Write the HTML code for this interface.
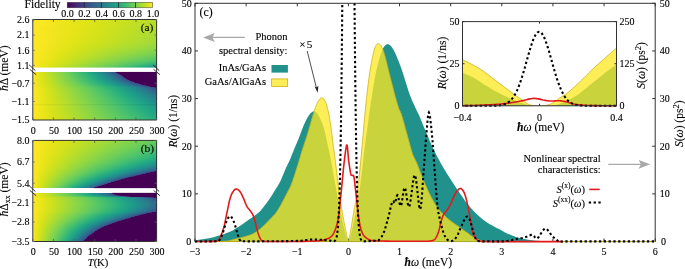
<!DOCTYPE html>
<html><head><meta charset="utf-8"><title>figure</title><style>
html,body{margin:0;padding:0;background:#fff;}
body{width:685px;height:269px;overflow:hidden;}
svg{display:block;font-family:"Liberation Serif",serif;will-change:transform;}
</style></head><body>
<svg xmlns="http://www.w3.org/2000/svg" width="685" height="269" viewBox="0 0 685 269">
<defs>
<linearGradient id="cb" x1="0" x2="1" y1="0" y2="0"><stop offset="0" stop-color="#440154"/><stop offset="0.1" stop-color="#482475"/><stop offset="0.2" stop-color="#414487"/><stop offset="0.3" stop-color="#355f8d"/><stop offset="0.4" stop-color="#2a788e"/><stop offset="0.5" stop-color="#21918c"/><stop offset="0.6" stop-color="#22a884"/><stop offset="0.7" stop-color="#44bf70"/><stop offset="0.8" stop-color="#7ad151"/><stop offset="0.9" stop-color="#bddf26"/><stop offset="1" stop-color="#fde725"/></linearGradient>
<clipPath id="cm"><rect x="195" y="3.3" width="460.2" height="239.4"/></clipPath>
<clipPath id="cm2"><rect x="192" y="3.3" width="466.2" height="242.2"/></clipPath>
</defs>
<defs><linearGradient id="h1"><stop offset="0.0000" stop-color="#fde725"/><stop offset="0.0667" stop-color="#fbe723"/><stop offset="0.1333" stop-color="#f6e620"/><stop offset="0.2000" stop-color="#f1e51d"/><stop offset="0.2667" stop-color="#ece51b"/><stop offset="0.3333" stop-color="#e7e419"/><stop offset="0.4000" stop-color="#e2e418"/><stop offset="0.4667" stop-color="#dde318"/><stop offset="0.5333" stop-color="#d8e219"/><stop offset="0.6000" stop-color="#d5e21a"/><stop offset="0.6667" stop-color="#d0e11c"/><stop offset="0.7333" stop-color="#cae11f"/><stop offset="0.8000" stop-color="#c5e021"/><stop offset="0.8667" stop-color="#c0df25"/><stop offset="0.9333" stop-color="#bade28"/><stop offset="1.0000" stop-color="#b5de2b"/></linearGradient><linearGradient id="h2"><stop offset="0.0000" stop-color="#fde725"/><stop offset="0.0667" stop-color="#fbe723"/><stop offset="0.1333" stop-color="#f6e620"/><stop offset="0.2000" stop-color="#f1e51d"/><stop offset="0.2667" stop-color="#ece51b"/><stop offset="0.3333" stop-color="#e7e419"/><stop offset="0.4000" stop-color="#e2e418"/><stop offset="0.4667" stop-color="#dde318"/><stop offset="0.5333" stop-color="#d8e219"/><stop offset="0.6000" stop-color="#d2e21b"/><stop offset="0.6667" stop-color="#d0e11c"/><stop offset="0.7333" stop-color="#cae11f"/><stop offset="0.8000" stop-color="#c5e021"/><stop offset="0.8667" stop-color="#c0df25"/><stop offset="0.9333" stop-color="#bade28"/><stop offset="1.0000" stop-color="#b5de2b"/></linearGradient><linearGradient id="h3"><stop offset="0.0000" stop-color="#fde725"/><stop offset="0.0667" stop-color="#fbe723"/><stop offset="0.1333" stop-color="#f6e620"/><stop offset="0.2000" stop-color="#f1e51d"/><stop offset="0.2667" stop-color="#ece51b"/><stop offset="0.3333" stop-color="#e7e419"/><stop offset="0.4000" stop-color="#e2e418"/><stop offset="0.4667" stop-color="#dde318"/><stop offset="0.5333" stop-color="#d8e219"/><stop offset="0.6000" stop-color="#d2e21b"/><stop offset="0.6667" stop-color="#cde11d"/><stop offset="0.7333" stop-color="#c8e020"/><stop offset="0.8000" stop-color="#c5e021"/><stop offset="0.8667" stop-color="#c0df25"/><stop offset="0.9333" stop-color="#bade28"/><stop offset="1.0000" stop-color="#b5de2b"/></linearGradient><linearGradient id="h4"><stop offset="0.0000" stop-color="#fde725"/><stop offset="0.0667" stop-color="#fbe723"/><stop offset="0.1333" stop-color="#f6e620"/><stop offset="0.2000" stop-color="#f1e51d"/><stop offset="0.2667" stop-color="#ece51b"/><stop offset="0.3333" stop-color="#e7e419"/><stop offset="0.4000" stop-color="#e2e418"/><stop offset="0.4667" stop-color="#dde318"/><stop offset="0.5333" stop-color="#d8e219"/><stop offset="0.6000" stop-color="#d2e21b"/><stop offset="0.6667" stop-color="#cde11d"/><stop offset="0.7333" stop-color="#c8e020"/><stop offset="0.8000" stop-color="#c2df23"/><stop offset="0.8667" stop-color="#bddf26"/><stop offset="0.9333" stop-color="#b8de29"/><stop offset="1.0000" stop-color="#b5de2b"/></linearGradient><linearGradient id="h5"><stop offset="0.0000" stop-color="#fde725"/><stop offset="0.0667" stop-color="#fbe723"/><stop offset="0.1333" stop-color="#f6e620"/><stop offset="0.2000" stop-color="#f1e51d"/><stop offset="0.2667" stop-color="#ece51b"/><stop offset="0.3333" stop-color="#e7e419"/><stop offset="0.4000" stop-color="#e2e418"/><stop offset="0.4667" stop-color="#dde318"/><stop offset="0.5333" stop-color="#d8e219"/><stop offset="0.6000" stop-color="#d2e21b"/><stop offset="0.6667" stop-color="#cde11d"/><stop offset="0.7333" stop-color="#c8e020"/><stop offset="0.8000" stop-color="#c2df23"/><stop offset="0.8667" stop-color="#bddf26"/><stop offset="0.9333" stop-color="#b8de29"/><stop offset="1.0000" stop-color="#b2dd2d"/></linearGradient><linearGradient id="h6"><stop offset="0.0000" stop-color="#fde725"/><stop offset="0.0667" stop-color="#fbe723"/><stop offset="0.1333" stop-color="#f6e620"/><stop offset="0.2000" stop-color="#f1e51d"/><stop offset="0.2667" stop-color="#ece51b"/><stop offset="0.3333" stop-color="#e7e419"/><stop offset="0.4000" stop-color="#e2e418"/><stop offset="0.4667" stop-color="#dde318"/><stop offset="0.5333" stop-color="#d8e219"/><stop offset="0.6000" stop-color="#d2e21b"/><stop offset="0.6667" stop-color="#cde11d"/><stop offset="0.7333" stop-color="#c8e020"/><stop offset="0.8000" stop-color="#c2df23"/><stop offset="0.8667" stop-color="#bddf26"/><stop offset="0.9333" stop-color="#b8de29"/><stop offset="1.0000" stop-color="#b2dd2d"/></linearGradient><linearGradient id="h7"><stop offset="0.0000" stop-color="#fde725"/><stop offset="0.0667" stop-color="#fbe723"/><stop offset="0.1333" stop-color="#f6e620"/><stop offset="0.2000" stop-color="#f1e51d"/><stop offset="0.2667" stop-color="#ece51b"/><stop offset="0.3333" stop-color="#e7e419"/><stop offset="0.4000" stop-color="#e2e418"/><stop offset="0.4667" stop-color="#dde318"/><stop offset="0.5333" stop-color="#d8e219"/><stop offset="0.6000" stop-color="#d2e21b"/><stop offset="0.6667" stop-color="#cde11d"/><stop offset="0.7333" stop-color="#c8e020"/><stop offset="0.8000" stop-color="#c2df23"/><stop offset="0.8667" stop-color="#bddf26"/><stop offset="0.9333" stop-color="#b8de29"/><stop offset="1.0000" stop-color="#b2dd2d"/></linearGradient><linearGradient id="h8"><stop offset="0.0000" stop-color="#fde725"/><stop offset="0.0667" stop-color="#f8e621"/><stop offset="0.1333" stop-color="#f4e61e"/><stop offset="0.2000" stop-color="#efe51c"/><stop offset="0.2667" stop-color="#eae51a"/><stop offset="0.3333" stop-color="#e5e419"/><stop offset="0.4000" stop-color="#dfe318"/><stop offset="0.4667" stop-color="#dae319"/><stop offset="0.5333" stop-color="#d5e21a"/><stop offset="0.6000" stop-color="#d0e11c"/><stop offset="0.6667" stop-color="#cae11f"/><stop offset="0.7333" stop-color="#c5e021"/><stop offset="0.8000" stop-color="#c0df25"/><stop offset="0.8667" stop-color="#bade28"/><stop offset="0.9333" stop-color="#b5de2b"/><stop offset="1.0000" stop-color="#b0dd2f"/></linearGradient><linearGradient id="h9"><stop offset="0.0000" stop-color="#fde725"/><stop offset="0.0667" stop-color="#f8e621"/><stop offset="0.1333" stop-color="#f4e61e"/><stop offset="0.2000" stop-color="#efe51c"/><stop offset="0.2667" stop-color="#eae51a"/><stop offset="0.3333" stop-color="#e5e419"/><stop offset="0.4000" stop-color="#dfe318"/><stop offset="0.4667" stop-color="#dae319"/><stop offset="0.5333" stop-color="#d5e21a"/><stop offset="0.6000" stop-color="#d0e11c"/><stop offset="0.6667" stop-color="#cae11f"/><stop offset="0.7333" stop-color="#c5e021"/><stop offset="0.8000" stop-color="#c0df25"/><stop offset="0.8667" stop-color="#bade28"/><stop offset="0.9333" stop-color="#b5de2b"/><stop offset="1.0000" stop-color="#b0dd2f"/></linearGradient><linearGradient id="h10"><stop offset="0.0000" stop-color="#fde725"/><stop offset="0.0667" stop-color="#f8e621"/><stop offset="0.1333" stop-color="#f4e61e"/><stop offset="0.2000" stop-color="#efe51c"/><stop offset="0.2667" stop-color="#eae51a"/><stop offset="0.3333" stop-color="#e5e419"/><stop offset="0.4000" stop-color="#dfe318"/><stop offset="0.4667" stop-color="#dae319"/><stop offset="0.5333" stop-color="#d5e21a"/><stop offset="0.6000" stop-color="#d0e11c"/><stop offset="0.6667" stop-color="#cae11f"/><stop offset="0.7333" stop-color="#c5e021"/><stop offset="0.8000" stop-color="#c0df25"/><stop offset="0.8667" stop-color="#bade28"/><stop offset="0.9333" stop-color="#b5de2b"/><stop offset="1.0000" stop-color="#b0dd2f"/></linearGradient><linearGradient id="h11"><stop offset="0.0000" stop-color="#fde725"/><stop offset="0.0667" stop-color="#f8e621"/><stop offset="0.1333" stop-color="#f4e61e"/><stop offset="0.2000" stop-color="#efe51c"/><stop offset="0.2667" stop-color="#eae51a"/><stop offset="0.3333" stop-color="#e5e419"/><stop offset="0.4000" stop-color="#dfe318"/><stop offset="0.4667" stop-color="#dae319"/><stop offset="0.5333" stop-color="#d5e21a"/><stop offset="0.6000" stop-color="#d0e11c"/><stop offset="0.6667" stop-color="#cae11f"/><stop offset="0.7333" stop-color="#c5e021"/><stop offset="0.8000" stop-color="#c0df25"/><stop offset="0.8667" stop-color="#bade28"/><stop offset="0.9333" stop-color="#b2dd2d"/><stop offset="1.0000" stop-color="#addc30"/></linearGradient><linearGradient id="h12"><stop offset="0.0000" stop-color="#fde725"/><stop offset="0.0667" stop-color="#f8e621"/><stop offset="0.1333" stop-color="#f4e61e"/><stop offset="0.2000" stop-color="#efe51c"/><stop offset="0.2667" stop-color="#eae51a"/><stop offset="0.3333" stop-color="#e5e419"/><stop offset="0.4000" stop-color="#dfe318"/><stop offset="0.4667" stop-color="#dae319"/><stop offset="0.5333" stop-color="#d5e21a"/><stop offset="0.6000" stop-color="#d0e11c"/><stop offset="0.6667" stop-color="#cae11f"/><stop offset="0.7333" stop-color="#c2df23"/><stop offset="0.8000" stop-color="#bddf26"/><stop offset="0.8667" stop-color="#b8de29"/><stop offset="0.9333" stop-color="#b2dd2d"/><stop offset="1.0000" stop-color="#addc30"/></linearGradient><linearGradient id="h13"><stop offset="0.0000" stop-color="#fde725"/><stop offset="0.0667" stop-color="#f8e621"/><stop offset="0.1333" stop-color="#f4e61e"/><stop offset="0.2000" stop-color="#efe51c"/><stop offset="0.2667" stop-color="#eae51a"/><stop offset="0.3333" stop-color="#e5e419"/><stop offset="0.4000" stop-color="#dfe318"/><stop offset="0.4667" stop-color="#dae319"/><stop offset="0.5333" stop-color="#d5e21a"/><stop offset="0.6000" stop-color="#cde11d"/><stop offset="0.6667" stop-color="#c8e020"/><stop offset="0.7333" stop-color="#c2df23"/><stop offset="0.8000" stop-color="#bddf26"/><stop offset="0.8667" stop-color="#b8de29"/><stop offset="0.9333" stop-color="#b2dd2d"/><stop offset="1.0000" stop-color="#addc30"/></linearGradient><linearGradient id="h14"><stop offset="0.0000" stop-color="#fde725"/><stop offset="0.0667" stop-color="#f8e621"/><stop offset="0.1333" stop-color="#f4e61e"/><stop offset="0.2000" stop-color="#efe51c"/><stop offset="0.2667" stop-color="#eae51a"/><stop offset="0.3333" stop-color="#e5e419"/><stop offset="0.4000" stop-color="#dfe318"/><stop offset="0.4667" stop-color="#dae319"/><stop offset="0.5333" stop-color="#d2e21b"/><stop offset="0.6000" stop-color="#cde11d"/><stop offset="0.6667" stop-color="#c8e020"/><stop offset="0.7333" stop-color="#c2df23"/><stop offset="0.8000" stop-color="#bddf26"/><stop offset="0.8667" stop-color="#b8de29"/><stop offset="0.9333" stop-color="#b0dd2f"/><stop offset="1.0000" stop-color="#aadc32"/></linearGradient><linearGradient id="h15"><stop offset="0.0000" stop-color="#fde725"/><stop offset="0.0667" stop-color="#f8e621"/><stop offset="0.1333" stop-color="#f4e61e"/><stop offset="0.2000" stop-color="#efe51c"/><stop offset="0.2667" stop-color="#eae51a"/><stop offset="0.3333" stop-color="#e5e419"/><stop offset="0.4000" stop-color="#dfe318"/><stop offset="0.4667" stop-color="#d8e219"/><stop offset="0.5333" stop-color="#d2e21b"/><stop offset="0.6000" stop-color="#cde11d"/><stop offset="0.6667" stop-color="#c8e020"/><stop offset="0.7333" stop-color="#c2df23"/><stop offset="0.8000" stop-color="#bddf26"/><stop offset="0.8667" stop-color="#b5de2b"/><stop offset="0.9333" stop-color="#b0dd2f"/><stop offset="1.0000" stop-color="#aadc32"/></linearGradient><linearGradient id="h16"><stop offset="0.0000" stop-color="#fde725"/><stop offset="0.0667" stop-color="#f8e621"/><stop offset="0.1333" stop-color="#f4e61e"/><stop offset="0.2000" stop-color="#efe51c"/><stop offset="0.2667" stop-color="#eae51a"/><stop offset="0.3333" stop-color="#e5e419"/><stop offset="0.4000" stop-color="#dde318"/><stop offset="0.4667" stop-color="#d8e219"/><stop offset="0.5333" stop-color="#d2e21b"/><stop offset="0.6000" stop-color="#cde11d"/><stop offset="0.6667" stop-color="#c8e020"/><stop offset="0.7333" stop-color="#c0df25"/><stop offset="0.8000" stop-color="#bade28"/><stop offset="0.8667" stop-color="#b5de2b"/><stop offset="0.9333" stop-color="#b0dd2f"/><stop offset="1.0000" stop-color="#aadc32"/></linearGradient><linearGradient id="h17"><stop offset="0.0000" stop-color="#fde725"/><stop offset="0.0667" stop-color="#f8e621"/><stop offset="0.1333" stop-color="#f4e61e"/><stop offset="0.2000" stop-color="#efe51c"/><stop offset="0.2667" stop-color="#eae51a"/><stop offset="0.3333" stop-color="#e2e418"/><stop offset="0.4000" stop-color="#dde318"/><stop offset="0.4667" stop-color="#d8e219"/><stop offset="0.5333" stop-color="#d2e21b"/><stop offset="0.6000" stop-color="#cde11d"/><stop offset="0.6667" stop-color="#c5e021"/><stop offset="0.7333" stop-color="#c0df25"/><stop offset="0.8000" stop-color="#bade28"/><stop offset="0.8667" stop-color="#b5de2b"/><stop offset="0.9333" stop-color="#addc30"/><stop offset="1.0000" stop-color="#a8db34"/></linearGradient><linearGradient id="h18"><stop offset="0.0000" stop-color="#fde725"/><stop offset="0.0667" stop-color="#f8e621"/><stop offset="0.1333" stop-color="#f4e61e"/><stop offset="0.2000" stop-color="#efe51c"/><stop offset="0.2667" stop-color="#eae51a"/><stop offset="0.3333" stop-color="#e2e418"/><stop offset="0.4000" stop-color="#dde318"/><stop offset="0.4667" stop-color="#d8e219"/><stop offset="0.5333" stop-color="#d2e21b"/><stop offset="0.6000" stop-color="#cae11f"/><stop offset="0.6667" stop-color="#c5e021"/><stop offset="0.7333" stop-color="#c0df25"/><stop offset="0.8000" stop-color="#bade28"/><stop offset="0.8667" stop-color="#b2dd2d"/><stop offset="0.9333" stop-color="#addc30"/><stop offset="1.0000" stop-color="#a8db34"/></linearGradient><linearGradient id="h19"><stop offset="0.0000" stop-color="#fde725"/><stop offset="0.0667" stop-color="#f8e621"/><stop offset="0.1333" stop-color="#f4e61e"/><stop offset="0.2000" stop-color="#efe51c"/><stop offset="0.2667" stop-color="#e7e419"/><stop offset="0.3333" stop-color="#e2e418"/><stop offset="0.4000" stop-color="#dde318"/><stop offset="0.4667" stop-color="#d8e219"/><stop offset="0.5333" stop-color="#d0e11c"/><stop offset="0.6000" stop-color="#cae11f"/><stop offset="0.6667" stop-color="#c5e021"/><stop offset="0.7333" stop-color="#c0df25"/><stop offset="0.8000" stop-color="#b8de29"/><stop offset="0.8667" stop-color="#b2dd2d"/><stop offset="0.9333" stop-color="#addc30"/><stop offset="1.0000" stop-color="#a8db34"/></linearGradient><linearGradient id="h20"><stop offset="0.0000" stop-color="#fde725"/><stop offset="0.0667" stop-color="#f8e621"/><stop offset="0.1333" stop-color="#f4e61e"/><stop offset="0.2000" stop-color="#efe51c"/><stop offset="0.2667" stop-color="#e7e419"/><stop offset="0.3333" stop-color="#e2e418"/><stop offset="0.4000" stop-color="#dde318"/><stop offset="0.4667" stop-color="#d5e21a"/><stop offset="0.5333" stop-color="#d0e11c"/><stop offset="0.6000" stop-color="#cae11f"/><stop offset="0.6667" stop-color="#c5e021"/><stop offset="0.7333" stop-color="#bddf26"/><stop offset="0.8000" stop-color="#b8de29"/><stop offset="0.8667" stop-color="#b2dd2d"/><stop offset="0.9333" stop-color="#aadc32"/><stop offset="1.0000" stop-color="#a5db36"/></linearGradient><linearGradient id="h21"><stop offset="0.0000" stop-color="#fde725"/><stop offset="0.0667" stop-color="#f8e621"/><stop offset="0.1333" stop-color="#f4e61e"/><stop offset="0.2000" stop-color="#efe51c"/><stop offset="0.2667" stop-color="#e7e419"/><stop offset="0.3333" stop-color="#e2e418"/><stop offset="0.4000" stop-color="#dde318"/><stop offset="0.4667" stop-color="#d5e21a"/><stop offset="0.5333" stop-color="#d0e11c"/><stop offset="0.6000" stop-color="#cae11f"/><stop offset="0.6667" stop-color="#c2df23"/><stop offset="0.7333" stop-color="#bddf26"/><stop offset="0.8000" stop-color="#b8de29"/><stop offset="0.8667" stop-color="#b0dd2f"/><stop offset="0.9333" stop-color="#aadc32"/><stop offset="1.0000" stop-color="#a5db36"/></linearGradient><linearGradient id="h22"><stop offset="0.0000" stop-color="#fde725"/><stop offset="0.0667" stop-color="#f8e621"/><stop offset="0.1333" stop-color="#f4e61e"/><stop offset="0.2000" stop-color="#ece51b"/><stop offset="0.2667" stop-color="#e7e419"/><stop offset="0.3333" stop-color="#e2e418"/><stop offset="0.4000" stop-color="#dae319"/><stop offset="0.4667" stop-color="#d5e21a"/><stop offset="0.5333" stop-color="#d0e11c"/><stop offset="0.6000" stop-color="#c8e020"/><stop offset="0.6667" stop-color="#c2df23"/><stop offset="0.7333" stop-color="#bddf26"/><stop offset="0.8000" stop-color="#b5de2b"/><stop offset="0.8667" stop-color="#b0dd2f"/><stop offset="0.9333" stop-color="#aadc32"/><stop offset="1.0000" stop-color="#a2da37"/></linearGradient><linearGradient id="h23"><stop offset="0.0000" stop-color="#fde725"/><stop offset="0.0667" stop-color="#f8e621"/><stop offset="0.1333" stop-color="#f4e61e"/><stop offset="0.2000" stop-color="#ece51b"/><stop offset="0.2667" stop-color="#e7e419"/><stop offset="0.3333" stop-color="#e2e418"/><stop offset="0.4000" stop-color="#dae319"/><stop offset="0.4667" stop-color="#d5e21a"/><stop offset="0.5333" stop-color="#cde11d"/><stop offset="0.6000" stop-color="#c8e020"/><stop offset="0.6667" stop-color="#c2df23"/><stop offset="0.7333" stop-color="#bade28"/><stop offset="0.8000" stop-color="#b5de2b"/><stop offset="0.8667" stop-color="#b0dd2f"/><stop offset="0.9333" stop-color="#a8db34"/><stop offset="1.0000" stop-color="#a2da37"/></linearGradient><linearGradient id="h24"><stop offset="0.0000" stop-color="#fde725"/><stop offset="0.0667" stop-color="#f8e621"/><stop offset="0.1333" stop-color="#f4e61e"/><stop offset="0.2000" stop-color="#ece51b"/><stop offset="0.2667" stop-color="#e7e419"/><stop offset="0.3333" stop-color="#dfe318"/><stop offset="0.4000" stop-color="#dae319"/><stop offset="0.4667" stop-color="#d5e21a"/><stop offset="0.5333" stop-color="#cde11d"/><stop offset="0.6000" stop-color="#c8e020"/><stop offset="0.6667" stop-color="#c0df25"/><stop offset="0.7333" stop-color="#bade28"/><stop offset="0.8000" stop-color="#b2dd2d"/><stop offset="0.8667" stop-color="#addc30"/><stop offset="0.9333" stop-color="#a8db34"/><stop offset="1.0000" stop-color="#a0da39"/></linearGradient><linearGradient id="h25"><stop offset="0.0000" stop-color="#fde725"/><stop offset="0.0667" stop-color="#f8e621"/><stop offset="0.1333" stop-color="#f4e61e"/><stop offset="0.2000" stop-color="#ece51b"/><stop offset="0.2667" stop-color="#e7e419"/><stop offset="0.3333" stop-color="#dfe318"/><stop offset="0.4000" stop-color="#dae319"/><stop offset="0.4667" stop-color="#d2e21b"/><stop offset="0.5333" stop-color="#cde11d"/><stop offset="0.6000" stop-color="#c5e021"/><stop offset="0.6667" stop-color="#c0df25"/><stop offset="0.7333" stop-color="#b8de29"/><stop offset="0.8000" stop-color="#b2dd2d"/><stop offset="0.8667" stop-color="#aadc32"/><stop offset="0.9333" stop-color="#a5db36"/><stop offset="1.0000" stop-color="#9dd93b"/></linearGradient><linearGradient id="h26"><stop offset="0.0000" stop-color="#fde725"/><stop offset="0.0667" stop-color="#f8e621"/><stop offset="0.1333" stop-color="#f1e51d"/><stop offset="0.2000" stop-color="#ece51b"/><stop offset="0.2667" stop-color="#e5e419"/><stop offset="0.3333" stop-color="#dfe318"/><stop offset="0.4000" stop-color="#d8e219"/><stop offset="0.4667" stop-color="#d2e21b"/><stop offset="0.5333" stop-color="#cae11f"/><stop offset="0.6000" stop-color="#c2df23"/><stop offset="0.6667" stop-color="#bddf26"/><stop offset="0.7333" stop-color="#b5de2b"/><stop offset="0.8000" stop-color="#b0dd2f"/><stop offset="0.8667" stop-color="#a8db34"/><stop offset="0.9333" stop-color="#a2da37"/><stop offset="1.0000" stop-color="#9bd93c"/></linearGradient><linearGradient id="h27"><stop offset="0.0000" stop-color="#fde725"/><stop offset="0.0667" stop-color="#f8e621"/><stop offset="0.1333" stop-color="#f1e51d"/><stop offset="0.2000" stop-color="#ece51b"/><stop offset="0.2667" stop-color="#e5e419"/><stop offset="0.3333" stop-color="#dde318"/><stop offset="0.4000" stop-color="#d8e219"/><stop offset="0.4667" stop-color="#d0e11c"/><stop offset="0.5333" stop-color="#c8e020"/><stop offset="0.6000" stop-color="#c2df23"/><stop offset="0.6667" stop-color="#bade28"/><stop offset="0.7333" stop-color="#b2dd2d"/><stop offset="0.8000" stop-color="#addc30"/><stop offset="0.8667" stop-color="#a5db36"/><stop offset="0.9333" stop-color="#9dd93b"/><stop offset="1.0000" stop-color="#98d83e"/></linearGradient><linearGradient id="h28"><stop offset="0.0000" stop-color="#fde725"/><stop offset="0.0667" stop-color="#f8e621"/><stop offset="0.1333" stop-color="#f1e51d"/><stop offset="0.2000" stop-color="#eae51a"/><stop offset="0.2667" stop-color="#e5e419"/><stop offset="0.3333" stop-color="#dde318"/><stop offset="0.4000" stop-color="#d5e21a"/><stop offset="0.4667" stop-color="#cde11d"/><stop offset="0.5333" stop-color="#c8e020"/><stop offset="0.6000" stop-color="#c0df25"/><stop offset="0.6667" stop-color="#b8de29"/><stop offset="0.7333" stop-color="#b0dd2f"/><stop offset="0.8000" stop-color="#aadc32"/><stop offset="0.8667" stop-color="#a2da37"/><stop offset="0.9333" stop-color="#9bd93c"/><stop offset="1.0000" stop-color="#95d840"/></linearGradient><linearGradient id="h29"><stop offset="0.0000" stop-color="#fde725"/><stop offset="0.0667" stop-color="#f8e621"/><stop offset="0.1333" stop-color="#f1e51d"/><stop offset="0.2000" stop-color="#eae51a"/><stop offset="0.2667" stop-color="#e2e418"/><stop offset="0.3333" stop-color="#dae319"/><stop offset="0.4000" stop-color="#d5e21a"/><stop offset="0.4667" stop-color="#cde11d"/><stop offset="0.5333" stop-color="#c5e021"/><stop offset="0.6000" stop-color="#bddf26"/><stop offset="0.6667" stop-color="#b5de2b"/><stop offset="0.7333" stop-color="#addc30"/><stop offset="0.8000" stop-color="#a8db34"/><stop offset="0.8667" stop-color="#a0da39"/><stop offset="0.9333" stop-color="#98d83e"/><stop offset="1.0000" stop-color="#90d743"/></linearGradient><linearGradient id="h30"><stop offset="0.0000" stop-color="#fde725"/><stop offset="0.0667" stop-color="#f8e621"/><stop offset="0.1333" stop-color="#f1e51d"/><stop offset="0.2000" stop-color="#eae51a"/><stop offset="0.2667" stop-color="#e2e418"/><stop offset="0.3333" stop-color="#dae319"/><stop offset="0.4000" stop-color="#d2e21b"/><stop offset="0.4667" stop-color="#cae11f"/><stop offset="0.5333" stop-color="#c2df23"/><stop offset="0.6000" stop-color="#bade28"/><stop offset="0.6667" stop-color="#b2dd2d"/><stop offset="0.7333" stop-color="#aadc32"/><stop offset="0.8000" stop-color="#a2da37"/><stop offset="0.8667" stop-color="#9dd93b"/><stop offset="0.9333" stop-color="#95d840"/><stop offset="1.0000" stop-color="#8ed645"/></linearGradient><linearGradient id="h31"><stop offset="0.0000" stop-color="#fde725"/><stop offset="0.0667" stop-color="#f6e620"/><stop offset="0.1333" stop-color="#efe51c"/><stop offset="0.2000" stop-color="#e7e419"/><stop offset="0.2667" stop-color="#dfe318"/><stop offset="0.3333" stop-color="#d8e219"/><stop offset="0.4000" stop-color="#d0e11c"/><stop offset="0.4667" stop-color="#c8e020"/><stop offset="0.5333" stop-color="#c0df25"/><stop offset="0.6000" stop-color="#b8de29"/><stop offset="0.6667" stop-color="#b0dd2f"/><stop offset="0.7333" stop-color="#a8db34"/><stop offset="0.8000" stop-color="#a0da39"/><stop offset="0.8667" stop-color="#98d83e"/><stop offset="0.9333" stop-color="#90d743"/><stop offset="1.0000" stop-color="#89d548"/></linearGradient><linearGradient id="h32"><stop offset="0.0000" stop-color="#fde725"/><stop offset="0.0667" stop-color="#f6e620"/><stop offset="0.1333" stop-color="#efe51c"/><stop offset="0.2000" stop-color="#e7e419"/><stop offset="0.2667" stop-color="#dfe318"/><stop offset="0.3333" stop-color="#d8e219"/><stop offset="0.4000" stop-color="#d0e11c"/><stop offset="0.4667" stop-color="#c8e020"/><stop offset="0.5333" stop-color="#bddf26"/><stop offset="0.6000" stop-color="#b5de2b"/><stop offset="0.6667" stop-color="#addc30"/><stop offset="0.7333" stop-color="#a5db36"/><stop offset="0.8000" stop-color="#9dd93b"/><stop offset="0.8667" stop-color="#95d840"/><stop offset="0.9333" stop-color="#8ed645"/><stop offset="1.0000" stop-color="#84d44b"/></linearGradient><linearGradient id="h33"><stop offset="0.0000" stop-color="#fde725"/><stop offset="0.0667" stop-color="#f6e620"/><stop offset="0.1333" stop-color="#efe51c"/><stop offset="0.2000" stop-color="#e7e419"/><stop offset="0.2667" stop-color="#dde318"/><stop offset="0.3333" stop-color="#d5e21a"/><stop offset="0.4000" stop-color="#cde11d"/><stop offset="0.4667" stop-color="#c5e021"/><stop offset="0.5333" stop-color="#bade28"/><stop offset="0.6000" stop-color="#b2dd2d"/><stop offset="0.6667" stop-color="#aadc32"/><stop offset="0.7333" stop-color="#a2da37"/><stop offset="0.8000" stop-color="#98d83e"/><stop offset="0.8667" stop-color="#90d743"/><stop offset="0.9333" stop-color="#89d548"/><stop offset="1.0000" stop-color="#81d34d"/></linearGradient><linearGradient id="h34"><stop offset="0.0000" stop-color="#fde725"/><stop offset="0.0667" stop-color="#f6e620"/><stop offset="0.1333" stop-color="#efe51c"/><stop offset="0.2000" stop-color="#e5e419"/><stop offset="0.2667" stop-color="#dde318"/><stop offset="0.3333" stop-color="#d5e21a"/><stop offset="0.4000" stop-color="#cae11f"/><stop offset="0.4667" stop-color="#c2df23"/><stop offset="0.5333" stop-color="#b8de29"/><stop offset="0.6000" stop-color="#b0dd2f"/><stop offset="0.6667" stop-color="#a8db34"/><stop offset="0.7333" stop-color="#9dd93b"/><stop offset="0.8000" stop-color="#95d840"/><stop offset="0.8667" stop-color="#8ed645"/><stop offset="0.9333" stop-color="#84d44b"/><stop offset="1.0000" stop-color="#7cd250"/></linearGradient><linearGradient id="h35"><stop offset="0.0000" stop-color="#fde725"/><stop offset="0.0667" stop-color="#f6e620"/><stop offset="0.1333" stop-color="#ece51b"/><stop offset="0.2000" stop-color="#e5e419"/><stop offset="0.2667" stop-color="#dae319"/><stop offset="0.3333" stop-color="#d2e21b"/><stop offset="0.4000" stop-color="#c8e020"/><stop offset="0.4667" stop-color="#c0df25"/><stop offset="0.5333" stop-color="#b5de2b"/><stop offset="0.6000" stop-color="#addc30"/><stop offset="0.6667" stop-color="#a2da37"/><stop offset="0.7333" stop-color="#9bd93c"/><stop offset="0.8000" stop-color="#90d743"/><stop offset="0.8667" stop-color="#89d548"/><stop offset="0.9333" stop-color="#7fd34e"/><stop offset="1.0000" stop-color="#75d054"/></linearGradient><linearGradient id="h36"><stop offset="0.0000" stop-color="#fde725"/><stop offset="0.0667" stop-color="#f6e620"/><stop offset="0.1333" stop-color="#ece51b"/><stop offset="0.2000" stop-color="#e2e418"/><stop offset="0.2667" stop-color="#dae319"/><stop offset="0.3333" stop-color="#d0e11c"/><stop offset="0.4000" stop-color="#c5e021"/><stop offset="0.4667" stop-color="#bddf26"/><stop offset="0.5333" stop-color="#b2dd2d"/><stop offset="0.6000" stop-color="#a8db34"/><stop offset="0.6667" stop-color="#a0da39"/><stop offset="0.7333" stop-color="#95d840"/><stop offset="0.8000" stop-color="#8bd646"/><stop offset="0.8667" stop-color="#84d44b"/><stop offset="0.9333" stop-color="#7ad151"/><stop offset="1.0000" stop-color="#70cf57"/></linearGradient><linearGradient id="h37"><stop offset="0.0000" stop-color="#fde725"/><stop offset="0.0667" stop-color="#f6e620"/><stop offset="0.1333" stop-color="#ece51b"/><stop offset="0.2000" stop-color="#e2e418"/><stop offset="0.2667" stop-color="#d8e219"/><stop offset="0.3333" stop-color="#cde11d"/><stop offset="0.4000" stop-color="#c5e021"/><stop offset="0.4667" stop-color="#bade28"/><stop offset="0.5333" stop-color="#b0dd2f"/><stop offset="0.6000" stop-color="#a5db36"/><stop offset="0.6667" stop-color="#9bd93c"/><stop offset="0.7333" stop-color="#90d743"/><stop offset="0.8000" stop-color="#89d548"/><stop offset="0.8667" stop-color="#7fd34e"/><stop offset="0.9333" stop-color="#75d054"/><stop offset="1.0000" stop-color="#6ccd5a"/></linearGradient><linearGradient id="h38"><stop offset="0.0000" stop-color="#fde725"/><stop offset="0.0667" stop-color="#f6e620"/><stop offset="0.1333" stop-color="#ece51b"/><stop offset="0.2000" stop-color="#e2e418"/><stop offset="0.2667" stop-color="#d8e219"/><stop offset="0.3333" stop-color="#cde11d"/><stop offset="0.4000" stop-color="#c2df23"/><stop offset="0.4667" stop-color="#b8de29"/><stop offset="0.5333" stop-color="#addc30"/><stop offset="0.6000" stop-color="#a2da37"/><stop offset="0.6667" stop-color="#98d83e"/><stop offset="0.7333" stop-color="#8ed645"/><stop offset="0.8000" stop-color="#84d44b"/><stop offset="0.8667" stop-color="#7ad151"/><stop offset="0.9333" stop-color="#70cf57"/><stop offset="1.0000" stop-color="#65cb5e"/></linearGradient><linearGradient id="h39"><stop offset="0.0000" stop-color="#fde725"/><stop offset="0.0667" stop-color="#f4e61e"/><stop offset="0.1333" stop-color="#eae51a"/><stop offset="0.2000" stop-color="#dfe318"/><stop offset="0.2667" stop-color="#d5e21a"/><stop offset="0.3333" stop-color="#cae11f"/><stop offset="0.4000" stop-color="#c0df25"/><stop offset="0.4667" stop-color="#b5de2b"/><stop offset="0.5333" stop-color="#a8db34"/><stop offset="0.6000" stop-color="#9dd93b"/><stop offset="0.6667" stop-color="#93d741"/><stop offset="0.7333" stop-color="#89d548"/><stop offset="0.8000" stop-color="#7fd34e"/><stop offset="0.8667" stop-color="#75d054"/><stop offset="0.9333" stop-color="#69cd5b"/><stop offset="1.0000" stop-color="#60ca60"/></linearGradient><linearGradient id="h40"><stop offset="0.0000" stop-color="#fde725"/><stop offset="0.0667" stop-color="#f4e61e"/><stop offset="0.1333" stop-color="#eae51a"/><stop offset="0.2000" stop-color="#dfe318"/><stop offset="0.2667" stop-color="#d2e21b"/><stop offset="0.3333" stop-color="#c8e020"/><stop offset="0.4000" stop-color="#bddf26"/><stop offset="0.4667" stop-color="#b0dd2f"/><stop offset="0.5333" stop-color="#a5db36"/><stop offset="0.6000" stop-color="#9bd93c"/><stop offset="0.6667" stop-color="#8ed645"/><stop offset="0.7333" stop-color="#84d44b"/><stop offset="0.8000" stop-color="#7ad151"/><stop offset="0.8667" stop-color="#6ece58"/><stop offset="0.9333" stop-color="#65cb5e"/><stop offset="1.0000" stop-color="#5ac864"/></linearGradient><linearGradient id="h41"><stop offset="0.0000" stop-color="#fde725"/><stop offset="0.0667" stop-color="#f4e61e"/><stop offset="0.1333" stop-color="#eae51a"/><stop offset="0.2000" stop-color="#dde318"/><stop offset="0.2667" stop-color="#d2e21b"/><stop offset="0.3333" stop-color="#c5e021"/><stop offset="0.4000" stop-color="#bade28"/><stop offset="0.4667" stop-color="#addc30"/><stop offset="0.5333" stop-color="#a2da37"/><stop offset="0.6000" stop-color="#95d840"/><stop offset="0.6667" stop-color="#8bd646"/><stop offset="0.7333" stop-color="#7fd34e"/><stop offset="0.8000" stop-color="#73d056"/><stop offset="0.8667" stop-color="#69cd5b"/><stop offset="0.9333" stop-color="#5ec962"/><stop offset="1.0000" stop-color="#54c568"/></linearGradient><linearGradient id="h42"><stop offset="0.0000" stop-color="#fde725"/><stop offset="0.0667" stop-color="#f4e61e"/><stop offset="0.1333" stop-color="#e7e419"/><stop offset="0.2000" stop-color="#dae319"/><stop offset="0.2667" stop-color="#d0e11c"/><stop offset="0.3333" stop-color="#c2df23"/><stop offset="0.4000" stop-color="#b5de2b"/><stop offset="0.4667" stop-color="#aadc32"/><stop offset="0.5333" stop-color="#9dd93b"/><stop offset="0.6000" stop-color="#90d743"/><stop offset="0.6667" stop-color="#86d549"/><stop offset="0.7333" stop-color="#7ad151"/><stop offset="0.8000" stop-color="#6ece58"/><stop offset="0.8667" stop-color="#63cb5f"/><stop offset="0.9333" stop-color="#58c765"/><stop offset="1.0000" stop-color="#4cc26c"/></linearGradient><linearGradient id="h43"><stop offset="0.0000" stop-color="#fde725"/><stop offset="0.0667" stop-color="#f4e61e"/><stop offset="0.1333" stop-color="#e7e419"/><stop offset="0.2000" stop-color="#dae319"/><stop offset="0.2667" stop-color="#cde11d"/><stop offset="0.3333" stop-color="#c0df25"/><stop offset="0.4000" stop-color="#b2dd2d"/><stop offset="0.4667" stop-color="#a5db36"/><stop offset="0.5333" stop-color="#98d83e"/><stop offset="0.6000" stop-color="#8bd646"/><stop offset="0.6667" stop-color="#7fd34e"/><stop offset="0.7333" stop-color="#73d056"/><stop offset="0.8000" stop-color="#67cc5c"/><stop offset="0.8667" stop-color="#5cc863"/><stop offset="0.9333" stop-color="#50c46a"/><stop offset="1.0000" stop-color="#44bf70"/></linearGradient><linearGradient id="h44"><stop offset="0.0000" stop-color="#fde725"/><stop offset="0.0667" stop-color="#f1e51d"/><stop offset="0.1333" stop-color="#e5e419"/><stop offset="0.2000" stop-color="#d8e219"/><stop offset="0.2667" stop-color="#cae11f"/><stop offset="0.3333" stop-color="#bddf26"/><stop offset="0.4000" stop-color="#b0dd2f"/><stop offset="0.4667" stop-color="#a0da39"/><stop offset="0.5333" stop-color="#93d741"/><stop offset="0.6000" stop-color="#86d549"/><stop offset="0.6667" stop-color="#7ad151"/><stop offset="0.7333" stop-color="#6ccd5a"/><stop offset="0.8000" stop-color="#60ca60"/><stop offset="0.8667" stop-color="#54c568"/><stop offset="0.9333" stop-color="#48c16e"/><stop offset="1.0000" stop-color="#3bbb75"/></linearGradient><linearGradient id="h45"><stop offset="0.0000" stop-color="#fde725"/><stop offset="0.0667" stop-color="#f1e51d"/><stop offset="0.1333" stop-color="#e5e419"/><stop offset="0.2000" stop-color="#d5e21a"/><stop offset="0.2667" stop-color="#c8e020"/><stop offset="0.3333" stop-color="#b8de29"/><stop offset="0.4000" stop-color="#aadc32"/><stop offset="0.4667" stop-color="#9dd93b"/><stop offset="0.5333" stop-color="#8ed645"/><stop offset="0.6000" stop-color="#81d34d"/><stop offset="0.6667" stop-color="#73d056"/><stop offset="0.7333" stop-color="#65cb5e"/><stop offset="0.8000" stop-color="#58c765"/><stop offset="0.8667" stop-color="#4cc26c"/><stop offset="0.9333" stop-color="#3fbc73"/><stop offset="1.0000" stop-color="#31b57b"/></linearGradient><linearGradient id="h46"><stop offset="0.0000" stop-color="#fde725"/><stop offset="0.0667" stop-color="#f1e51d"/><stop offset="0.1333" stop-color="#e2e418"/><stop offset="0.2000" stop-color="#d2e21b"/><stop offset="0.2667" stop-color="#c5e021"/><stop offset="0.3333" stop-color="#b5de2b"/><stop offset="0.4000" stop-color="#a5db36"/><stop offset="0.4667" stop-color="#95d840"/><stop offset="0.5333" stop-color="#89d548"/><stop offset="0.6000" stop-color="#7ad151"/><stop offset="0.6667" stop-color="#6ccd5a"/><stop offset="0.7333" stop-color="#5ec962"/><stop offset="0.8000" stop-color="#50c46a"/><stop offset="0.8667" stop-color="#42be71"/><stop offset="0.9333" stop-color="#34b679"/><stop offset="1.0000" stop-color="#27ad81"/></linearGradient><linearGradient id="h47"><stop offset="0.0000" stop-color="#fde725"/><stop offset="0.0667" stop-color="#efe51c"/><stop offset="0.1333" stop-color="#dfe318"/><stop offset="0.2000" stop-color="#d0e11c"/><stop offset="0.2667" stop-color="#c0df25"/><stop offset="0.3333" stop-color="#b0dd2f"/><stop offset="0.4000" stop-color="#a0da39"/><stop offset="0.4667" stop-color="#90d743"/><stop offset="0.5333" stop-color="#81d34d"/><stop offset="0.6000" stop-color="#73d056"/><stop offset="0.6667" stop-color="#63cb5f"/><stop offset="0.7333" stop-color="#56c667"/><stop offset="0.8000" stop-color="#46c06f"/><stop offset="0.8667" stop-color="#38b977"/><stop offset="0.9333" stop-color="#29af7f"/><stop offset="1.0000" stop-color="#20a386"/></linearGradient><linearGradient id="h48"><stop offset="0.0000" stop-color="#fde725"/><stop offset="0.0667" stop-color="#efe51c"/><stop offset="0.1333" stop-color="#dfe318"/><stop offset="0.2000" stop-color="#cde11d"/><stop offset="0.2667" stop-color="#bddf26"/><stop offset="0.3333" stop-color="#addc30"/><stop offset="0.4000" stop-color="#9bd93c"/><stop offset="0.4667" stop-color="#8bd646"/><stop offset="0.5333" stop-color="#7cd250"/><stop offset="0.6000" stop-color="#6ccd5a"/><stop offset="0.6667" stop-color="#5cc863"/><stop offset="0.7333" stop-color="#4ec36b"/><stop offset="0.8000" stop-color="#3dbc74"/><stop offset="0.8667" stop-color="#2fb47c"/><stop offset="0.9333" stop-color="#22a884"/><stop offset="1.0000" stop-color="#1f998a"/></linearGradient><linearGradient id="h49"><stop offset="0.0000" stop-color="#fde725"/><stop offset="0.0667" stop-color="#efe51c"/><stop offset="0.1333" stop-color="#dfe318"/><stop offset="0.2000" stop-color="#cde11d"/><stop offset="0.2667" stop-color="#bddf26"/><stop offset="0.3333" stop-color="#aadc32"/><stop offset="0.4000" stop-color="#9bd93c"/><stop offset="0.4667" stop-color="#89d548"/><stop offset="0.5333" stop-color="#77d153"/><stop offset="0.6000" stop-color="#69cd5b"/><stop offset="0.6667" stop-color="#5ac864"/><stop offset="0.7333" stop-color="#4ac16d"/><stop offset="0.8000" stop-color="#3aba76"/><stop offset="0.8667" stop-color="#2ab07f"/><stop offset="0.9333" stop-color="#20a386"/><stop offset="1.0000" stop-color="#20928c"/></linearGradient><linearGradient id="h50"><stop offset="0.0000" stop-color="#fde725"/><stop offset="0.0447" stop-color="#e7e419"/><stop offset="0.0895" stop-color="#d0e11c"/><stop offset="0.1342" stop-color="#b8de29"/><stop offset="0.1789" stop-color="#a0da39"/><stop offset="0.2237" stop-color="#89d548"/><stop offset="0.2684" stop-color="#73d056"/><stop offset="0.3131" stop-color="#5cc863"/><stop offset="0.3579" stop-color="#46c06f"/><stop offset="0.4026" stop-color="#34b679"/><stop offset="0.4473" stop-color="#25ab82"/><stop offset="0.4921" stop-color="#1f9e89"/><stop offset="0.5368" stop-color="#228d8d"/><stop offset="0.5815" stop-color="#297a8e"/><stop offset="0.6110" stop-color="#2f6c8e"/><stop offset="0.6263" stop-color="#33638d"/><stop offset="0.6360" stop-color="#365d8d"/><stop offset="0.6510" stop-color="#3b528b"/><stop offset="0.6610" stop-color="#3e4c8a"/><stop offset="0.6670" stop-color="#404688"/><stop offset="0.6710" stop-color="#440154"/><stop offset="1.0000" stop-color="#414487"/></linearGradient><linearGradient id="h51"><stop offset="0.0000" stop-color="#fde725"/><stop offset="0.0452" stop-color="#e7e419"/><stop offset="0.0904" stop-color="#d0e11c"/><stop offset="0.1356" stop-color="#b8de29"/><stop offset="0.1808" stop-color="#a0da39"/><stop offset="0.2260" stop-color="#89d548"/><stop offset="0.2712" stop-color="#73d056"/><stop offset="0.3164" stop-color="#5cc863"/><stop offset="0.3616" stop-color="#46c06f"/><stop offset="0.4068" stop-color="#34b679"/><stop offset="0.4520" stop-color="#25ab82"/><stop offset="0.4972" stop-color="#1e9d89"/><stop offset="0.5424" stop-color="#228d8d"/><stop offset="0.5876" stop-color="#297a8e"/><stop offset="0.6180" stop-color="#2f6b8e"/><stop offset="0.6328" stop-color="#33638d"/><stop offset="0.6430" stop-color="#365d8d"/><stop offset="0.6580" stop-color="#3b528b"/><stop offset="0.6680" stop-color="#3e4a89"/><stop offset="0.6740" stop-color="#404688"/><stop offset="0.6780" stop-color="#440154"/><stop offset="1.0000" stop-color="#414487"/></linearGradient><linearGradient id="h52"><stop offset="0.0000" stop-color="#fde725"/><stop offset="0.0461" stop-color="#e7e419"/><stop offset="0.0923" stop-color="#d0e11c"/><stop offset="0.1384" stop-color="#b8de29"/><stop offset="0.1845" stop-color="#a0da39"/><stop offset="0.2307" stop-color="#89d548"/><stop offset="0.2768" stop-color="#73d056"/><stop offset="0.3229" stop-color="#5cc863"/><stop offset="0.3691" stop-color="#46c06f"/><stop offset="0.4152" stop-color="#34b679"/><stop offset="0.4613" stop-color="#25ab82"/><stop offset="0.5075" stop-color="#1f9e89"/><stop offset="0.5536" stop-color="#218e8d"/><stop offset="0.5997" stop-color="#297a8e"/><stop offset="0.6320" stop-color="#2f6b8e"/><stop offset="0.6459" stop-color="#33638d"/><stop offset="0.6570" stop-color="#365c8d"/><stop offset="0.6720" stop-color="#3b528b"/><stop offset="0.6820" stop-color="#3e4a89"/><stop offset="0.6880" stop-color="#404688"/><stop offset="0.6920" stop-color="#440154"/><stop offset="1.0000" stop-color="#414487"/></linearGradient><linearGradient id="h53"><stop offset="0.0000" stop-color="#fde725"/><stop offset="0.0471" stop-color="#e7e419"/><stop offset="0.0942" stop-color="#d0e11c"/><stop offset="0.1413" stop-color="#b8de29"/><stop offset="0.1884" stop-color="#a0da39"/><stop offset="0.2355" stop-color="#89d548"/><stop offset="0.2826" stop-color="#73d056"/><stop offset="0.3297" stop-color="#5cc863"/><stop offset="0.3768" stop-color="#46c06f"/><stop offset="0.4239" stop-color="#34b679"/><stop offset="0.4710" stop-color="#25ab82"/><stop offset="0.5181" stop-color="#1f9e89"/><stop offset="0.5652" stop-color="#228d8d"/><stop offset="0.6123" stop-color="#297a8e"/><stop offset="0.6465" stop-color="#306a8e"/><stop offset="0.6594" stop-color="#33638d"/><stop offset="0.6715" stop-color="#365c8d"/><stop offset="0.6865" stop-color="#3b528b"/><stop offset="0.6965" stop-color="#3e4a89"/><stop offset="0.7025" stop-color="#404688"/><stop offset="0.7065" stop-color="#440154"/><stop offset="1.0000" stop-color="#414487"/></linearGradient><linearGradient id="h54"><stop offset="0.0000" stop-color="#fde725"/><stop offset="0.0480" stop-color="#e7e419"/><stop offset="0.0961" stop-color="#d0e11c"/><stop offset="0.1441" stop-color="#b8de29"/><stop offset="0.1921" stop-color="#a0da39"/><stop offset="0.2402" stop-color="#89d548"/><stop offset="0.2882" stop-color="#73d056"/><stop offset="0.3362" stop-color="#5cc863"/><stop offset="0.3843" stop-color="#46c06f"/><stop offset="0.4323" stop-color="#34b679"/><stop offset="0.4803" stop-color="#25ab82"/><stop offset="0.5284" stop-color="#1f9e89"/><stop offset="0.5764" stop-color="#228d8d"/><stop offset="0.6244" stop-color="#297a8e"/><stop offset="0.6605" stop-color="#30698e"/><stop offset="0.6725" stop-color="#33638d"/><stop offset="0.6855" stop-color="#375b8d"/><stop offset="0.7005" stop-color="#3b518b"/><stop offset="0.7105" stop-color="#3e4a89"/><stop offset="0.7165" stop-color="#404688"/><stop offset="0.7205" stop-color="#440154"/><stop offset="1.0000" stop-color="#414487"/></linearGradient><linearGradient id="h55"><stop offset="0.0000" stop-color="#fde725"/><stop offset="0.0488" stop-color="#e7e419"/><stop offset="0.0976" stop-color="#d0e11c"/><stop offset="0.1464" stop-color="#b8de29"/><stop offset="0.1952" stop-color="#a0da39"/><stop offset="0.2440" stop-color="#89d548"/><stop offset="0.2928" stop-color="#73d056"/><stop offset="0.3416" stop-color="#5cc863"/><stop offset="0.3904" stop-color="#46c06f"/><stop offset="0.4392" stop-color="#34b679"/><stop offset="0.4880" stop-color="#25ab82"/><stop offset="0.5368" stop-color="#1f9e89"/><stop offset="0.5856" stop-color="#228d8d"/><stop offset="0.6344" stop-color="#297a8e"/><stop offset="0.6720" stop-color="#30698e"/><stop offset="0.6832" stop-color="#33638d"/><stop offset="0.6970" stop-color="#375b8d"/><stop offset="0.7120" stop-color="#3b518b"/><stop offset="0.7220" stop-color="#3e4a89"/><stop offset="0.7280" stop-color="#404688"/><stop offset="0.7320" stop-color="#440154"/><stop offset="1.0000" stop-color="#414487"/></linearGradient><linearGradient id="h56"><stop offset="0.0000" stop-color="#fde725"/><stop offset="0.0496" stop-color="#e7e419"/><stop offset="0.0991" stop-color="#d0e11c"/><stop offset="0.1487" stop-color="#b8de29"/><stop offset="0.1983" stop-color="#a0da39"/><stop offset="0.2478" stop-color="#89d548"/><stop offset="0.2974" stop-color="#73d056"/><stop offset="0.3470" stop-color="#5cc863"/><stop offset="0.3965" stop-color="#46c06f"/><stop offset="0.4461" stop-color="#34b679"/><stop offset="0.4957" stop-color="#25ab82"/><stop offset="0.5452" stop-color="#1f9e89"/><stop offset="0.5948" stop-color="#228d8d"/><stop offset="0.6444" stop-color="#297a8e"/><stop offset="0.6835" stop-color="#31688e"/><stop offset="0.6939" stop-color="#33638d"/><stop offset="0.7085" stop-color="#375b8d"/><stop offset="0.7235" stop-color="#3b518b"/><stop offset="0.7335" stop-color="#3e4a89"/><stop offset="0.7395" stop-color="#404688"/><stop offset="0.7435" stop-color="#440154"/><stop offset="1.0000" stop-color="#414487"/></linearGradient><linearGradient id="h57"><stop offset="0.0000" stop-color="#fde725"/><stop offset="0.0503" stop-color="#e7e419"/><stop offset="0.1007" stop-color="#d0e11c"/><stop offset="0.1510" stop-color="#b8de29"/><stop offset="0.2013" stop-color="#a0da39"/><stop offset="0.2517" stop-color="#89d548"/><stop offset="0.3020" stop-color="#73d056"/><stop offset="0.3523" stop-color="#5cc863"/><stop offset="0.4027" stop-color="#46c06f"/><stop offset="0.4530" stop-color="#34b679"/><stop offset="0.5033" stop-color="#25ab82"/><stop offset="0.5537" stop-color="#1f9e89"/><stop offset="0.6040" stop-color="#228d8d"/><stop offset="0.6543" stop-color="#297a8e"/><stop offset="0.6950" stop-color="#31688e"/><stop offset="0.7047" stop-color="#33638d"/><stop offset="0.7200" stop-color="#375b8d"/><stop offset="0.7350" stop-color="#3b518b"/><stop offset="0.7450" stop-color="#3e4a89"/><stop offset="0.7510" stop-color="#404688"/><stop offset="0.7550" stop-color="#440154"/><stop offset="1.0000" stop-color="#414487"/></linearGradient><linearGradient id="h58"><stop offset="0.0000" stop-color="#fde725"/><stop offset="0.0512" stop-color="#e7e419"/><stop offset="0.1025" stop-color="#d0e11c"/><stop offset="0.1537" stop-color="#b8de29"/><stop offset="0.2049" stop-color="#a0da39"/><stop offset="0.2562" stop-color="#89d548"/><stop offset="0.3074" stop-color="#73d056"/><stop offset="0.3586" stop-color="#5cc863"/><stop offset="0.4099" stop-color="#46c06f"/><stop offset="0.4611" stop-color="#34b679"/><stop offset="0.5123" stop-color="#25ab82"/><stop offset="0.5636" stop-color="#1f9e89"/><stop offset="0.6148" stop-color="#218e8d"/><stop offset="0.6660" stop-color="#297a8e"/><stop offset="0.7085" stop-color="#31678e"/><stop offset="0.7173" stop-color="#33638d"/><stop offset="0.7335" stop-color="#375a8c"/><stop offset="0.7485" stop-color="#3b518b"/><stop offset="0.7585" stop-color="#3e4a89"/><stop offset="0.7645" stop-color="#404688"/><stop offset="0.7685" stop-color="#440154"/><stop offset="1.0000" stop-color="#414487"/></linearGradient><linearGradient id="h59"><stop offset="0.0000" stop-color="#fde725"/><stop offset="0.0525" stop-color="#e7e419"/><stop offset="0.1051" stop-color="#d0e11c"/><stop offset="0.1576" stop-color="#b8de29"/><stop offset="0.2101" stop-color="#a0da39"/><stop offset="0.2627" stop-color="#89d548"/><stop offset="0.3152" stop-color="#73d056"/><stop offset="0.3677" stop-color="#5cc863"/><stop offset="0.4203" stop-color="#46c06f"/><stop offset="0.4728" stop-color="#34b679"/><stop offset="0.5253" stop-color="#25ab82"/><stop offset="0.5779" stop-color="#1f9e89"/><stop offset="0.6304" stop-color="#228d8d"/><stop offset="0.6829" stop-color="#297a8e"/><stop offset="0.7280" stop-color="#31678e"/><stop offset="0.7355" stop-color="#33638d"/><stop offset="0.7530" stop-color="#375a8c"/><stop offset="0.7680" stop-color="#3c508b"/><stop offset="0.7780" stop-color="#3e4a89"/><stop offset="0.7840" stop-color="#404688"/><stop offset="0.7880" stop-color="#440154"/><stop offset="1.0000" stop-color="#414487"/></linearGradient><linearGradient id="h60"><stop offset="0.0000" stop-color="#fde725"/><stop offset="0.0538" stop-color="#e7e419"/><stop offset="0.1076" stop-color="#d0e11c"/><stop offset="0.1614" stop-color="#b8de29"/><stop offset="0.2152" stop-color="#a0da39"/><stop offset="0.2690" stop-color="#89d548"/><stop offset="0.3228" stop-color="#73d056"/><stop offset="0.3766" stop-color="#5cc863"/><stop offset="0.4304" stop-color="#46c06f"/><stop offset="0.4842" stop-color="#34b679"/><stop offset="0.5380" stop-color="#25ab82"/><stop offset="0.5918" stop-color="#1f9e89"/><stop offset="0.6456" stop-color="#218e8d"/><stop offset="0.6994" stop-color="#297a8e"/><stop offset="0.7470" stop-color="#31668e"/><stop offset="0.7532" stop-color="#33638d"/><stop offset="0.7720" stop-color="#38598c"/><stop offset="0.7870" stop-color="#3c508b"/><stop offset="0.7970" stop-color="#3e4a89"/><stop offset="0.8030" stop-color="#404688"/><stop offset="0.8070" stop-color="#414487"/><stop offset="1.0000" stop-color="#414487"/></linearGradient><linearGradient id="h61"><stop offset="0.0000" stop-color="#fde725"/><stop offset="0.0553" stop-color="#e7e419"/><stop offset="0.1106" stop-color="#d0e11c"/><stop offset="0.1659" stop-color="#b8de29"/><stop offset="0.2212" stop-color="#a0da39"/><stop offset="0.2765" stop-color="#89d548"/><stop offset="0.3318" stop-color="#73d056"/><stop offset="0.3871" stop-color="#5cc863"/><stop offset="0.4424" stop-color="#46c06f"/><stop offset="0.4977" stop-color="#34b679"/><stop offset="0.5530" stop-color="#25ab82"/><stop offset="0.6083" stop-color="#1f9e89"/><stop offset="0.6636" stop-color="#218e8d"/><stop offset="0.7189" stop-color="#297a8e"/><stop offset="0.7695" stop-color="#32658e"/><stop offset="0.7742" stop-color="#33638d"/><stop offset="0.7945" stop-color="#38598c"/><stop offset="0.8095" stop-color="#3c508b"/><stop offset="0.8195" stop-color="#3e4989"/><stop offset="0.8255" stop-color="#404688"/><stop offset="0.8295" stop-color="#440154"/><stop offset="1.0000" stop-color="#414487"/></linearGradient><linearGradient id="h62"><stop offset="0.0000" stop-color="#fde725"/><stop offset="0.0570" stop-color="#e7e419"/><stop offset="0.1140" stop-color="#d0e11c"/><stop offset="0.1710" stop-color="#b8de29"/><stop offset="0.2280" stop-color="#a0da39"/><stop offset="0.2850" stop-color="#89d548"/><stop offset="0.3420" stop-color="#73d056"/><stop offset="0.3990" stop-color="#5cc863"/><stop offset="0.4560" stop-color="#46c06f"/><stop offset="0.5130" stop-color="#34b679"/><stop offset="0.5700" stop-color="#25ab82"/><stop offset="0.6270" stop-color="#1f9e89"/><stop offset="0.6840" stop-color="#218e8d"/><stop offset="0.7410" stop-color="#297a8e"/><stop offset="0.7950" stop-color="#32648e"/><stop offset="0.7980" stop-color="#33638d"/><stop offset="0.8200" stop-color="#38588c"/><stop offset="0.8350" stop-color="#3c508b"/><stop offset="0.8450" stop-color="#3e4989"/><stop offset="0.8510" stop-color="#404688"/><stop offset="0.8550" stop-color="#414487"/><stop offset="1.0000" stop-color="#414487"/></linearGradient><linearGradient id="h63"><stop offset="0.0000" stop-color="#fde725"/><stop offset="0.0587" stop-color="#e7e419"/><stop offset="0.1175" stop-color="#d0e11c"/><stop offset="0.1762" stop-color="#b8de29"/><stop offset="0.2349" stop-color="#a0da39"/><stop offset="0.2937" stop-color="#89d548"/><stop offset="0.3524" stop-color="#73d056"/><stop offset="0.4111" stop-color="#5cc863"/><stop offset="0.4699" stop-color="#46c06f"/><stop offset="0.5286" stop-color="#34b679"/><stop offset="0.5873" stop-color="#25ab82"/><stop offset="0.6461" stop-color="#1f9e89"/><stop offset="0.7048" stop-color="#228d8d"/><stop offset="0.7635" stop-color="#297a8e"/><stop offset="0.8210" stop-color="#32648e"/><stop offset="0.8223" stop-color="#33638d"/><stop offset="0.8460" stop-color="#38588c"/><stop offset="0.8610" stop-color="#3c4f8a"/><stop offset="0.8710" stop-color="#3e4989"/><stop offset="0.8770" stop-color="#404688"/><stop offset="0.8810" stop-color="#440154"/><stop offset="1.0000" stop-color="#414487"/></linearGradient><linearGradient id="h64"><stop offset="0.0000" stop-color="#fde725"/><stop offset="0.0609" stop-color="#e7e419"/><stop offset="0.1218" stop-color="#d0e11c"/><stop offset="0.1827" stop-color="#b8de29"/><stop offset="0.2436" stop-color="#a0da39"/><stop offset="0.3045" stop-color="#89d548"/><stop offset="0.3654" stop-color="#73d056"/><stop offset="0.4263" stop-color="#5cc863"/><stop offset="0.4872" stop-color="#46c06f"/><stop offset="0.5481" stop-color="#34b679"/><stop offset="0.6090" stop-color="#25ab82"/><stop offset="0.6699" stop-color="#1f9e89"/><stop offset="0.7308" stop-color="#218e8d"/><stop offset="0.7917" stop-color="#297a8e"/><stop offset="0.8526" stop-color="#33638d"/><stop offset="0.8535" stop-color="#33638d"/><stop offset="0.8785" stop-color="#39568c"/><stop offset="0.8935" stop-color="#3c4f8a"/><stop offset="0.9035" stop-color="#3e4989"/><stop offset="0.9095" stop-color="#404688"/><stop offset="0.9135" stop-color="#414487"/><stop offset="1.0000" stop-color="#414487"/></linearGradient><linearGradient id="h65"><stop offset="0.0000" stop-color="#fde725"/><stop offset="0.0632" stop-color="#e7e419"/><stop offset="0.1264" stop-color="#d0e11c"/><stop offset="0.1896" stop-color="#b8de29"/><stop offset="0.2528" stop-color="#a0da39"/><stop offset="0.3160" stop-color="#89d548"/><stop offset="0.3792" stop-color="#73d056"/><stop offset="0.4424" stop-color="#5cc863"/><stop offset="0.5056" stop-color="#46c06f"/><stop offset="0.5688" stop-color="#34b679"/><stop offset="0.6320" stop-color="#25ab82"/><stop offset="0.6952" stop-color="#1f9e89"/><stop offset="0.7584" stop-color="#228d8d"/><stop offset="0.8216" stop-color="#297a8e"/><stop offset="0.8848" stop-color="#33638d"/><stop offset="0.8880" stop-color="#34618d"/><stop offset="0.9130" stop-color="#39558c"/><stop offset="0.9280" stop-color="#3d4e8a"/><stop offset="0.9380" stop-color="#3f4889"/><stop offset="0.9440" stop-color="#404588"/><stop offset="0.9480" stop-color="#440154"/><stop offset="1.0000" stop-color="#414487"/></linearGradient><linearGradient id="h66"><stop offset="0.0000" stop-color="#fde725"/><stop offset="0.0663" stop-color="#e7e419"/><stop offset="0.1327" stop-color="#d0e11c"/><stop offset="0.1990" stop-color="#b8de29"/><stop offset="0.2653" stop-color="#a0da39"/><stop offset="0.3317" stop-color="#89d548"/><stop offset="0.3980" stop-color="#73d056"/><stop offset="0.4643" stop-color="#5cc863"/><stop offset="0.5307" stop-color="#46c06f"/><stop offset="0.5970" stop-color="#34b679"/><stop offset="0.6633" stop-color="#25ab82"/><stop offset="0.7297" stop-color="#1f9e89"/><stop offset="0.7960" stop-color="#218e8d"/><stop offset="0.8623" stop-color="#297a8e"/><stop offset="0.9287" stop-color="#33638d"/><stop offset="0.9350" stop-color="#34608d"/><stop offset="0.9600" stop-color="#39558c"/><stop offset="0.9750" stop-color="#3d4e8a"/><stop offset="0.9850" stop-color="#3f4889"/><stop offset="0.9910" stop-color="#404688"/><stop offset="0.9950" stop-color="#440154"/><stop offset="1.0000" stop-color="#414487"/></linearGradient><linearGradient id="h67"><stop offset="0.0000" stop-color="#fde725"/><stop offset="0.0667" stop-color="#eae51a"/><stop offset="0.1333" stop-color="#d2e21b"/><stop offset="0.2000" stop-color="#bade28"/><stop offset="0.2667" stop-color="#a2da37"/><stop offset="0.3333" stop-color="#8bd646"/><stop offset="0.4000" stop-color="#75d054"/><stop offset="0.4667" stop-color="#5ec962"/><stop offset="0.5333" stop-color="#4ac16d"/><stop offset="0.6000" stop-color="#35b779"/><stop offset="0.6667" stop-color="#26ad81"/><stop offset="0.7333" stop-color="#1fa088"/><stop offset="0.8000" stop-color="#21918c"/><stop offset="0.8667" stop-color="#277e8e"/><stop offset="0.9333" stop-color="#31688e"/><stop offset="1.0000" stop-color="#3e4a89"/></linearGradient><linearGradient id="h68"><stop offset="0.0000" stop-color="#fde725"/><stop offset="0.0667" stop-color="#eae51a"/><stop offset="0.1333" stop-color="#d2e21b"/><stop offset="0.2000" stop-color="#bade28"/><stop offset="0.2667" stop-color="#a2da37"/><stop offset="0.3333" stop-color="#8ed645"/><stop offset="0.4000" stop-color="#75d054"/><stop offset="0.4667" stop-color="#60ca60"/><stop offset="0.5333" stop-color="#4cc26c"/><stop offset="0.6000" stop-color="#38b977"/><stop offset="0.6667" stop-color="#28ae80"/><stop offset="0.7333" stop-color="#1fa287"/><stop offset="0.8000" stop-color="#20938c"/><stop offset="0.8667" stop-color="#26828e"/><stop offset="0.9333" stop-color="#2e6d8e"/><stop offset="1.0000" stop-color="#3b528b"/></linearGradient><linearGradient id="h69"><stop offset="0.0000" stop-color="#fde725"/><stop offset="0.0667" stop-color="#eae51a"/><stop offset="0.1333" stop-color="#d2e21b"/><stop offset="0.2000" stop-color="#bddf26"/><stop offset="0.2667" stop-color="#a5db36"/><stop offset="0.3333" stop-color="#8ed645"/><stop offset="0.4000" stop-color="#77d153"/><stop offset="0.4667" stop-color="#63cb5f"/><stop offset="0.5333" stop-color="#4ec36b"/><stop offset="0.6000" stop-color="#3bbb75"/><stop offset="0.6667" stop-color="#2ab07f"/><stop offset="0.7333" stop-color="#20a486"/><stop offset="0.8000" stop-color="#1f968b"/><stop offset="0.8667" stop-color="#25858e"/><stop offset="0.9333" stop-color="#2c718e"/><stop offset="1.0000" stop-color="#375a8c"/></linearGradient><linearGradient id="h70"><stop offset="0.0000" stop-color="#fde725"/><stop offset="0.0667" stop-color="#eae51a"/><stop offset="0.1333" stop-color="#d5e21a"/><stop offset="0.2000" stop-color="#bddf26"/><stop offset="0.2667" stop-color="#a5db36"/><stop offset="0.3333" stop-color="#90d743"/><stop offset="0.4000" stop-color="#7ad151"/><stop offset="0.4667" stop-color="#65cb5e"/><stop offset="0.5333" stop-color="#50c46a"/><stop offset="0.6000" stop-color="#3dbc74"/><stop offset="0.6667" stop-color="#2db27d"/><stop offset="0.7333" stop-color="#21a685"/><stop offset="0.8000" stop-color="#1f998a"/><stop offset="0.8667" stop-color="#23898e"/><stop offset="0.9333" stop-color="#2a768e"/><stop offset="1.0000" stop-color="#34608d"/></linearGradient><linearGradient id="h71"><stop offset="0.0000" stop-color="#fde725"/><stop offset="0.0667" stop-color="#eae51a"/><stop offset="0.1333" stop-color="#d5e21a"/><stop offset="0.2000" stop-color="#bddf26"/><stop offset="0.2667" stop-color="#a8db34"/><stop offset="0.3333" stop-color="#90d743"/><stop offset="0.4000" stop-color="#7cd250"/><stop offset="0.4667" stop-color="#67cc5c"/><stop offset="0.5333" stop-color="#54c568"/><stop offset="0.6000" stop-color="#40bd72"/><stop offset="0.6667" stop-color="#2fb47c"/><stop offset="0.7333" stop-color="#22a884"/><stop offset="0.8000" stop-color="#1e9b8a"/><stop offset="0.8667" stop-color="#228c8d"/><stop offset="0.9333" stop-color="#297a8e"/><stop offset="1.0000" stop-color="#32658e"/></linearGradient><linearGradient id="h72"><stop offset="0.0000" stop-color="#fde725"/><stop offset="0.0667" stop-color="#eae51a"/><stop offset="0.1333" stop-color="#d5e21a"/><stop offset="0.2000" stop-color="#c0df25"/><stop offset="0.2667" stop-color="#a8db34"/><stop offset="0.3333" stop-color="#93d741"/><stop offset="0.4000" stop-color="#7fd34e"/><stop offset="0.4667" stop-color="#69cd5b"/><stop offset="0.5333" stop-color="#56c667"/><stop offset="0.6000" stop-color="#42be71"/><stop offset="0.6667" stop-color="#31b57b"/><stop offset="0.7333" stop-color="#24aa83"/><stop offset="0.8000" stop-color="#1f9e89"/><stop offset="0.8667" stop-color="#21908d"/><stop offset="0.9333" stop-color="#277f8e"/><stop offset="1.0000" stop-color="#306a8e"/></linearGradient><linearGradient id="h73"><stop offset="0.0000" stop-color="#fde725"/><stop offset="0.0667" stop-color="#eae51a"/><stop offset="0.1333" stop-color="#d5e21a"/><stop offset="0.2000" stop-color="#c0df25"/><stop offset="0.2667" stop-color="#aadc32"/><stop offset="0.3333" stop-color="#95d840"/><stop offset="0.4000" stop-color="#7fd34e"/><stop offset="0.4667" stop-color="#6ccd5a"/><stop offset="0.5333" stop-color="#58c765"/><stop offset="0.6000" stop-color="#44bf70"/><stop offset="0.6667" stop-color="#34b679"/><stop offset="0.7333" stop-color="#25ac82"/><stop offset="0.8000" stop-color="#1fa088"/><stop offset="0.8667" stop-color="#20928c"/><stop offset="0.9333" stop-color="#26828e"/><stop offset="1.0000" stop-color="#2e6f8e"/></linearGradient><linearGradient id="h74"><stop offset="0.0000" stop-color="#fde725"/><stop offset="0.0667" stop-color="#eae51a"/><stop offset="0.1333" stop-color="#d5e21a"/><stop offset="0.2000" stop-color="#c0df25"/><stop offset="0.2667" stop-color="#aadc32"/><stop offset="0.3333" stop-color="#95d840"/><stop offset="0.4000" stop-color="#81d34d"/><stop offset="0.4667" stop-color="#6ece58"/><stop offset="0.5333" stop-color="#5ac864"/><stop offset="0.6000" stop-color="#46c06f"/><stop offset="0.6667" stop-color="#35b779"/><stop offset="0.7333" stop-color="#27ad81"/><stop offset="0.8000" stop-color="#1fa287"/><stop offset="0.8667" stop-color="#1f948c"/><stop offset="0.9333" stop-color="#25858e"/><stop offset="1.0000" stop-color="#2c738e"/></linearGradient><linearGradient id="h75"><stop offset="0.0000" stop-color="#fde725"/><stop offset="0.0667" stop-color="#ece51b"/><stop offset="0.1333" stop-color="#d8e219"/><stop offset="0.2000" stop-color="#c2df23"/><stop offset="0.2667" stop-color="#addc30"/><stop offset="0.3333" stop-color="#98d83e"/><stop offset="0.4000" stop-color="#84d44b"/><stop offset="0.4667" stop-color="#6ece58"/><stop offset="0.5333" stop-color="#5cc863"/><stop offset="0.6000" stop-color="#4ac16d"/><stop offset="0.6667" stop-color="#38b977"/><stop offset="0.7333" stop-color="#29af7f"/><stop offset="0.8000" stop-color="#20a486"/><stop offset="0.8667" stop-color="#1f978b"/><stop offset="0.9333" stop-color="#23888e"/><stop offset="1.0000" stop-color="#2a778e"/></linearGradient><linearGradient id="h76"><stop offset="0.0000" stop-color="#fde725"/><stop offset="0.0667" stop-color="#ece51b"/><stop offset="0.1333" stop-color="#d8e219"/><stop offset="0.2000" stop-color="#c2df23"/><stop offset="0.2667" stop-color="#addc30"/><stop offset="0.3333" stop-color="#98d83e"/><stop offset="0.4000" stop-color="#84d44b"/><stop offset="0.4667" stop-color="#70cf57"/><stop offset="0.5333" stop-color="#5ec962"/><stop offset="0.6000" stop-color="#4cc26c"/><stop offset="0.6667" stop-color="#3aba76"/><stop offset="0.7333" stop-color="#2cb17e"/><stop offset="0.8000" stop-color="#21a685"/><stop offset="0.8667" stop-color="#1f9a8a"/><stop offset="0.9333" stop-color="#228c8d"/><stop offset="1.0000" stop-color="#297b8e"/></linearGradient><linearGradient id="h77"><stop offset="0.0000" stop-color="#fde725"/><stop offset="0.0667" stop-color="#ece51b"/><stop offset="0.1333" stop-color="#d8e219"/><stop offset="0.2000" stop-color="#c2df23"/><stop offset="0.2667" stop-color="#b0dd2f"/><stop offset="0.3333" stop-color="#9bd93c"/><stop offset="0.4000" stop-color="#86d549"/><stop offset="0.4667" stop-color="#73d056"/><stop offset="0.5333" stop-color="#60ca60"/><stop offset="0.6000" stop-color="#4ec36b"/><stop offset="0.6667" stop-color="#3dbc74"/><stop offset="0.7333" stop-color="#2db27d"/><stop offset="0.8000" stop-color="#22a884"/><stop offset="0.8667" stop-color="#1e9c89"/><stop offset="0.9333" stop-color="#218f8d"/><stop offset="1.0000" stop-color="#277f8e"/></linearGradient><linearGradient id="h78"><stop offset="0.0000" stop-color="#fde725"/><stop offset="0.0667" stop-color="#ece51b"/><stop offset="0.1333" stop-color="#d8e219"/><stop offset="0.2000" stop-color="#c5e021"/><stop offset="0.2667" stop-color="#b0dd2f"/><stop offset="0.3333" stop-color="#9bd93c"/><stop offset="0.4000" stop-color="#89d548"/><stop offset="0.4667" stop-color="#75d054"/><stop offset="0.5333" stop-color="#63cb5f"/><stop offset="0.6000" stop-color="#50c46a"/><stop offset="0.6667" stop-color="#3fbc73"/><stop offset="0.7333" stop-color="#2fb47c"/><stop offset="0.8000" stop-color="#24aa83"/><stop offset="0.8667" stop-color="#1f9f88"/><stop offset="0.9333" stop-color="#20928c"/><stop offset="1.0000" stop-color="#26828e"/></linearGradient><linearGradient id="h79"><stop offset="0.0000" stop-color="#fde725"/><stop offset="0.0667" stop-color="#ece51b"/><stop offset="0.1333" stop-color="#dae319"/><stop offset="0.2000" stop-color="#c5e021"/><stop offset="0.2667" stop-color="#b2dd2d"/><stop offset="0.3333" stop-color="#9dd93b"/><stop offset="0.4000" stop-color="#89d548"/><stop offset="0.4667" stop-color="#77d153"/><stop offset="0.5333" stop-color="#63cb5f"/><stop offset="0.6000" stop-color="#52c569"/><stop offset="0.6667" stop-color="#40bd72"/><stop offset="0.7333" stop-color="#31b57b"/><stop offset="0.8000" stop-color="#25ac82"/><stop offset="0.8667" stop-color="#1fa188"/><stop offset="0.9333" stop-color="#20938c"/><stop offset="1.0000" stop-color="#25858e"/></linearGradient><linearGradient id="h80"><stop offset="0.0000" stop-color="#fde725"/><stop offset="0.0667" stop-color="#ece51b"/><stop offset="0.1333" stop-color="#dae319"/><stop offset="0.2000" stop-color="#c5e021"/><stop offset="0.2667" stop-color="#b2dd2d"/><stop offset="0.3333" stop-color="#9dd93b"/><stop offset="0.4000" stop-color="#8bd646"/><stop offset="0.4667" stop-color="#77d153"/><stop offset="0.5333" stop-color="#65cb5e"/><stop offset="0.6000" stop-color="#54c568"/><stop offset="0.6667" stop-color="#42be71"/><stop offset="0.7333" stop-color="#34b679"/><stop offset="0.8000" stop-color="#26ad81"/><stop offset="0.8667" stop-color="#1fa287"/><stop offset="0.9333" stop-color="#1f968b"/><stop offset="1.0000" stop-color="#23888e"/></linearGradient><linearGradient id="h81"><stop offset="0.0000" stop-color="#fde725"/><stop offset="0.0667" stop-color="#ece51b"/><stop offset="0.1333" stop-color="#dae319"/><stop offset="0.2000" stop-color="#c8e020"/><stop offset="0.2667" stop-color="#b2dd2d"/><stop offset="0.3333" stop-color="#a0da39"/><stop offset="0.4000" stop-color="#8ed645"/><stop offset="0.4667" stop-color="#7ad151"/><stop offset="0.5333" stop-color="#67cc5c"/><stop offset="0.6000" stop-color="#56c667"/><stop offset="0.6667" stop-color="#44bf70"/><stop offset="0.7333" stop-color="#35b779"/><stop offset="0.8000" stop-color="#28ae80"/><stop offset="0.8667" stop-color="#20a486"/><stop offset="0.9333" stop-color="#1f988b"/><stop offset="1.0000" stop-color="#228b8d"/></linearGradient><linearGradient id="h82"><stop offset="0.0000" stop-color="#fde725"/><stop offset="0.0667" stop-color="#ece51b"/><stop offset="0.1333" stop-color="#dae319"/><stop offset="0.2000" stop-color="#c8e020"/><stop offset="0.2667" stop-color="#b5de2b"/><stop offset="0.3333" stop-color="#a0da39"/><stop offset="0.4000" stop-color="#8ed645"/><stop offset="0.4667" stop-color="#7cd250"/><stop offset="0.5333" stop-color="#69cd5b"/><stop offset="0.6000" stop-color="#58c765"/><stop offset="0.6667" stop-color="#48c16e"/><stop offset="0.7333" stop-color="#38b977"/><stop offset="0.8000" stop-color="#2ab07f"/><stop offset="0.8667" stop-color="#21a685"/><stop offset="0.9333" stop-color="#1e9b8a"/><stop offset="1.0000" stop-color="#218e8d"/></linearGradient><linearGradient id="h83"><stop offset="0.0000" stop-color="#fde725"/><stop offset="0.0667" stop-color="#ece51b"/><stop offset="0.1333" stop-color="#dae319"/><stop offset="0.2000" stop-color="#c8e020"/><stop offset="0.2667" stop-color="#b5de2b"/><stop offset="0.3333" stop-color="#a2da37"/><stop offset="0.4000" stop-color="#90d743"/><stop offset="0.4667" stop-color="#7cd250"/><stop offset="0.5333" stop-color="#6ccd5a"/><stop offset="0.6000" stop-color="#5ac864"/><stop offset="0.6667" stop-color="#4ac16d"/><stop offset="0.7333" stop-color="#3aba76"/><stop offset="0.8000" stop-color="#2cb17e"/><stop offset="0.8667" stop-color="#22a884"/><stop offset="0.9333" stop-color="#1e9d89"/><stop offset="1.0000" stop-color="#21918c"/></linearGradient><linearGradient id="h84"><stop offset="0.0000" stop-color="#fde725"/><stop offset="0.0667" stop-color="#ece51b"/><stop offset="0.1333" stop-color="#dae319"/><stop offset="0.2000" stop-color="#c8e020"/><stop offset="0.2667" stop-color="#b5de2b"/><stop offset="0.3333" stop-color="#a2da37"/><stop offset="0.4000" stop-color="#90d743"/><stop offset="0.4667" stop-color="#7fd34e"/><stop offset="0.5333" stop-color="#6ece58"/><stop offset="0.6000" stop-color="#5cc863"/><stop offset="0.6667" stop-color="#4cc26c"/><stop offset="0.7333" stop-color="#3bbb75"/><stop offset="0.8000" stop-color="#2eb37c"/><stop offset="0.8667" stop-color="#24aa83"/><stop offset="0.9333" stop-color="#1f9f88"/><stop offset="1.0000" stop-color="#20928c"/></linearGradient><linearGradient id="h85"><stop offset="0.0000" stop-color="#fde725"/><stop offset="0.0667" stop-color="#efe51c"/><stop offset="0.1333" stop-color="#dde318"/><stop offset="0.2000" stop-color="#cae11f"/><stop offset="0.2667" stop-color="#b8de29"/><stop offset="0.3333" stop-color="#a5db36"/><stop offset="0.4000" stop-color="#93d741"/><stop offset="0.4667" stop-color="#81d34d"/><stop offset="0.5333" stop-color="#6ece58"/><stop offset="0.6000" stop-color="#5ec962"/><stop offset="0.6667" stop-color="#4ec36b"/><stop offset="0.7333" stop-color="#3dbc74"/><stop offset="0.8000" stop-color="#2fb47c"/><stop offset="0.8667" stop-color="#25ab82"/><stop offset="0.9333" stop-color="#1fa188"/><stop offset="1.0000" stop-color="#1f958b"/></linearGradient><linearGradient id="h86"><stop offset="0.0000" stop-color="#fde725"/><stop offset="0.0667" stop-color="#efe51c"/><stop offset="0.1333" stop-color="#dde318"/><stop offset="0.2000" stop-color="#cae11f"/><stop offset="0.2667" stop-color="#b8de29"/><stop offset="0.3333" stop-color="#a5db36"/><stop offset="0.4000" stop-color="#93d741"/><stop offset="0.4667" stop-color="#81d34d"/><stop offset="0.5333" stop-color="#70cf57"/><stop offset="0.6000" stop-color="#60ca60"/><stop offset="0.6667" stop-color="#50c46a"/><stop offset="0.7333" stop-color="#40bd72"/><stop offset="0.8000" stop-color="#32b67a"/><stop offset="0.8667" stop-color="#26ad81"/><stop offset="0.9333" stop-color="#1fa287"/><stop offset="1.0000" stop-color="#1f978b"/></linearGradient><linearGradient id="h87"><stop offset="0.0000" stop-color="#fde725"/><stop offset="0.0667" stop-color="#efe51c"/><stop offset="0.1333" stop-color="#dde318"/><stop offset="0.2000" stop-color="#cae11f"/><stop offset="0.2667" stop-color="#b8de29"/><stop offset="0.3333" stop-color="#a8db34"/><stop offset="0.4000" stop-color="#95d840"/><stop offset="0.4667" stop-color="#84d44b"/><stop offset="0.5333" stop-color="#73d056"/><stop offset="0.6000" stop-color="#60ca60"/><stop offset="0.6667" stop-color="#52c569"/><stop offset="0.7333" stop-color="#42be71"/><stop offset="0.8000" stop-color="#34b679"/><stop offset="0.8667" stop-color="#28ae80"/><stop offset="0.9333" stop-color="#20a486"/><stop offset="1.0000" stop-color="#1f9a8a"/></linearGradient><linearGradient id="h88"><stop offset="0.0000" stop-color="#fde725"/><stop offset="0.0667" stop-color="#efe51c"/><stop offset="0.1333" stop-color="#dde318"/><stop offset="0.2000" stop-color="#cae11f"/><stop offset="0.2667" stop-color="#bade28"/><stop offset="0.3333" stop-color="#a8db34"/><stop offset="0.4000" stop-color="#95d840"/><stop offset="0.4667" stop-color="#84d44b"/><stop offset="0.5333" stop-color="#73d056"/><stop offset="0.6000" stop-color="#63cb5f"/><stop offset="0.6667" stop-color="#54c568"/><stop offset="0.7333" stop-color="#44bf70"/><stop offset="0.8000" stop-color="#35b779"/><stop offset="0.8667" stop-color="#29af7f"/><stop offset="0.9333" stop-color="#21a685"/><stop offset="1.0000" stop-color="#1e9c89"/></linearGradient><linearGradient id="h89"><stop offset="0.0000" stop-color="#fde725"/><stop offset="0.0667" stop-color="#efe51c"/><stop offset="0.1333" stop-color="#dde318"/><stop offset="0.2000" stop-color="#cde11d"/><stop offset="0.2667" stop-color="#bade28"/><stop offset="0.3333" stop-color="#a8db34"/><stop offset="0.4000" stop-color="#98d83e"/><stop offset="0.4667" stop-color="#86d549"/><stop offset="0.5333" stop-color="#75d054"/><stop offset="0.6000" stop-color="#65cb5e"/><stop offset="0.6667" stop-color="#56c667"/><stop offset="0.7333" stop-color="#46c06f"/><stop offset="0.8000" stop-color="#38b977"/><stop offset="0.8667" stop-color="#2cb17e"/><stop offset="0.9333" stop-color="#22a884"/><stop offset="1.0000" stop-color="#1f9e89"/></linearGradient><linearGradient id="h90"><stop offset="0.0000" stop-color="#fde725"/><stop offset="0.0667" stop-color="#efe51c"/><stop offset="0.1333" stop-color="#dde318"/><stop offset="0.2000" stop-color="#cde11d"/><stop offset="0.2667" stop-color="#bade28"/><stop offset="0.3333" stop-color="#aadc32"/><stop offset="0.4000" stop-color="#98d83e"/><stop offset="0.4667" stop-color="#89d548"/><stop offset="0.5333" stop-color="#77d153"/><stop offset="0.6000" stop-color="#67cc5c"/><stop offset="0.6667" stop-color="#56c667"/><stop offset="0.7333" stop-color="#48c16e"/><stop offset="0.8000" stop-color="#3aba76"/><stop offset="0.8667" stop-color="#2db27d"/><stop offset="0.9333" stop-color="#23a983"/><stop offset="1.0000" stop-color="#1fa088"/></linearGradient><linearGradient id="h91"><stop offset="0.0000" stop-color="#fde725"/><stop offset="0.0667" stop-color="#efe51c"/><stop offset="0.1333" stop-color="#dfe318"/><stop offset="0.2000" stop-color="#cde11d"/><stop offset="0.2667" stop-color="#bddf26"/><stop offset="0.3333" stop-color="#aadc32"/><stop offset="0.4000" stop-color="#9bd93c"/><stop offset="0.4667" stop-color="#89d548"/><stop offset="0.5333" stop-color="#77d153"/><stop offset="0.6000" stop-color="#67cc5c"/><stop offset="0.6667" stop-color="#58c765"/><stop offset="0.7333" stop-color="#4ac16d"/><stop offset="0.8000" stop-color="#3bbb75"/><stop offset="0.8667" stop-color="#2eb37c"/><stop offset="0.9333" stop-color="#25ab82"/><stop offset="1.0000" stop-color="#1fa187"/></linearGradient><linearGradient id="h92"><stop offset="0.0000" stop-color="#fde725"/><stop offset="0.0667" stop-color="#efe51c"/><stop offset="0.1333" stop-color="#dfe318"/><stop offset="0.2000" stop-color="#cde11d"/><stop offset="0.2667" stop-color="#bddf26"/><stop offset="0.3333" stop-color="#addc30"/><stop offset="0.4000" stop-color="#9bd93c"/><stop offset="0.4667" stop-color="#8bd646"/><stop offset="0.5333" stop-color="#7ad151"/><stop offset="0.6000" stop-color="#69cd5b"/><stop offset="0.6667" stop-color="#5ac864"/><stop offset="0.7333" stop-color="#4cc26c"/><stop offset="0.8000" stop-color="#3dbc74"/><stop offset="0.8667" stop-color="#31b57b"/><stop offset="0.9333" stop-color="#26ad81"/><stop offset="1.0000" stop-color="#20a386"/></linearGradient><linearGradient id="h93"><stop offset="0.0000" stop-color="#fde725"/><stop offset="0.0667" stop-color="#efe51c"/><stop offset="0.1333" stop-color="#dfe318"/><stop offset="0.2000" stop-color="#d0e11c"/><stop offset="0.2667" stop-color="#bddf26"/><stop offset="0.3333" stop-color="#addc30"/><stop offset="0.4000" stop-color="#9dd93b"/><stop offset="0.4667" stop-color="#8bd646"/><stop offset="0.5333" stop-color="#7cd250"/><stop offset="0.6000" stop-color="#6ccd5a"/><stop offset="0.6667" stop-color="#5cc863"/><stop offset="0.7333" stop-color="#4ec36b"/><stop offset="0.8000" stop-color="#3fbc73"/><stop offset="0.8667" stop-color="#32b67a"/><stop offset="0.9333" stop-color="#27ad81"/><stop offset="1.0000" stop-color="#20a486"/></linearGradient><linearGradient id="h94"><stop offset="0.0000" stop-color="#fde725"/><stop offset="0.0667" stop-color="#efe51c"/><stop offset="0.1333" stop-color="#dfe318"/><stop offset="0.2000" stop-color="#d0e11c"/><stop offset="0.2667" stop-color="#c0df25"/><stop offset="0.3333" stop-color="#addc30"/><stop offset="0.4000" stop-color="#9dd93b"/><stop offset="0.4667" stop-color="#8ed645"/><stop offset="0.5333" stop-color="#7cd250"/><stop offset="0.6000" stop-color="#6ece58"/><stop offset="0.6667" stop-color="#5ec962"/><stop offset="0.7333" stop-color="#50c46a"/><stop offset="0.8000" stop-color="#40bd72"/><stop offset="0.8667" stop-color="#34b679"/><stop offset="0.9333" stop-color="#29af7f"/><stop offset="1.0000" stop-color="#21a685"/></linearGradient><linearGradient id="h95"><stop offset="0.0000" stop-color="#fde725"/><stop offset="0.0667" stop-color="#efe51c"/><stop offset="0.1333" stop-color="#dfe318"/><stop offset="0.2000" stop-color="#d0e11c"/><stop offset="0.2667" stop-color="#c0df25"/><stop offset="0.3333" stop-color="#b0dd2f"/><stop offset="0.4000" stop-color="#9dd93b"/><stop offset="0.4667" stop-color="#8ed645"/><stop offset="0.5333" stop-color="#7fd34e"/><stop offset="0.6000" stop-color="#6ece58"/><stop offset="0.6667" stop-color="#60ca60"/><stop offset="0.7333" stop-color="#52c569"/><stop offset="0.8000" stop-color="#42be71"/><stop offset="0.8667" stop-color="#35b779"/><stop offset="0.9333" stop-color="#2ab07f"/><stop offset="1.0000" stop-color="#22a884"/></linearGradient><linearGradient id="h96"><stop offset="0.0000" stop-color="#fde725"/><stop offset="0.0667" stop-color="#efe51c"/><stop offset="0.1333" stop-color="#dfe318"/><stop offset="0.2000" stop-color="#d0e11c"/><stop offset="0.2667" stop-color="#c0df25"/><stop offset="0.3333" stop-color="#b0dd2f"/><stop offset="0.4000" stop-color="#a0da39"/><stop offset="0.4667" stop-color="#90d743"/><stop offset="0.5333" stop-color="#7fd34e"/><stop offset="0.6000" stop-color="#70cf57"/><stop offset="0.6667" stop-color="#60ca60"/><stop offset="0.7333" stop-color="#52c569"/><stop offset="0.8000" stop-color="#44bf70"/><stop offset="0.8667" stop-color="#38b977"/><stop offset="0.9333" stop-color="#2cb17e"/><stop offset="1.0000" stop-color="#23a983"/></linearGradient><linearGradient id="h97"><stop offset="0.0000" stop-color="#fde725"/><stop offset="0.0667" stop-color="#efe51c"/><stop offset="0.1333" stop-color="#dfe318"/><stop offset="0.2000" stop-color="#d0e11c"/><stop offset="0.2667" stop-color="#c0df25"/><stop offset="0.3333" stop-color="#b0dd2f"/><stop offset="0.4000" stop-color="#a0da39"/><stop offset="0.4667" stop-color="#90d743"/><stop offset="0.5333" stop-color="#81d34d"/><stop offset="0.6000" stop-color="#73d056"/><stop offset="0.6667" stop-color="#63cb5f"/><stop offset="0.7333" stop-color="#54c568"/><stop offset="0.8000" stop-color="#46c06f"/><stop offset="0.8667" stop-color="#3aba76"/><stop offset="0.9333" stop-color="#2eb37c"/><stop offset="1.0000" stop-color="#25ab82"/></linearGradient><linearGradient id="h98"><stop offset="0.0000" stop-color="#fde725"/><stop offset="0.0667" stop-color="#f1e51d"/><stop offset="0.1333" stop-color="#e2e418"/><stop offset="0.2000" stop-color="#d2e21b"/><stop offset="0.2667" stop-color="#c2df23"/><stop offset="0.3333" stop-color="#b2dd2d"/><stop offset="0.4000" stop-color="#a2da37"/><stop offset="0.4667" stop-color="#93d741"/><stop offset="0.5333" stop-color="#81d34d"/><stop offset="0.6000" stop-color="#73d056"/><stop offset="0.6667" stop-color="#65cb5e"/><stop offset="0.7333" stop-color="#56c667"/><stop offset="0.8000" stop-color="#48c16e"/><stop offset="0.8667" stop-color="#3bbb75"/><stop offset="0.9333" stop-color="#2fb47c"/><stop offset="1.0000" stop-color="#25ac82"/></linearGradient><linearGradient id="h99"><stop offset="0.0000" stop-color="#fde725"/><stop offset="0.0667" stop-color="#f4e61e"/><stop offset="0.1333" stop-color="#eae51a"/><stop offset="0.2000" stop-color="#dfe318"/><stop offset="0.2667" stop-color="#d5e21a"/><stop offset="0.3333" stop-color="#cae11f"/><stop offset="0.4000" stop-color="#c0df25"/><stop offset="0.4667" stop-color="#b5de2b"/><stop offset="0.5333" stop-color="#aadc32"/><stop offset="0.6000" stop-color="#a0da39"/><stop offset="0.6667" stop-color="#95d840"/><stop offset="0.7333" stop-color="#89d548"/><stop offset="0.8000" stop-color="#7fd34e"/><stop offset="0.8667" stop-color="#75d054"/><stop offset="0.9333" stop-color="#69cd5b"/><stop offset="1.0000" stop-color="#60ca60"/></linearGradient><linearGradient id="h100"><stop offset="0.0000" stop-color="#fde725"/><stop offset="0.0667" stop-color="#f4e61e"/><stop offset="0.1333" stop-color="#eae51a"/><stop offset="0.2000" stop-color="#dfe318"/><stop offset="0.2667" stop-color="#d5e21a"/><stop offset="0.3333" stop-color="#cae11f"/><stop offset="0.4000" stop-color="#c0df25"/><stop offset="0.4667" stop-color="#b2dd2d"/><stop offset="0.5333" stop-color="#a8db34"/><stop offset="0.6000" stop-color="#9dd93b"/><stop offset="0.6667" stop-color="#93d741"/><stop offset="0.7333" stop-color="#89d548"/><stop offset="0.8000" stop-color="#7cd250"/><stop offset="0.8667" stop-color="#73d056"/><stop offset="0.9333" stop-color="#69cd5b"/><stop offset="1.0000" stop-color="#5ec962"/></linearGradient><linearGradient id="h101"><stop offset="0.0000" stop-color="#fde725"/><stop offset="0.0667" stop-color="#f4e61e"/><stop offset="0.1333" stop-color="#eae51a"/><stop offset="0.2000" stop-color="#dfe318"/><stop offset="0.2667" stop-color="#d5e21a"/><stop offset="0.3333" stop-color="#c8e020"/><stop offset="0.4000" stop-color="#bddf26"/><stop offset="0.4667" stop-color="#b2dd2d"/><stop offset="0.5333" stop-color="#a8db34"/><stop offset="0.6000" stop-color="#9bd93c"/><stop offset="0.6667" stop-color="#90d743"/><stop offset="0.7333" stop-color="#86d549"/><stop offset="0.8000" stop-color="#7ad151"/><stop offset="0.8667" stop-color="#70cf57"/><stop offset="0.9333" stop-color="#65cb5e"/><stop offset="1.0000" stop-color="#5cc863"/></linearGradient><linearGradient id="h102"><stop offset="0.0000" stop-color="#fde725"/><stop offset="0.0667" stop-color="#f4e61e"/><stop offset="0.1333" stop-color="#eae51a"/><stop offset="0.2000" stop-color="#dfe318"/><stop offset="0.2667" stop-color="#d2e21b"/><stop offset="0.3333" stop-color="#c8e020"/><stop offset="0.4000" stop-color="#bddf26"/><stop offset="0.4667" stop-color="#b0dd2f"/><stop offset="0.5333" stop-color="#a5db36"/><stop offset="0.6000" stop-color="#9bd93c"/><stop offset="0.6667" stop-color="#8ed645"/><stop offset="0.7333" stop-color="#84d44b"/><stop offset="0.8000" stop-color="#77d153"/><stop offset="0.8667" stop-color="#6ece58"/><stop offset="0.9333" stop-color="#63cb5f"/><stop offset="1.0000" stop-color="#58c765"/></linearGradient><linearGradient id="h103"><stop offset="0.0000" stop-color="#fde725"/><stop offset="0.0667" stop-color="#f4e61e"/><stop offset="0.1333" stop-color="#eae51a"/><stop offset="0.2000" stop-color="#dde318"/><stop offset="0.2667" stop-color="#d2e21b"/><stop offset="0.3333" stop-color="#c8e020"/><stop offset="0.4000" stop-color="#bade28"/><stop offset="0.4667" stop-color="#b0dd2f"/><stop offset="0.5333" stop-color="#a2da37"/><stop offset="0.6000" stop-color="#98d83e"/><stop offset="0.6667" stop-color="#8bd646"/><stop offset="0.7333" stop-color="#81d34d"/><stop offset="0.8000" stop-color="#75d054"/><stop offset="0.8667" stop-color="#6ccd5a"/><stop offset="0.9333" stop-color="#60ca60"/><stop offset="1.0000" stop-color="#56c667"/></linearGradient><linearGradient id="h104"><stop offset="0.0000" stop-color="#fde725"/><stop offset="0.0667" stop-color="#f4e61e"/><stop offset="0.1333" stop-color="#eae51a"/><stop offset="0.2000" stop-color="#dde318"/><stop offset="0.2667" stop-color="#d2e21b"/><stop offset="0.3333" stop-color="#c5e021"/><stop offset="0.4000" stop-color="#bade28"/><stop offset="0.4667" stop-color="#addc30"/><stop offset="0.5333" stop-color="#a2da37"/><stop offset="0.6000" stop-color="#95d840"/><stop offset="0.6667" stop-color="#8bd646"/><stop offset="0.7333" stop-color="#7fd34e"/><stop offset="0.8000" stop-color="#73d056"/><stop offset="0.8667" stop-color="#67cc5c"/><stop offset="0.9333" stop-color="#5cc863"/><stop offset="1.0000" stop-color="#52c569"/></linearGradient><linearGradient id="h105"><stop offset="0.0000" stop-color="#fde725"/><stop offset="0.0667" stop-color="#f4e61e"/><stop offset="0.1333" stop-color="#e7e419"/><stop offset="0.2000" stop-color="#dde318"/><stop offset="0.2667" stop-color="#d0e11c"/><stop offset="0.3333" stop-color="#c5e021"/><stop offset="0.4000" stop-color="#b8de29"/><stop offset="0.4667" stop-color="#addc30"/><stop offset="0.5333" stop-color="#a0da39"/><stop offset="0.6000" stop-color="#93d741"/><stop offset="0.6667" stop-color="#89d548"/><stop offset="0.7333" stop-color="#7cd250"/><stop offset="0.8000" stop-color="#70cf57"/><stop offset="0.8667" stop-color="#65cb5e"/><stop offset="0.9333" stop-color="#5ac864"/><stop offset="1.0000" stop-color="#50c46a"/></linearGradient><linearGradient id="h106"><stop offset="0.0000" stop-color="#fde725"/><stop offset="0.0667" stop-color="#f4e61e"/><stop offset="0.1333" stop-color="#e7e419"/><stop offset="0.2000" stop-color="#dde318"/><stop offset="0.2667" stop-color="#d0e11c"/><stop offset="0.3333" stop-color="#c2df23"/><stop offset="0.4000" stop-color="#b8de29"/><stop offset="0.4667" stop-color="#aadc32"/><stop offset="0.5333" stop-color="#9dd93b"/><stop offset="0.6000" stop-color="#90d743"/><stop offset="0.6667" stop-color="#86d549"/><stop offset="0.7333" stop-color="#7ad151"/><stop offset="0.8000" stop-color="#6ece58"/><stop offset="0.8667" stop-color="#63cb5f"/><stop offset="0.9333" stop-color="#58c765"/><stop offset="1.0000" stop-color="#4cc26c"/></linearGradient><linearGradient id="h107"><stop offset="0.0000" stop-color="#fde725"/><stop offset="0.0667" stop-color="#f4e61e"/><stop offset="0.1333" stop-color="#e7e419"/><stop offset="0.2000" stop-color="#dae319"/><stop offset="0.2667" stop-color="#cde11d"/><stop offset="0.3333" stop-color="#c2df23"/><stop offset="0.4000" stop-color="#b5de2b"/><stop offset="0.4667" stop-color="#a8db34"/><stop offset="0.5333" stop-color="#9bd93c"/><stop offset="0.6000" stop-color="#90d743"/><stop offset="0.6667" stop-color="#84d44b"/><stop offset="0.7333" stop-color="#77d153"/><stop offset="0.8000" stop-color="#6ccd5a"/><stop offset="0.8667" stop-color="#5ec962"/><stop offset="0.9333" stop-color="#54c568"/><stop offset="1.0000" stop-color="#48c16e"/></linearGradient><linearGradient id="h108"><stop offset="0.0000" stop-color="#fde725"/><stop offset="0.0667" stop-color="#f4e61e"/><stop offset="0.1333" stop-color="#e7e419"/><stop offset="0.2000" stop-color="#dae319"/><stop offset="0.2667" stop-color="#cde11d"/><stop offset="0.3333" stop-color="#c0df25"/><stop offset="0.4000" stop-color="#b2dd2d"/><stop offset="0.4667" stop-color="#a5db36"/><stop offset="0.5333" stop-color="#9bd93c"/><stop offset="0.6000" stop-color="#8ed645"/><stop offset="0.6667" stop-color="#81d34d"/><stop offset="0.7333" stop-color="#73d056"/><stop offset="0.8000" stop-color="#67cc5c"/><stop offset="0.8667" stop-color="#5cc863"/><stop offset="0.9333" stop-color="#50c46a"/><stop offset="1.0000" stop-color="#46c06f"/></linearGradient><linearGradient id="h109"><stop offset="0.0000" stop-color="#fde725"/><stop offset="0.0667" stop-color="#f4e61e"/><stop offset="0.1333" stop-color="#e7e419"/><stop offset="0.2000" stop-color="#dae319"/><stop offset="0.2667" stop-color="#cde11d"/><stop offset="0.3333" stop-color="#c0df25"/><stop offset="0.4000" stop-color="#b2dd2d"/><stop offset="0.4667" stop-color="#a5db36"/><stop offset="0.5333" stop-color="#98d83e"/><stop offset="0.6000" stop-color="#8bd646"/><stop offset="0.6667" stop-color="#7cd250"/><stop offset="0.7333" stop-color="#70cf57"/><stop offset="0.8000" stop-color="#65cb5e"/><stop offset="0.8667" stop-color="#58c765"/><stop offset="0.9333" stop-color="#4ec36b"/><stop offset="1.0000" stop-color="#42be71"/></linearGradient><linearGradient id="h110"><stop offset="0.0000" stop-color="#fde725"/><stop offset="0.0667" stop-color="#f1e51d"/><stop offset="0.1333" stop-color="#e5e419"/><stop offset="0.2000" stop-color="#d8e219"/><stop offset="0.2667" stop-color="#cae11f"/><stop offset="0.3333" stop-color="#bddf26"/><stop offset="0.4000" stop-color="#b0dd2f"/><stop offset="0.4667" stop-color="#a2da37"/><stop offset="0.5333" stop-color="#95d840"/><stop offset="0.6000" stop-color="#89d548"/><stop offset="0.6667" stop-color="#7ad151"/><stop offset="0.7333" stop-color="#6ece58"/><stop offset="0.8000" stop-color="#60ca60"/><stop offset="0.8667" stop-color="#56c667"/><stop offset="0.9333" stop-color="#4ac16d"/><stop offset="1.0000" stop-color="#3fbc73"/></linearGradient><linearGradient id="h111"><stop offset="0.0000" stop-color="#fde725"/><stop offset="0.0667" stop-color="#f1e51d"/><stop offset="0.1333" stop-color="#e5e419"/><stop offset="0.2000" stop-color="#d8e219"/><stop offset="0.2667" stop-color="#cae11f"/><stop offset="0.3333" stop-color="#bddf26"/><stop offset="0.4000" stop-color="#addc30"/><stop offset="0.4667" stop-color="#a0da39"/><stop offset="0.5333" stop-color="#93d741"/><stop offset="0.6000" stop-color="#84d44b"/><stop offset="0.6667" stop-color="#77d153"/><stop offset="0.7333" stop-color="#6ccd5a"/><stop offset="0.8000" stop-color="#5ec962"/><stop offset="0.8667" stop-color="#52c569"/><stop offset="0.9333" stop-color="#46c06f"/><stop offset="1.0000" stop-color="#3aba76"/></linearGradient><linearGradient id="h112"><stop offset="0.0000" stop-color="#fde725"/><stop offset="0.0667" stop-color="#f1e51d"/><stop offset="0.1333" stop-color="#e5e419"/><stop offset="0.2000" stop-color="#d8e219"/><stop offset="0.2667" stop-color="#c8e020"/><stop offset="0.3333" stop-color="#bade28"/><stop offset="0.4000" stop-color="#addc30"/><stop offset="0.4667" stop-color="#9dd93b"/><stop offset="0.5333" stop-color="#90d743"/><stop offset="0.6000" stop-color="#81d34d"/><stop offset="0.6667" stop-color="#75d054"/><stop offset="0.7333" stop-color="#67cc5c"/><stop offset="0.8000" stop-color="#5ac864"/><stop offset="0.8667" stop-color="#4ec36b"/><stop offset="0.9333" stop-color="#42be71"/><stop offset="1.0000" stop-color="#37b878"/></linearGradient><linearGradient id="h113"><stop offset="0.0000" stop-color="#fde725"/><stop offset="0.0667" stop-color="#f1e51d"/><stop offset="0.1333" stop-color="#e5e419"/><stop offset="0.2000" stop-color="#d5e21a"/><stop offset="0.2667" stop-color="#c8e020"/><stop offset="0.3333" stop-color="#b8de29"/><stop offset="0.4000" stop-color="#aadc32"/><stop offset="0.4667" stop-color="#9bd93c"/><stop offset="0.5333" stop-color="#8ed645"/><stop offset="0.6000" stop-color="#7fd34e"/><stop offset="0.6667" stop-color="#70cf57"/><stop offset="0.7333" stop-color="#65cb5e"/><stop offset="0.8000" stop-color="#56c667"/><stop offset="0.8667" stop-color="#4ac16d"/><stop offset="0.9333" stop-color="#3dbc74"/><stop offset="1.0000" stop-color="#32b67a"/></linearGradient><linearGradient id="h114"><stop offset="0.0000" stop-color="#fde725"/><stop offset="0.0667" stop-color="#f1e51d"/><stop offset="0.1333" stop-color="#e2e418"/><stop offset="0.2000" stop-color="#d5e21a"/><stop offset="0.2667" stop-color="#c5e021"/><stop offset="0.3333" stop-color="#b8de29"/><stop offset="0.4000" stop-color="#a8db34"/><stop offset="0.4667" stop-color="#98d83e"/><stop offset="0.5333" stop-color="#8bd646"/><stop offset="0.6000" stop-color="#7cd250"/><stop offset="0.6667" stop-color="#6ece58"/><stop offset="0.7333" stop-color="#60ca60"/><stop offset="0.8000" stop-color="#54c568"/><stop offset="0.8667" stop-color="#46c06f"/><stop offset="0.9333" stop-color="#3aba76"/><stop offset="1.0000" stop-color="#2fb47c"/></linearGradient><linearGradient id="h115"><stop offset="0.0000" stop-color="#fde725"/><stop offset="0.0667" stop-color="#f1e51d"/><stop offset="0.1333" stop-color="#e2e418"/><stop offset="0.2000" stop-color="#d2e21b"/><stop offset="0.2667" stop-color="#c5e021"/><stop offset="0.3333" stop-color="#b5de2b"/><stop offset="0.4000" stop-color="#a5db36"/><stop offset="0.4667" stop-color="#95d840"/><stop offset="0.5333" stop-color="#86d549"/><stop offset="0.6000" stop-color="#7ad151"/><stop offset="0.6667" stop-color="#69cd5b"/><stop offset="0.7333" stop-color="#5cc863"/><stop offset="0.8000" stop-color="#50c46a"/><stop offset="0.8667" stop-color="#42be71"/><stop offset="0.9333" stop-color="#35b779"/><stop offset="1.0000" stop-color="#2cb17e"/></linearGradient><linearGradient id="h116"><stop offset="0.0000" stop-color="#fde725"/><stop offset="0.0667" stop-color="#f1e51d"/><stop offset="0.1333" stop-color="#e2e418"/><stop offset="0.2000" stop-color="#d2e21b"/><stop offset="0.2667" stop-color="#c2df23"/><stop offset="0.3333" stop-color="#b2dd2d"/><stop offset="0.4000" stop-color="#a2da37"/><stop offset="0.4667" stop-color="#93d741"/><stop offset="0.5333" stop-color="#84d44b"/><stop offset="0.6000" stop-color="#75d054"/><stop offset="0.6667" stop-color="#67cc5c"/><stop offset="0.7333" stop-color="#58c765"/><stop offset="0.8000" stop-color="#4cc26c"/><stop offset="0.8667" stop-color="#3dbc74"/><stop offset="0.9333" stop-color="#32b67a"/><stop offset="1.0000" stop-color="#27ad81"/></linearGradient><linearGradient id="h117"><stop offset="0.0000" stop-color="#fde725"/><stop offset="0.0667" stop-color="#efe51c"/><stop offset="0.1333" stop-color="#dfe318"/><stop offset="0.2000" stop-color="#d0e11c"/><stop offset="0.2667" stop-color="#c0df25"/><stop offset="0.3333" stop-color="#b0dd2f"/><stop offset="0.4000" stop-color="#a0da39"/><stop offset="0.4667" stop-color="#90d743"/><stop offset="0.5333" stop-color="#81d34d"/><stop offset="0.6000" stop-color="#73d056"/><stop offset="0.6667" stop-color="#63cb5f"/><stop offset="0.7333" stop-color="#54c568"/><stop offset="0.8000" stop-color="#46c06f"/><stop offset="0.8667" stop-color="#3aba76"/><stop offset="0.9333" stop-color="#2eb37c"/><stop offset="1.0000" stop-color="#25ab82"/></linearGradient><linearGradient id="h118"><stop offset="0.0000" stop-color="#fde725"/><stop offset="0.0667" stop-color="#efe51c"/><stop offset="0.1333" stop-color="#dfe318"/><stop offset="0.2000" stop-color="#d0e11c"/><stop offset="0.2667" stop-color="#c0df25"/><stop offset="0.3333" stop-color="#b0dd2f"/><stop offset="0.4000" stop-color="#9dd93b"/><stop offset="0.4667" stop-color="#8ed645"/><stop offset="0.5333" stop-color="#7fd34e"/><stop offset="0.6000" stop-color="#6ece58"/><stop offset="0.6667" stop-color="#5ec962"/><stop offset="0.7333" stop-color="#50c46a"/><stop offset="0.8000" stop-color="#42be71"/><stop offset="0.8667" stop-color="#35b779"/><stop offset="0.9333" stop-color="#29af7f"/><stop offset="1.0000" stop-color="#22a785"/></linearGradient><linearGradient id="h119"><stop offset="0.0000" stop-color="#fde725"/><stop offset="0.0667" stop-color="#efe51c"/><stop offset="0.1333" stop-color="#dfe318"/><stop offset="0.2000" stop-color="#cde11d"/><stop offset="0.2667" stop-color="#bddf26"/><stop offset="0.3333" stop-color="#addc30"/><stop offset="0.4000" stop-color="#9bd93c"/><stop offset="0.4667" stop-color="#8bd646"/><stop offset="0.5333" stop-color="#7ad151"/><stop offset="0.6000" stop-color="#69cd5b"/><stop offset="0.6667" stop-color="#5ac864"/><stop offset="0.7333" stop-color="#4cc26c"/><stop offset="0.8000" stop-color="#3dbc74"/><stop offset="0.8667" stop-color="#31b57b"/><stop offset="0.9333" stop-color="#26ad81"/><stop offset="1.0000" stop-color="#20a386"/></linearGradient><linearGradient id="h120"><stop offset="0.0000" stop-color="#fde725"/><stop offset="0.0667" stop-color="#efe51c"/><stop offset="0.1333" stop-color="#dde318"/><stop offset="0.2000" stop-color="#cde11d"/><stop offset="0.2667" stop-color="#bade28"/><stop offset="0.3333" stop-color="#aadc32"/><stop offset="0.4000" stop-color="#98d83e"/><stop offset="0.4667" stop-color="#86d549"/><stop offset="0.5333" stop-color="#77d153"/><stop offset="0.6000" stop-color="#67cc5c"/><stop offset="0.6667" stop-color="#56c667"/><stop offset="0.7333" stop-color="#48c16e"/><stop offset="0.8000" stop-color="#38b977"/><stop offset="0.8667" stop-color="#2db27d"/><stop offset="0.9333" stop-color="#23a983"/><stop offset="1.0000" stop-color="#1f9f88"/></linearGradient><linearGradient id="h121"><stop offset="0.0000" stop-color="#fde725"/><stop offset="0.0667" stop-color="#efe51c"/><stop offset="0.1333" stop-color="#dde318"/><stop offset="0.2000" stop-color="#cae11f"/><stop offset="0.2667" stop-color="#bade28"/><stop offset="0.3333" stop-color="#a8db34"/><stop offset="0.4000" stop-color="#95d840"/><stop offset="0.4667" stop-color="#84d44b"/><stop offset="0.5333" stop-color="#73d056"/><stop offset="0.6000" stop-color="#63cb5f"/><stop offset="0.6667" stop-color="#52c569"/><stop offset="0.7333" stop-color="#42be71"/><stop offset="0.8000" stop-color="#34b679"/><stop offset="0.8667" stop-color="#28ae80"/><stop offset="0.9333" stop-color="#21a585"/><stop offset="1.0000" stop-color="#1f9a8a"/></linearGradient><linearGradient id="h122"><stop offset="0.0000" stop-color="#fde725"/><stop offset="0.0667" stop-color="#efe51c"/><stop offset="0.1333" stop-color="#dde318"/><stop offset="0.2000" stop-color="#cae11f"/><stop offset="0.2667" stop-color="#b8de29"/><stop offset="0.3333" stop-color="#a5db36"/><stop offset="0.4000" stop-color="#93d741"/><stop offset="0.4667" stop-color="#7fd34e"/><stop offset="0.5333" stop-color="#6ece58"/><stop offset="0.6000" stop-color="#5ec962"/><stop offset="0.6667" stop-color="#4ec36b"/><stop offset="0.7333" stop-color="#3dbc74"/><stop offset="0.8000" stop-color="#2fb47c"/><stop offset="0.8667" stop-color="#25ab82"/><stop offset="0.9333" stop-color="#1fa188"/><stop offset="1.0000" stop-color="#1f948c"/></linearGradient><linearGradient id="h123"><stop offset="0.0000" stop-color="#fde725"/><stop offset="0.0667" stop-color="#ece51b"/><stop offset="0.1333" stop-color="#dae319"/><stop offset="0.2000" stop-color="#c8e020"/><stop offset="0.2667" stop-color="#b5de2b"/><stop offset="0.3333" stop-color="#a2da37"/><stop offset="0.4000" stop-color="#8ed645"/><stop offset="0.4667" stop-color="#7cd250"/><stop offset="0.5333" stop-color="#69cd5b"/><stop offset="0.6000" stop-color="#58c765"/><stop offset="0.6667" stop-color="#48c16e"/><stop offset="0.7333" stop-color="#38b977"/><stop offset="0.8000" stop-color="#2ab07f"/><stop offset="0.8667" stop-color="#22a785"/><stop offset="0.9333" stop-color="#1e9c89"/><stop offset="1.0000" stop-color="#218f8d"/></linearGradient><linearGradient id="h124"><stop offset="0.0000" stop-color="#fde725"/><stop offset="0.0667" stop-color="#ece51b"/><stop offset="0.1333" stop-color="#dae319"/><stop offset="0.2000" stop-color="#c5e021"/><stop offset="0.2667" stop-color="#b2dd2d"/><stop offset="0.3333" stop-color="#9dd93b"/><stop offset="0.4000" stop-color="#8bd646"/><stop offset="0.4667" stop-color="#77d153"/><stop offset="0.5333" stop-color="#65cb5e"/><stop offset="0.6000" stop-color="#54c568"/><stop offset="0.6667" stop-color="#42be71"/><stop offset="0.7333" stop-color="#34b679"/><stop offset="0.8000" stop-color="#26ad81"/><stop offset="0.8667" stop-color="#1fa287"/><stop offset="0.9333" stop-color="#1f968b"/><stop offset="1.0000" stop-color="#23888e"/></linearGradient><linearGradient id="h125"><stop offset="0.0000" stop-color="#fde725"/><stop offset="0.0667" stop-color="#ece51b"/><stop offset="0.1333" stop-color="#d8e219"/><stop offset="0.2000" stop-color="#c5e021"/><stop offset="0.2667" stop-color="#b0dd2f"/><stop offset="0.3333" stop-color="#9bd93c"/><stop offset="0.4000" stop-color="#86d549"/><stop offset="0.4667" stop-color="#73d056"/><stop offset="0.5333" stop-color="#60ca60"/><stop offset="0.6000" stop-color="#4ec36b"/><stop offset="0.6667" stop-color="#3dbc74"/><stop offset="0.7333" stop-color="#2eb37c"/><stop offset="0.8000" stop-color="#23a983"/><stop offset="0.8667" stop-color="#1e9d89"/><stop offset="0.9333" stop-color="#21908d"/><stop offset="1.0000" stop-color="#26818e"/></linearGradient><linearGradient id="h126"><stop offset="0.0000" stop-color="#fde725"/><stop offset="0.0667" stop-color="#ece51b"/><stop offset="0.1333" stop-color="#d8e219"/><stop offset="0.2000" stop-color="#c2df23"/><stop offset="0.2667" stop-color="#addc30"/><stop offset="0.3333" stop-color="#98d83e"/><stop offset="0.4000" stop-color="#84d44b"/><stop offset="0.4667" stop-color="#6ece58"/><stop offset="0.5333" stop-color="#5cc863"/><stop offset="0.6000" stop-color="#4ac16d"/><stop offset="0.6667" stop-color="#38b977"/><stop offset="0.7333" stop-color="#29af7f"/><stop offset="0.8000" stop-color="#20a486"/><stop offset="0.8667" stop-color="#1f978b"/><stop offset="0.9333" stop-color="#23898e"/><stop offset="1.0000" stop-color="#2a778e"/></linearGradient><linearGradient id="h127"><stop offset="0.0000" stop-color="#fde725"/><stop offset="0.0667" stop-color="#eae51a"/><stop offset="0.1333" stop-color="#d5e21a"/><stop offset="0.2000" stop-color="#c0df25"/><stop offset="0.2667" stop-color="#aadc32"/><stop offset="0.3333" stop-color="#95d840"/><stop offset="0.4000" stop-color="#7fd34e"/><stop offset="0.4667" stop-color="#69cd5b"/><stop offset="0.5333" stop-color="#56c667"/><stop offset="0.6000" stop-color="#44bf70"/><stop offset="0.6667" stop-color="#32b67a"/><stop offset="0.7333" stop-color="#25ac82"/><stop offset="0.8000" stop-color="#1fa088"/><stop offset="0.8667" stop-color="#20928c"/><stop offset="0.9333" stop-color="#26818e"/><stop offset="1.0000" stop-color="#2e6e8e"/></linearGradient><linearGradient id="h128"><stop offset="0.0000" stop-color="#fde725"/><stop offset="0.0667" stop-color="#eae51a"/><stop offset="0.1333" stop-color="#d5e21a"/><stop offset="0.2000" stop-color="#bddf26"/><stop offset="0.2667" stop-color="#a8db34"/><stop offset="0.3333" stop-color="#90d743"/><stop offset="0.4000" stop-color="#7ad151"/><stop offset="0.4667" stop-color="#65cb5e"/><stop offset="0.5333" stop-color="#52c569"/><stop offset="0.6000" stop-color="#3dbc74"/><stop offset="0.6667" stop-color="#2db27d"/><stop offset="0.7333" stop-color="#22a785"/><stop offset="0.8000" stop-color="#1f998a"/><stop offset="0.8667" stop-color="#238a8d"/><stop offset="0.9333" stop-color="#2a778e"/><stop offset="1.0000" stop-color="#34618d"/></linearGradient><linearGradient id="h129"><stop offset="0.0000" stop-color="#fde725"/><stop offset="0.0667" stop-color="#eae51a"/><stop offset="0.1333" stop-color="#d2e21b"/><stop offset="0.2000" stop-color="#bade28"/><stop offset="0.2667" stop-color="#a2da37"/><stop offset="0.3333" stop-color="#8bd646"/><stop offset="0.4000" stop-color="#75d054"/><stop offset="0.4667" stop-color="#60ca60"/><stop offset="0.5333" stop-color="#4cc26c"/><stop offset="0.6000" stop-color="#38b977"/><stop offset="0.6667" stop-color="#28ae80"/><stop offset="0.7333" stop-color="#1fa187"/><stop offset="0.8000" stop-color="#20928c"/><stop offset="0.8667" stop-color="#26818e"/><stop offset="0.9333" stop-color="#2f6c8e"/><stop offset="1.0000" stop-color="#3b518b"/></linearGradient><linearGradient id="h130"><stop offset="0.0000" stop-color="#fde725"/><stop offset="0.0659" stop-color="#e7e419"/><stop offset="0.1319" stop-color="#d0e11c"/><stop offset="0.1978" stop-color="#b8de29"/><stop offset="0.2637" stop-color="#a0da39"/><stop offset="0.3297" stop-color="#89d548"/><stop offset="0.3956" stop-color="#73d056"/><stop offset="0.4615" stop-color="#5cc863"/><stop offset="0.5275" stop-color="#46c06f"/><stop offset="0.5934" stop-color="#34b679"/><stop offset="0.6593" stop-color="#25ab82"/><stop offset="0.7253" stop-color="#1f9e89"/><stop offset="0.7912" stop-color="#228d8d"/><stop offset="0.8571" stop-color="#297a8e"/><stop offset="0.9231" stop-color="#33638d"/><stop offset="0.9290" stop-color="#34608d"/><stop offset="0.9540" stop-color="#39558c"/><stop offset="0.9690" stop-color="#3d4e8a"/><stop offset="0.9790" stop-color="#3f4889"/><stop offset="0.9850" stop-color="#404588"/><stop offset="0.9890" stop-color="#440154"/><stop offset="1.0000" stop-color="#414487"/></linearGradient><linearGradient id="h131"><stop offset="0.0000" stop-color="#fde725"/><stop offset="0.0635" stop-color="#e7e419"/><stop offset="0.1271" stop-color="#d0e11c"/><stop offset="0.1906" stop-color="#b8de29"/><stop offset="0.2541" stop-color="#a0da39"/><stop offset="0.3177" stop-color="#89d548"/><stop offset="0.3812" stop-color="#73d056"/><stop offset="0.4447" stop-color="#5cc863"/><stop offset="0.5083" stop-color="#46c06f"/><stop offset="0.5718" stop-color="#34b679"/><stop offset="0.6353" stop-color="#25ab82"/><stop offset="0.6989" stop-color="#1f9e89"/><stop offset="0.7624" stop-color="#228d8d"/><stop offset="0.8259" stop-color="#297a8e"/><stop offset="0.8895" stop-color="#33638d"/><stop offset="0.8930" stop-color="#34618d"/><stop offset="0.9180" stop-color="#39558c"/><stop offset="0.9330" stop-color="#3d4e8a"/><stop offset="0.9430" stop-color="#3e4989"/><stop offset="0.9490" stop-color="#404688"/><stop offset="0.9530" stop-color="#440154"/><stop offset="1.0000" stop-color="#414487"/></linearGradient><linearGradient id="h132"><stop offset="0.0000" stop-color="#fde725"/><stop offset="0.0611" stop-color="#e7e419"/><stop offset="0.1223" stop-color="#d0e11c"/><stop offset="0.1834" stop-color="#b8de29"/><stop offset="0.2445" stop-color="#a0da39"/><stop offset="0.3057" stop-color="#89d548"/><stop offset="0.3668" stop-color="#73d056"/><stop offset="0.4279" stop-color="#5cc863"/><stop offset="0.4891" stop-color="#46c06f"/><stop offset="0.5502" stop-color="#34b679"/><stop offset="0.6113" stop-color="#25ab82"/><stop offset="0.6725" stop-color="#1f9e89"/><stop offset="0.7336" stop-color="#228d8d"/><stop offset="0.7947" stop-color="#297a8e"/><stop offset="0.8559" stop-color="#33638d"/><stop offset="0.8570" stop-color="#33628d"/><stop offset="0.8820" stop-color="#39568c"/><stop offset="0.8970" stop-color="#3c4f8a"/><stop offset="0.9070" stop-color="#3e4989"/><stop offset="0.9130" stop-color="#404688"/><stop offset="0.9170" stop-color="#440154"/><stop offset="1.0000" stop-color="#414487"/></linearGradient><linearGradient id="h133"><stop offset="0.0000" stop-color="#fde725"/><stop offset="0.0587" stop-color="#e7e419"/><stop offset="0.1175" stop-color="#d0e11c"/><stop offset="0.1762" stop-color="#b8de29"/><stop offset="0.2349" stop-color="#a0da39"/><stop offset="0.2937" stop-color="#89d548"/><stop offset="0.3524" stop-color="#73d056"/><stop offset="0.4111" stop-color="#5cc863"/><stop offset="0.4699" stop-color="#46c06f"/><stop offset="0.5286" stop-color="#34b679"/><stop offset="0.5873" stop-color="#25ab82"/><stop offset="0.6461" stop-color="#1f9e89"/><stop offset="0.7048" stop-color="#218e8d"/><stop offset="0.7635" stop-color="#297a8e"/><stop offset="0.8210" stop-color="#32648e"/><stop offset="0.8223" stop-color="#33638d"/><stop offset="0.8460" stop-color="#38588c"/><stop offset="0.8610" stop-color="#3c4f8a"/><stop offset="0.8710" stop-color="#3e4989"/><stop offset="0.8770" stop-color="#404688"/><stop offset="0.8810" stop-color="#440154"/><stop offset="1.0000" stop-color="#414487"/></linearGradient><linearGradient id="h134"><stop offset="0.0000" stop-color="#fde725"/><stop offset="0.0563" stop-color="#e7e419"/><stop offset="0.1127" stop-color="#d0e11c"/><stop offset="0.1690" stop-color="#b8de29"/><stop offset="0.2253" stop-color="#a0da39"/><stop offset="0.2817" stop-color="#89d548"/><stop offset="0.3380" stop-color="#73d056"/><stop offset="0.3943" stop-color="#5cc863"/><stop offset="0.4507" stop-color="#46c06f"/><stop offset="0.5070" stop-color="#34b679"/><stop offset="0.5633" stop-color="#25ab82"/><stop offset="0.6197" stop-color="#1f9e89"/><stop offset="0.6760" stop-color="#218e8d"/><stop offset="0.7323" stop-color="#297a8e"/><stop offset="0.7850" stop-color="#32658e"/><stop offset="0.7887" stop-color="#33638d"/><stop offset="0.8100" stop-color="#38598c"/><stop offset="0.8250" stop-color="#3c508b"/><stop offset="0.8350" stop-color="#3e4989"/><stop offset="0.8410" stop-color="#404688"/><stop offset="0.8450" stop-color="#414487"/><stop offset="1.0000" stop-color="#414487"/></linearGradient><linearGradient id="h135"><stop offset="0.0000" stop-color="#fde725"/><stop offset="0.0542" stop-color="#e7e419"/><stop offset="0.1083" stop-color="#d0e11c"/><stop offset="0.1625" stop-color="#b8de29"/><stop offset="0.2167" stop-color="#a0da39"/><stop offset="0.2708" stop-color="#89d548"/><stop offset="0.3250" stop-color="#73d056"/><stop offset="0.3792" stop-color="#5cc863"/><stop offset="0.4333" stop-color="#46c06f"/><stop offset="0.4875" stop-color="#34b679"/><stop offset="0.5417" stop-color="#25ab82"/><stop offset="0.5958" stop-color="#1f9e89"/><stop offset="0.6500" stop-color="#218e8d"/><stop offset="0.7042" stop-color="#297a8e"/><stop offset="0.7525" stop-color="#31668e"/><stop offset="0.7583" stop-color="#33638d"/><stop offset="0.7775" stop-color="#38598c"/><stop offset="0.7925" stop-color="#3c508b"/><stop offset="0.8025" stop-color="#3e4989"/><stop offset="0.8085" stop-color="#404688"/><stop offset="0.8125" stop-color="#414487"/><stop offset="1.0000" stop-color="#414487"/></linearGradient><linearGradient id="h136"><stop offset="0.0000" stop-color="#fde725"/><stop offset="0.0520" stop-color="#e7e419"/><stop offset="0.1041" stop-color="#d0e11c"/><stop offset="0.1561" stop-color="#b8de29"/><stop offset="0.2081" stop-color="#a0da39"/><stop offset="0.2602" stop-color="#89d548"/><stop offset="0.3122" stop-color="#73d056"/><stop offset="0.3642" stop-color="#5cc863"/><stop offset="0.4163" stop-color="#46c06f"/><stop offset="0.4683" stop-color="#34b679"/><stop offset="0.5203" stop-color="#25ab82"/><stop offset="0.5724" stop-color="#1f9e89"/><stop offset="0.6244" stop-color="#228d8d"/><stop offset="0.6764" stop-color="#297a8e"/><stop offset="0.7205" stop-color="#31678e"/><stop offset="0.7285" stop-color="#33638d"/><stop offset="0.7455" stop-color="#375a8c"/><stop offset="0.7605" stop-color="#3c508b"/><stop offset="0.7705" stop-color="#3e4a89"/><stop offset="0.7765" stop-color="#404688"/><stop offset="0.7805" stop-color="#440154"/><stop offset="1.0000" stop-color="#414487"/></linearGradient><linearGradient id="h137"><stop offset="0.0000" stop-color="#fde725"/><stop offset="0.0499" stop-color="#e7e419"/><stop offset="0.0998" stop-color="#d0e11c"/><stop offset="0.1497" stop-color="#b8de29"/><stop offset="0.1996" stop-color="#a0da39"/><stop offset="0.2495" stop-color="#89d548"/><stop offset="0.2994" stop-color="#73d056"/><stop offset="0.3493" stop-color="#5cc863"/><stop offset="0.3992" stop-color="#46c06f"/><stop offset="0.4491" stop-color="#34b679"/><stop offset="0.4990" stop-color="#25ab82"/><stop offset="0.5489" stop-color="#1f9e89"/><stop offset="0.5988" stop-color="#228d8d"/><stop offset="0.6487" stop-color="#297a8e"/><stop offset="0.6885" stop-color="#31688e"/><stop offset="0.6986" stop-color="#33638d"/><stop offset="0.7135" stop-color="#375b8d"/><stop offset="0.7285" stop-color="#3b518b"/><stop offset="0.7385" stop-color="#3e4a89"/><stop offset="0.7445" stop-color="#404688"/><stop offset="0.7485" stop-color="#440154"/><stop offset="1.0000" stop-color="#414487"/></linearGradient><linearGradient id="h138"><stop offset="0.0000" stop-color="#fde725"/><stop offset="0.0478" stop-color="#e7e419"/><stop offset="0.0956" stop-color="#d0e11c"/><stop offset="0.1434" stop-color="#b8de29"/><stop offset="0.1912" stop-color="#a0da39"/><stop offset="0.2390" stop-color="#89d548"/><stop offset="0.2868" stop-color="#73d056"/><stop offset="0.3346" stop-color="#5cc863"/><stop offset="0.3824" stop-color="#46c06f"/><stop offset="0.4302" stop-color="#34b679"/><stop offset="0.4780" stop-color="#25ab82"/><stop offset="0.5258" stop-color="#1f9e89"/><stop offset="0.5736" stop-color="#218e8d"/><stop offset="0.6214" stop-color="#297a8e"/><stop offset="0.6570" stop-color="#306a8e"/><stop offset="0.6692" stop-color="#33638d"/><stop offset="0.6820" stop-color="#365c8d"/><stop offset="0.6970" stop-color="#3b528b"/><stop offset="0.7070" stop-color="#3e4a89"/><stop offset="0.7130" stop-color="#404688"/><stop offset="0.7170" stop-color="#440154"/><stop offset="1.0000" stop-color="#414487"/></linearGradient><linearGradient id="h139"><stop offset="0.0000" stop-color="#fde725"/><stop offset="0.0460" stop-color="#e7e419"/><stop offset="0.0920" stop-color="#d0e11c"/><stop offset="0.1380" stop-color="#b8de29"/><stop offset="0.1840" stop-color="#a0da39"/><stop offset="0.2300" stop-color="#89d548"/><stop offset="0.2760" stop-color="#73d056"/><stop offset="0.3220" stop-color="#5cc863"/><stop offset="0.3680" stop-color="#46c06f"/><stop offset="0.4140" stop-color="#34b679"/><stop offset="0.4600" stop-color="#25ab82"/><stop offset="0.5060" stop-color="#1f9e89"/><stop offset="0.5520" stop-color="#218e8d"/><stop offset="0.5980" stop-color="#297a8e"/><stop offset="0.6300" stop-color="#2f6b8e"/><stop offset="0.6440" stop-color="#33638d"/><stop offset="0.6550" stop-color="#365c8d"/><stop offset="0.6700" stop-color="#3b528b"/><stop offset="0.6800" stop-color="#3e4c8a"/><stop offset="0.6860" stop-color="#404688"/><stop offset="0.6900" stop-color="#414487"/><stop offset="1.0000" stop-color="#414487"/></linearGradient><linearGradient id="h140"><stop offset="0.0000" stop-color="#fde725"/><stop offset="0.0442" stop-color="#e7e419"/><stop offset="0.0885" stop-color="#d0e11c"/><stop offset="0.1327" stop-color="#b8de29"/><stop offset="0.1769" stop-color="#a0da39"/><stop offset="0.2212" stop-color="#89d548"/><stop offset="0.2654" stop-color="#73d056"/><stop offset="0.3096" stop-color="#5cc863"/><stop offset="0.3539" stop-color="#46c06f"/><stop offset="0.3981" stop-color="#34b679"/><stop offset="0.4423" stop-color="#25ab82"/><stop offset="0.4866" stop-color="#1e9d89"/><stop offset="0.5308" stop-color="#228d8d"/><stop offset="0.5750" stop-color="#297a8e"/><stop offset="0.6035" stop-color="#2f6c8e"/><stop offset="0.6193" stop-color="#33638d"/><stop offset="0.6285" stop-color="#365d8d"/><stop offset="0.6435" stop-color="#3b528b"/><stop offset="0.6535" stop-color="#3e4a89"/><stop offset="0.6595" stop-color="#404688"/><stop offset="0.6635" stop-color="#440154"/><stop offset="1.0000" stop-color="#414487"/></linearGradient><linearGradient id="h141"><stop offset="0.0000" stop-color="#fde725"/><stop offset="0.0424" stop-color="#e7e419"/><stop offset="0.0849" stop-color="#d0e11c"/><stop offset="0.1273" stop-color="#b8de29"/><stop offset="0.1697" stop-color="#a0da39"/><stop offset="0.2122" stop-color="#89d548"/><stop offset="0.2546" stop-color="#73d056"/><stop offset="0.2970" stop-color="#5cc863"/><stop offset="0.3395" stop-color="#46c06f"/><stop offset="0.3819" stop-color="#34b679"/><stop offset="0.4243" stop-color="#25ab82"/><stop offset="0.4668" stop-color="#1e9d89"/><stop offset="0.5092" stop-color="#228d8d"/><stop offset="0.5516" stop-color="#297a8e"/><stop offset="0.5765" stop-color="#2e6d8e"/><stop offset="0.5941" stop-color="#33638d"/><stop offset="0.6015" stop-color="#355e8d"/><stop offset="0.6165" stop-color="#3a538b"/><stop offset="0.6265" stop-color="#3e4c8a"/><stop offset="0.6325" stop-color="#404688"/><stop offset="0.6365" stop-color="#440154"/><stop offset="1.0000" stop-color="#414487"/></linearGradient><linearGradient id="h142"><stop offset="0.0000" stop-color="#fde725"/><stop offset="0.0406" stop-color="#e7e419"/><stop offset="0.0813" stop-color="#d0e11c"/><stop offset="0.1219" stop-color="#b8de29"/><stop offset="0.1625" stop-color="#a0da39"/><stop offset="0.2032" stop-color="#89d548"/><stop offset="0.2438" stop-color="#73d056"/><stop offset="0.2844" stop-color="#5cc863"/><stop offset="0.3251" stop-color="#46c06f"/><stop offset="0.3657" stop-color="#34b679"/><stop offset="0.4063" stop-color="#25ab82"/><stop offset="0.4470" stop-color="#1f9e89"/><stop offset="0.4876" stop-color="#228d8d"/><stop offset="0.5282" stop-color="#297a8e"/><stop offset="0.5495" stop-color="#2e6f8e"/><stop offset="0.5689" stop-color="#33638d"/><stop offset="0.5745" stop-color="#355f8d"/><stop offset="0.5895" stop-color="#3a548c"/><stop offset="0.5995" stop-color="#3e4c8a"/><stop offset="0.6055" stop-color="#3f4788"/><stop offset="0.6095" stop-color="#440154"/><stop offset="1.0000" stop-color="#414487"/></linearGradient><linearGradient id="h143"><stop offset="0.0000" stop-color="#fde725"/><stop offset="0.0389" stop-color="#e7e419"/><stop offset="0.0777" stop-color="#d0e11c"/><stop offset="0.1166" stop-color="#b8de29"/><stop offset="0.1555" stop-color="#a0da39"/><stop offset="0.1943" stop-color="#89d548"/><stop offset="0.2332" stop-color="#73d056"/><stop offset="0.2721" stop-color="#5cc863"/><stop offset="0.3109" stop-color="#46c06f"/><stop offset="0.3498" stop-color="#34b679"/><stop offset="0.3887" stop-color="#25ab82"/><stop offset="0.4275" stop-color="#1f9e89"/><stop offset="0.4664" stop-color="#218e8d"/><stop offset="0.5053" stop-color="#297a8e"/><stop offset="0.5230" stop-color="#2d718e"/><stop offset="0.5441" stop-color="#33638d"/><stop offset="0.5480" stop-color="#34608d"/><stop offset="0.5630" stop-color="#3a548c"/><stop offset="0.5730" stop-color="#3d4d8a"/><stop offset="0.5790" stop-color="#3f4788"/><stop offset="0.5830" stop-color="#414487"/><stop offset="1.0000" stop-color="#414487"/></linearGradient><linearGradient id="h144"><stop offset="0.0000" stop-color="#fde725"/><stop offset="0.0371" stop-color="#e7e419"/><stop offset="0.0743" stop-color="#d0e11c"/><stop offset="0.1114" stop-color="#b8de29"/><stop offset="0.1485" stop-color="#a0da39"/><stop offset="0.1857" stop-color="#89d548"/><stop offset="0.2228" stop-color="#73d056"/><stop offset="0.2599" stop-color="#5cc863"/><stop offset="0.2971" stop-color="#46c06f"/><stop offset="0.3342" stop-color="#34b679"/><stop offset="0.3713" stop-color="#25ab82"/><stop offset="0.4085" stop-color="#1f9e89"/><stop offset="0.4456" stop-color="#218e8d"/><stop offset="0.4827" stop-color="#297a8e"/><stop offset="0.4970" stop-color="#2c728e"/><stop offset="0.5199" stop-color="#33638d"/><stop offset="0.5220" stop-color="#34618d"/><stop offset="0.5370" stop-color="#39558c"/><stop offset="0.5470" stop-color="#3d4d8a"/><stop offset="0.5530" stop-color="#3f4788"/><stop offset="0.5570" stop-color="#414487"/><stop offset="1.0000" stop-color="#414487"/></linearGradient><linearGradient id="h145"><stop offset="0.0000" stop-color="#fde725"/><stop offset="0.0354" stop-color="#e7e419"/><stop offset="0.0709" stop-color="#d0e11c"/><stop offset="0.1063" stop-color="#b8de29"/><stop offset="0.1417" stop-color="#a0da39"/><stop offset="0.1772" stop-color="#89d548"/><stop offset="0.2126" stop-color="#73d056"/><stop offset="0.2480" stop-color="#5cc863"/><stop offset="0.2835" stop-color="#46c06f"/><stop offset="0.3189" stop-color="#34b679"/><stop offset="0.3543" stop-color="#25ab82"/><stop offset="0.3898" stop-color="#1e9d89"/><stop offset="0.4252" stop-color="#228d8d"/><stop offset="0.4606" stop-color="#297a8e"/><stop offset="0.4715" stop-color="#2c738e"/><stop offset="0.4961" stop-color="#33638d"/><stop offset="0.4965" stop-color="#33628d"/><stop offset="0.5115" stop-color="#39568c"/><stop offset="0.5215" stop-color="#3d4d8a"/><stop offset="0.5275" stop-color="#3f4788"/><stop offset="0.5315" stop-color="#440154"/><stop offset="1.0000" stop-color="#414487"/></linearGradient><linearGradient id="h146"><stop offset="0.0000" stop-color="#fde725"/><stop offset="0.0337" stop-color="#e7e419"/><stop offset="0.0674" stop-color="#d0e11c"/><stop offset="0.1011" stop-color="#b8de29"/><stop offset="0.1348" stop-color="#a0da39"/><stop offset="0.1685" stop-color="#89d548"/><stop offset="0.2022" stop-color="#73d056"/><stop offset="0.2359" stop-color="#5cc863"/><stop offset="0.2696" stop-color="#46c06f"/><stop offset="0.3033" stop-color="#34b679"/><stop offset="0.3370" stop-color="#25ab82"/><stop offset="0.3707" stop-color="#1e9d89"/><stop offset="0.4044" stop-color="#228d8d"/><stop offset="0.4381" stop-color="#297a8e"/><stop offset="0.4455" stop-color="#2b758e"/><stop offset="0.4705" stop-color="#32648e"/><stop offset="0.4718" stop-color="#33638d"/><stop offset="0.4855" stop-color="#39568c"/><stop offset="0.4955" stop-color="#3d4e8a"/><stop offset="0.5015" stop-color="#3f4788"/><stop offset="0.5055" stop-color="#440154"/><stop offset="1.0000" stop-color="#414487"/></linearGradient><linearGradient id="h147"><stop offset="0.0000" stop-color="#fde725"/><stop offset="0.0327" stop-color="#e7e419"/><stop offset="0.0653" stop-color="#d0e11c"/><stop offset="0.0980" stop-color="#b8de29"/><stop offset="0.1307" stop-color="#a0da39"/><stop offset="0.1633" stop-color="#89d548"/><stop offset="0.1960" stop-color="#73d056"/><stop offset="0.2287" stop-color="#5cc863"/><stop offset="0.2613" stop-color="#46c06f"/><stop offset="0.2940" stop-color="#34b679"/><stop offset="0.3267" stop-color="#25ab82"/><stop offset="0.3593" stop-color="#1e9d89"/><stop offset="0.3920" stop-color="#228d8d"/><stop offset="0.4247" stop-color="#297a8e"/><stop offset="0.4300" stop-color="#2a768e"/><stop offset="0.4550" stop-color="#32658e"/><stop offset="0.4573" stop-color="#33638d"/><stop offset="0.4700" stop-color="#38588c"/><stop offset="0.4800" stop-color="#3d4e8a"/><stop offset="0.4860" stop-color="#3f4788"/><stop offset="0.4900" stop-color="#440154"/><stop offset="1.0000" stop-color="#414487"/></linearGradient><linearGradient id="h148"><stop offset="0.0000" stop-color="#fde725"/><stop offset="0.0425" stop-color="#e7e419"/><stop offset="0.0849" stop-color="#d0e11c"/><stop offset="0.1274" stop-color="#b8de29"/><stop offset="0.1699" stop-color="#a0da39"/><stop offset="0.2123" stop-color="#89d548"/><stop offset="0.2548" stop-color="#73d056"/><stop offset="0.2973" stop-color="#5cc863"/><stop offset="0.3397" stop-color="#46c06f"/><stop offset="0.3822" stop-color="#34b679"/><stop offset="0.4247" stop-color="#25ab82"/><stop offset="0.4671" stop-color="#1f9e89"/><stop offset="0.5096" stop-color="#228d8d"/><stop offset="0.5521" stop-color="#297a8e"/><stop offset="0.5770" stop-color="#2e6d8e"/><stop offset="0.5945" stop-color="#33638d"/><stop offset="0.6020" stop-color="#355e8d"/><stop offset="0.6170" stop-color="#3a538b"/><stop offset="0.6270" stop-color="#3e4c8a"/><stop offset="0.6330" stop-color="#404688"/><stop offset="0.6370" stop-color="#440154"/><stop offset="1.0000" stop-color="#414487"/></linearGradient><linearGradient id="h149"><stop offset="0.0000" stop-color="#fde725"/><stop offset="0.0431" stop-color="#e7e419"/><stop offset="0.0861" stop-color="#d0e11c"/><stop offset="0.1292" stop-color="#b8de29"/><stop offset="0.1723" stop-color="#a0da39"/><stop offset="0.2153" stop-color="#89d548"/><stop offset="0.2584" stop-color="#73d056"/><stop offset="0.3015" stop-color="#5cc863"/><stop offset="0.3445" stop-color="#46c06f"/><stop offset="0.3876" stop-color="#34b679"/><stop offset="0.4307" stop-color="#25ab82"/><stop offset="0.4737" stop-color="#1f9e89"/><stop offset="0.5168" stop-color="#228d8d"/><stop offset="0.5599" stop-color="#297a8e"/><stop offset="0.5860" stop-color="#2e6d8e"/><stop offset="0.6029" stop-color="#33638d"/><stop offset="0.6110" stop-color="#355e8d"/><stop offset="0.6260" stop-color="#3a538b"/><stop offset="0.6360" stop-color="#3e4c8a"/><stop offset="0.6420" stop-color="#404688"/><stop offset="0.6460" stop-color="#440154"/><stop offset="1.0000" stop-color="#414487"/></linearGradient><linearGradient id="h150"><stop offset="0.0000" stop-color="#fde725"/><stop offset="0.0442" stop-color="#e7e419"/><stop offset="0.0885" stop-color="#d0e11c"/><stop offset="0.1327" stop-color="#b8de29"/><stop offset="0.1769" stop-color="#a0da39"/><stop offset="0.2212" stop-color="#89d548"/><stop offset="0.2654" stop-color="#73d056"/><stop offset="0.3096" stop-color="#5cc863"/><stop offset="0.3539" stop-color="#46c06f"/><stop offset="0.3981" stop-color="#34b679"/><stop offset="0.4423" stop-color="#25ab82"/><stop offset="0.4866" stop-color="#1f9e89"/><stop offset="0.5308" stop-color="#218e8d"/><stop offset="0.5750" stop-color="#297a8e"/><stop offset="0.6035" stop-color="#2f6c8e"/><stop offset="0.6193" stop-color="#33638d"/><stop offset="0.6285" stop-color="#365d8d"/><stop offset="0.6435" stop-color="#3a538b"/><stop offset="0.6535" stop-color="#3e4c8a"/><stop offset="0.6595" stop-color="#3f4788"/><stop offset="0.6635" stop-color="#414487"/><stop offset="1.0000" stop-color="#414487"/></linearGradient><linearGradient id="h151"><stop offset="0.0000" stop-color="#fde725"/><stop offset="0.0469" stop-color="#e7e419"/><stop offset="0.0938" stop-color="#d0e11c"/><stop offset="0.1407" stop-color="#b8de29"/><stop offset="0.1876" stop-color="#a0da39"/><stop offset="0.2345" stop-color="#89d548"/><stop offset="0.2814" stop-color="#73d056"/><stop offset="0.3283" stop-color="#5cc863"/><stop offset="0.3752" stop-color="#46c06f"/><stop offset="0.4221" stop-color="#34b679"/><stop offset="0.4690" stop-color="#25ab82"/><stop offset="0.5159" stop-color="#1f9e89"/><stop offset="0.5628" stop-color="#218e8d"/><stop offset="0.6097" stop-color="#297a8e"/><stop offset="0.6435" stop-color="#306a8e"/><stop offset="0.6566" stop-color="#33638d"/><stop offset="0.6685" stop-color="#365c8d"/><stop offset="0.6835" stop-color="#3b528b"/><stop offset="0.6935" stop-color="#3e4a89"/><stop offset="0.6995" stop-color="#404688"/><stop offset="0.7035" stop-color="#414487"/><stop offset="1.0000" stop-color="#414487"/></linearGradient><linearGradient id="h152"><stop offset="0.0000" stop-color="#fde725"/><stop offset="0.0526" stop-color="#e7e419"/><stop offset="0.1051" stop-color="#d0e11c"/><stop offset="0.1577" stop-color="#b8de29"/><stop offset="0.2103" stop-color="#a0da39"/><stop offset="0.2628" stop-color="#89d548"/><stop offset="0.3154" stop-color="#73d056"/><stop offset="0.3680" stop-color="#5cc863"/><stop offset="0.4205" stop-color="#46c06f"/><stop offset="0.4731" stop-color="#34b679"/><stop offset="0.5257" stop-color="#25ab82"/><stop offset="0.5782" stop-color="#1f9e89"/><stop offset="0.6308" stop-color="#228d8d"/><stop offset="0.6834" stop-color="#297a8e"/><stop offset="0.7285" stop-color="#31678e"/><stop offset="0.7359" stop-color="#33638d"/><stop offset="0.7535" stop-color="#375a8c"/><stop offset="0.7685" stop-color="#3c508b"/><stop offset="0.7785" stop-color="#3e4a89"/><stop offset="0.7845" stop-color="#404688"/><stop offset="0.7885" stop-color="#440154"/><stop offset="1.0000" stop-color="#414487"/></linearGradient><linearGradient id="h153"><stop offset="0.0000" stop-color="#fde725"/><stop offset="0.0655" stop-color="#e7e419"/><stop offset="0.1310" stop-color="#d0e11c"/><stop offset="0.1965" stop-color="#b8de29"/><stop offset="0.2620" stop-color="#a0da39"/><stop offset="0.3275" stop-color="#89d548"/><stop offset="0.3930" stop-color="#73d056"/><stop offset="0.4585" stop-color="#5cc863"/><stop offset="0.5240" stop-color="#46c06f"/><stop offset="0.5895" stop-color="#34b679"/><stop offset="0.6550" stop-color="#25ab82"/><stop offset="0.7205" stop-color="#1f9e89"/><stop offset="0.7860" stop-color="#228d8d"/><stop offset="0.8515" stop-color="#297a8e"/><stop offset="0.9170" stop-color="#33638d"/><stop offset="0.9225" stop-color="#34618d"/><stop offset="0.9475" stop-color="#39558c"/><stop offset="0.9625" stop-color="#3d4e8a"/><stop offset="0.9725" stop-color="#3f4889"/><stop offset="0.9785" stop-color="#404588"/><stop offset="0.9825" stop-color="#440154"/><stop offset="1.0000" stop-color="#414487"/></linearGradient><linearGradient id="h154"><stop offset="0.0000" stop-color="#fde725"/><stop offset="0.0667" stop-color="#eae51a"/><stop offset="0.1333" stop-color="#d2e21b"/><stop offset="0.2000" stop-color="#bade28"/><stop offset="0.2667" stop-color="#a2da37"/><stop offset="0.3333" stop-color="#8bd646"/><stop offset="0.4000" stop-color="#75d054"/><stop offset="0.4667" stop-color="#5ec962"/><stop offset="0.5333" stop-color="#4ac16d"/><stop offset="0.6000" stop-color="#37b878"/><stop offset="0.6667" stop-color="#26ad81"/><stop offset="0.7333" stop-color="#1fa088"/><stop offset="0.8000" stop-color="#21918c"/><stop offset="0.8667" stop-color="#277f8e"/><stop offset="0.9333" stop-color="#30698e"/><stop offset="1.0000" stop-color="#3e4c8a"/></linearGradient><linearGradient id="h155"><stop offset="0.0000" stop-color="#fde725"/><stop offset="0.0667" stop-color="#eae51a"/><stop offset="0.1333" stop-color="#d2e21b"/><stop offset="0.2000" stop-color="#bade28"/><stop offset="0.2667" stop-color="#a5db36"/><stop offset="0.3333" stop-color="#8ed645"/><stop offset="0.4000" stop-color="#77d153"/><stop offset="0.4667" stop-color="#60ca60"/><stop offset="0.5333" stop-color="#4cc26c"/><stop offset="0.6000" stop-color="#3aba76"/><stop offset="0.6667" stop-color="#29af7f"/><stop offset="0.7333" stop-color="#1fa287"/><stop offset="0.8000" stop-color="#1f948c"/><stop offset="0.8667" stop-color="#25838e"/><stop offset="0.9333" stop-color="#2e6f8e"/><stop offset="1.0000" stop-color="#3a548c"/></linearGradient><linearGradient id="h156"><stop offset="0.0000" stop-color="#fde725"/><stop offset="0.0667" stop-color="#eae51a"/><stop offset="0.1333" stop-color="#d2e21b"/><stop offset="0.2000" stop-color="#bddf26"/><stop offset="0.2667" stop-color="#a5db36"/><stop offset="0.3333" stop-color="#8ed645"/><stop offset="0.4000" stop-color="#7ad151"/><stop offset="0.4667" stop-color="#63cb5f"/><stop offset="0.5333" stop-color="#50c46a"/><stop offset="0.6000" stop-color="#3bbb75"/><stop offset="0.6667" stop-color="#2cb17e"/><stop offset="0.7333" stop-color="#21a585"/><stop offset="0.8000" stop-color="#1f978b"/><stop offset="0.8667" stop-color="#24878e"/><stop offset="0.9333" stop-color="#2c738e"/><stop offset="1.0000" stop-color="#365c8d"/></linearGradient><linearGradient id="h157"><stop offset="0.0000" stop-color="#fde725"/><stop offset="0.0667" stop-color="#eae51a"/><stop offset="0.1333" stop-color="#d5e21a"/><stop offset="0.2000" stop-color="#bddf26"/><stop offset="0.2667" stop-color="#a8db34"/><stop offset="0.3333" stop-color="#90d743"/><stop offset="0.4000" stop-color="#7ad151"/><stop offset="0.4667" stop-color="#65cb5e"/><stop offset="0.5333" stop-color="#52c569"/><stop offset="0.6000" stop-color="#3dbc74"/><stop offset="0.6667" stop-color="#2db27d"/><stop offset="0.7333" stop-color="#22a785"/><stop offset="0.8000" stop-color="#1f998a"/><stop offset="0.8667" stop-color="#23898e"/><stop offset="0.9333" stop-color="#2a778e"/><stop offset="1.0000" stop-color="#34608d"/></linearGradient><linearGradient id="h158"><stop offset="0.0000" stop-color="#fde725"/><stop offset="0.0667" stop-color="#eae51a"/><stop offset="0.1333" stop-color="#d5e21a"/><stop offset="0.2000" stop-color="#bddf26"/><stop offset="0.2667" stop-color="#a8db34"/><stop offset="0.3333" stop-color="#90d743"/><stop offset="0.4000" stop-color="#7cd250"/><stop offset="0.4667" stop-color="#67cc5c"/><stop offset="0.5333" stop-color="#52c569"/><stop offset="0.6000" stop-color="#3fbc73"/><stop offset="0.6667" stop-color="#2eb37c"/><stop offset="0.7333" stop-color="#22a785"/><stop offset="0.8000" stop-color="#1f9a8a"/><stop offset="0.8667" stop-color="#228b8d"/><stop offset="0.9333" stop-color="#29798e"/><stop offset="1.0000" stop-color="#33638d"/></linearGradient><linearGradient id="h159"><stop offset="0.0000" stop-color="#fde725"/><stop offset="0.0667" stop-color="#eae51a"/><stop offset="0.1333" stop-color="#d5e21a"/><stop offset="0.2000" stop-color="#bddf26"/><stop offset="0.2667" stop-color="#a8db34"/><stop offset="0.3333" stop-color="#93d741"/><stop offset="0.4000" stop-color="#7cd250"/><stop offset="0.4667" stop-color="#67cc5c"/><stop offset="0.5333" stop-color="#54c568"/><stop offset="0.6000" stop-color="#40bd72"/><stop offset="0.6667" stop-color="#2fb47c"/><stop offset="0.7333" stop-color="#22a884"/><stop offset="0.8000" stop-color="#1e9b8a"/><stop offset="0.8667" stop-color="#228c8d"/><stop offset="0.9333" stop-color="#297b8e"/><stop offset="1.0000" stop-color="#32658e"/></linearGradient><linearGradient id="h160"><stop offset="0.0000" stop-color="#fde725"/><stop offset="0.0667" stop-color="#eae51a"/><stop offset="0.1333" stop-color="#d5e21a"/><stop offset="0.2000" stop-color="#c0df25"/><stop offset="0.2667" stop-color="#a8db34"/><stop offset="0.3333" stop-color="#93d741"/><stop offset="0.4000" stop-color="#7cd250"/><stop offset="0.4667" stop-color="#67cc5c"/><stop offset="0.5333" stop-color="#54c568"/><stop offset="0.6000" stop-color="#40bd72"/><stop offset="0.6667" stop-color="#2fb47c"/><stop offset="0.7333" stop-color="#23a983"/><stop offset="0.8000" stop-color="#1e9d89"/><stop offset="0.8667" stop-color="#218e8d"/><stop offset="0.9333" stop-color="#287c8e"/><stop offset="1.0000" stop-color="#31688e"/></linearGradient><linearGradient id="h161"><stop offset="0.0000" stop-color="#fde725"/><stop offset="0.0667" stop-color="#eae51a"/><stop offset="0.1333" stop-color="#d5e21a"/><stop offset="0.2000" stop-color="#bddf26"/><stop offset="0.2667" stop-color="#a8db34"/><stop offset="0.3333" stop-color="#93d741"/><stop offset="0.4000" stop-color="#7cd250"/><stop offset="0.4667" stop-color="#67cc5c"/><stop offset="0.5333" stop-color="#54c568"/><stop offset="0.6000" stop-color="#40bd72"/><stop offset="0.6667" stop-color="#2fb47c"/><stop offset="0.7333" stop-color="#23a983"/><stop offset="0.8000" stop-color="#1e9c89"/><stop offset="0.8667" stop-color="#228d8d"/><stop offset="0.9333" stop-color="#287c8e"/><stop offset="1.0000" stop-color="#31678e"/></linearGradient><linearGradient id="h162"><stop offset="0.0000" stop-color="#fde725"/><stop offset="0.0667" stop-color="#eae51a"/><stop offset="0.1333" stop-color="#d5e21a"/><stop offset="0.2000" stop-color="#bddf26"/><stop offset="0.2667" stop-color="#a8db34"/><stop offset="0.3333" stop-color="#90d743"/><stop offset="0.4000" stop-color="#7cd250"/><stop offset="0.4667" stop-color="#67cc5c"/><stop offset="0.5333" stop-color="#52c569"/><stop offset="0.6000" stop-color="#3fbc73"/><stop offset="0.6667" stop-color="#2eb37c"/><stop offset="0.7333" stop-color="#22a884"/><stop offset="0.8000" stop-color="#1e9b8a"/><stop offset="0.8667" stop-color="#228c8d"/><stop offset="0.9333" stop-color="#29798e"/><stop offset="1.0000" stop-color="#32648e"/></linearGradient><linearGradient id="h163"><stop offset="0.0000" stop-color="#fde725"/><stop offset="0.0667" stop-color="#eae51a"/><stop offset="0.1333" stop-color="#d5e21a"/><stop offset="0.2000" stop-color="#bddf26"/><stop offset="0.2667" stop-color="#a8db34"/><stop offset="0.3333" stop-color="#90d743"/><stop offset="0.4000" stop-color="#7ad151"/><stop offset="0.4667" stop-color="#65cb5e"/><stop offset="0.5333" stop-color="#52c569"/><stop offset="0.6000" stop-color="#3dbc74"/><stop offset="0.6667" stop-color="#2db27d"/><stop offset="0.7333" stop-color="#22a785"/><stop offset="0.8000" stop-color="#1f998a"/><stop offset="0.8667" stop-color="#238a8d"/><stop offset="0.9333" stop-color="#2a778e"/><stop offset="1.0000" stop-color="#34618d"/></linearGradient><linearGradient id="h164"><stop offset="0.0000" stop-color="#fde725"/><stop offset="0.0667" stop-color="#eae51a"/><stop offset="0.1333" stop-color="#d2e21b"/><stop offset="0.2000" stop-color="#bddf26"/><stop offset="0.2667" stop-color="#a5db36"/><stop offset="0.3333" stop-color="#90d743"/><stop offset="0.4000" stop-color="#7ad151"/><stop offset="0.4667" stop-color="#65cb5e"/><stop offset="0.5333" stop-color="#50c46a"/><stop offset="0.6000" stop-color="#3dbc74"/><stop offset="0.6667" stop-color="#2cb17e"/><stop offset="0.7333" stop-color="#21a585"/><stop offset="0.8000" stop-color="#1f988b"/><stop offset="0.8667" stop-color="#23888e"/><stop offset="0.9333" stop-color="#2b748e"/><stop offset="1.0000" stop-color="#365d8d"/></linearGradient><linearGradient id="h165"><stop offset="0.0000" stop-color="#fde725"/><stop offset="0.0667" stop-color="#eae51a"/><stop offset="0.1333" stop-color="#d2e21b"/><stop offset="0.2000" stop-color="#bade28"/><stop offset="0.2667" stop-color="#a5db36"/><stop offset="0.3333" stop-color="#8ed645"/><stop offset="0.4000" stop-color="#77d153"/><stop offset="0.4667" stop-color="#60ca60"/><stop offset="0.5333" stop-color="#4ec36b"/><stop offset="0.6000" stop-color="#3aba76"/><stop offset="0.6667" stop-color="#29af7f"/><stop offset="0.7333" stop-color="#20a386"/><stop offset="0.8000" stop-color="#1f948c"/><stop offset="0.8667" stop-color="#25838e"/><stop offset="0.9333" stop-color="#2d708e"/><stop offset="1.0000" stop-color="#39568c"/></linearGradient><linearGradient id="h166"><stop offset="0.0000" stop-color="#fde725"/><stop offset="0.0667" stop-color="#eae51a"/><stop offset="0.1333" stop-color="#d2e21b"/><stop offset="0.2000" stop-color="#bade28"/><stop offset="0.2667" stop-color="#a2da37"/><stop offset="0.3333" stop-color="#8bd646"/><stop offset="0.4000" stop-color="#75d054"/><stop offset="0.4667" stop-color="#5ec962"/><stop offset="0.5333" stop-color="#4ac16d"/><stop offset="0.6000" stop-color="#37b878"/><stop offset="0.6667" stop-color="#27ad81"/><stop offset="0.7333" stop-color="#1fa188"/><stop offset="0.8000" stop-color="#20928c"/><stop offset="0.8667" stop-color="#27808e"/><stop offset="0.9333" stop-color="#2f6b8e"/><stop offset="1.0000" stop-color="#3d4e8a"/></linearGradient><linearGradient id="h167"><stop offset="0.0000" stop-color="#fde725"/><stop offset="0.0667" stop-color="#eae51a"/><stop offset="0.1333" stop-color="#d2e21b"/><stop offset="0.2000" stop-color="#bade28"/><stop offset="0.2667" stop-color="#a0da39"/><stop offset="0.3333" stop-color="#89d548"/><stop offset="0.4000" stop-color="#73d056"/><stop offset="0.4667" stop-color="#5cc863"/><stop offset="0.5333" stop-color="#48c16e"/><stop offset="0.6000" stop-color="#34b679"/><stop offset="0.6667" stop-color="#25ac82"/><stop offset="0.7333" stop-color="#1f9e89"/><stop offset="0.8000" stop-color="#218e8d"/><stop offset="0.8667" stop-color="#297b8e"/><stop offset="0.9333" stop-color="#32648e"/><stop offset="1.0000" stop-color="#404688"/></linearGradient><linearGradient id="h168"><stop offset="0.0000" stop-color="#fde725"/><stop offset="0.0644" stop-color="#e7e419"/><stop offset="0.1289" stop-color="#d0e11c"/><stop offset="0.1933" stop-color="#b8de29"/><stop offset="0.2577" stop-color="#a0da39"/><stop offset="0.3222" stop-color="#89d548"/><stop offset="0.3866" stop-color="#73d056"/><stop offset="0.4510" stop-color="#5cc863"/><stop offset="0.5155" stop-color="#46c06f"/><stop offset="0.5799" stop-color="#34b679"/><stop offset="0.6443" stop-color="#25ab82"/><stop offset="0.7088" stop-color="#1f9e89"/><stop offset="0.7732" stop-color="#218e8d"/><stop offset="0.8376" stop-color="#297a8e"/><stop offset="0.9021" stop-color="#33638d"/><stop offset="0.9065" stop-color="#34618d"/><stop offset="0.9315" stop-color="#39558c"/><stop offset="0.9465" stop-color="#3d4e8a"/><stop offset="0.9565" stop-color="#3e4989"/><stop offset="0.9625" stop-color="#404688"/><stop offset="0.9665" stop-color="#440154"/><stop offset="1.0000" stop-color="#414487"/></linearGradient><linearGradient id="h169"><stop offset="0.0000" stop-color="#fde725"/><stop offset="0.0616" stop-color="#e7e419"/><stop offset="0.1231" stop-color="#d0e11c"/><stop offset="0.1847" stop-color="#b8de29"/><stop offset="0.2463" stop-color="#a0da39"/><stop offset="0.3078" stop-color="#89d548"/><stop offset="0.3694" stop-color="#73d056"/><stop offset="0.4310" stop-color="#5cc863"/><stop offset="0.4925" stop-color="#46c06f"/><stop offset="0.5541" stop-color="#34b679"/><stop offset="0.6157" stop-color="#25ab82"/><stop offset="0.6772" stop-color="#1f9e89"/><stop offset="0.7388" stop-color="#228d8d"/><stop offset="0.8004" stop-color="#297a8e"/><stop offset="0.8619" stop-color="#33638d"/><stop offset="0.8635" stop-color="#33628d"/><stop offset="0.8885" stop-color="#39568c"/><stop offset="0.9035" stop-color="#3c4f8a"/><stop offset="0.9135" stop-color="#3e4989"/><stop offset="0.9195" stop-color="#404688"/><stop offset="0.9235" stop-color="#440154"/><stop offset="1.0000" stop-color="#414487"/></linearGradient><linearGradient id="h170"><stop offset="0.0000" stop-color="#fde725"/><stop offset="0.0592" stop-color="#e7e419"/><stop offset="0.1184" stop-color="#d0e11c"/><stop offset="0.1776" stop-color="#b8de29"/><stop offset="0.2368" stop-color="#a0da39"/><stop offset="0.2960" stop-color="#89d548"/><stop offset="0.3552" stop-color="#73d056"/><stop offset="0.4144" stop-color="#5cc863"/><stop offset="0.4736" stop-color="#46c06f"/><stop offset="0.5328" stop-color="#34b679"/><stop offset="0.5920" stop-color="#25ab82"/><stop offset="0.6512" stop-color="#1f9e89"/><stop offset="0.7104" stop-color="#218e8d"/><stop offset="0.7696" stop-color="#297a8e"/><stop offset="0.8280" stop-color="#33638d"/><stop offset="0.8288" stop-color="#33638d"/><stop offset="0.8530" stop-color="#38588c"/><stop offset="0.8680" stop-color="#3c4f8a"/><stop offset="0.8780" stop-color="#3e4989"/><stop offset="0.8840" stop-color="#404688"/><stop offset="0.8880" stop-color="#414487"/><stop offset="1.0000" stop-color="#414487"/></linearGradient><linearGradient id="h171"><stop offset="0.0000" stop-color="#fde725"/><stop offset="0.0572" stop-color="#e7e419"/><stop offset="0.1145" stop-color="#d0e11c"/><stop offset="0.1717" stop-color="#b8de29"/><stop offset="0.2289" stop-color="#a0da39"/><stop offset="0.2862" stop-color="#89d548"/><stop offset="0.3434" stop-color="#73d056"/><stop offset="0.4006" stop-color="#5cc863"/><stop offset="0.4579" stop-color="#46c06f"/><stop offset="0.5151" stop-color="#34b679"/><stop offset="0.5723" stop-color="#25ab82"/><stop offset="0.6296" stop-color="#1f9e89"/><stop offset="0.6868" stop-color="#218e8d"/><stop offset="0.7440" stop-color="#297a8e"/><stop offset="0.7985" stop-color="#32648e"/><stop offset="0.8013" stop-color="#33638d"/><stop offset="0.8235" stop-color="#38588c"/><stop offset="0.8385" stop-color="#3c508b"/><stop offset="0.8485" stop-color="#3e4989"/><stop offset="0.8545" stop-color="#404688"/><stop offset="0.8585" stop-color="#414487"/><stop offset="1.0000" stop-color="#414487"/></linearGradient><linearGradient id="h172"><stop offset="0.0000" stop-color="#fde725"/><stop offset="0.0553" stop-color="#e7e419"/><stop offset="0.1106" stop-color="#d0e11c"/><stop offset="0.1659" stop-color="#b8de29"/><stop offset="0.2212" stop-color="#a0da39"/><stop offset="0.2765" stop-color="#89d548"/><stop offset="0.3318" stop-color="#73d056"/><stop offset="0.3871" stop-color="#5cc863"/><stop offset="0.4424" stop-color="#46c06f"/><stop offset="0.4977" stop-color="#34b679"/><stop offset="0.5530" stop-color="#25ab82"/><stop offset="0.6083" stop-color="#1f9e89"/><stop offset="0.6636" stop-color="#228d8d"/><stop offset="0.7189" stop-color="#297a8e"/><stop offset="0.7695" stop-color="#32658e"/><stop offset="0.7742" stop-color="#33638d"/><stop offset="0.7945" stop-color="#38598c"/><stop offset="0.8095" stop-color="#3c508b"/><stop offset="0.8195" stop-color="#3e4989"/><stop offset="0.8255" stop-color="#404688"/><stop offset="0.8295" stop-color="#440154"/><stop offset="1.0000" stop-color="#414487"/></linearGradient><linearGradient id="h173"><stop offset="0.0000" stop-color="#fde725"/><stop offset="0.0533" stop-color="#e7e419"/><stop offset="0.1067" stop-color="#d0e11c"/><stop offset="0.1600" stop-color="#b8de29"/><stop offset="0.2133" stop-color="#a0da39"/><stop offset="0.2667" stop-color="#89d548"/><stop offset="0.3200" stop-color="#73d056"/><stop offset="0.3733" stop-color="#5cc863"/><stop offset="0.4267" stop-color="#46c06f"/><stop offset="0.4800" stop-color="#34b679"/><stop offset="0.5333" stop-color="#25ab82"/><stop offset="0.5867" stop-color="#1f9e89"/><stop offset="0.6400" stop-color="#228d8d"/><stop offset="0.6933" stop-color="#297a8e"/><stop offset="0.7400" stop-color="#31668e"/><stop offset="0.7467" stop-color="#33638d"/><stop offset="0.7650" stop-color="#38598c"/><stop offset="0.7800" stop-color="#3c508b"/><stop offset="0.7900" stop-color="#3e4989"/><stop offset="0.7960" stop-color="#404688"/><stop offset="0.8000" stop-color="#440154"/><stop offset="1.0000" stop-color="#414487"/></linearGradient><linearGradient id="h174"><stop offset="0.0000" stop-color="#fde725"/><stop offset="0.0515" stop-color="#e7e419"/><stop offset="0.1030" stop-color="#d0e11c"/><stop offset="0.1545" stop-color="#b8de29"/><stop offset="0.2060" stop-color="#a0da39"/><stop offset="0.2575" stop-color="#89d548"/><stop offset="0.3090" stop-color="#73d056"/><stop offset="0.3605" stop-color="#5cc863"/><stop offset="0.4120" stop-color="#46c06f"/><stop offset="0.4635" stop-color="#34b679"/><stop offset="0.5150" stop-color="#25ab82"/><stop offset="0.5665" stop-color="#1f9e89"/><stop offset="0.6180" stop-color="#218e8d"/><stop offset="0.6695" stop-color="#297a8e"/><stop offset="0.7125" stop-color="#31678e"/><stop offset="0.7210" stop-color="#33638d"/><stop offset="0.7375" stop-color="#375a8c"/><stop offset="0.7525" stop-color="#3b518b"/><stop offset="0.7625" stop-color="#3e4a89"/><stop offset="0.7685" stop-color="#404688"/><stop offset="0.7725" stop-color="#414487"/><stop offset="1.0000" stop-color="#414487"/></linearGradient><linearGradient id="h175"><stop offset="0.0000" stop-color="#fde725"/><stop offset="0.0497" stop-color="#e7e419"/><stop offset="0.0995" stop-color="#d0e11c"/><stop offset="0.1492" stop-color="#b8de29"/><stop offset="0.1989" stop-color="#a0da39"/><stop offset="0.2487" stop-color="#89d548"/><stop offset="0.2984" stop-color="#73d056"/><stop offset="0.3481" stop-color="#5cc863"/><stop offset="0.3979" stop-color="#46c06f"/><stop offset="0.4476" stop-color="#34b679"/><stop offset="0.4973" stop-color="#25ab82"/><stop offset="0.5471" stop-color="#1f9e89"/><stop offset="0.5968" stop-color="#228d8d"/><stop offset="0.6465" stop-color="#297a8e"/><stop offset="0.6860" stop-color="#31688e"/><stop offset="0.6963" stop-color="#33638d"/><stop offset="0.7110" stop-color="#375b8d"/><stop offset="0.7260" stop-color="#3b518b"/><stop offset="0.7360" stop-color="#3e4a89"/><stop offset="0.7420" stop-color="#404688"/><stop offset="0.7460" stop-color="#440154"/><stop offset="1.0000" stop-color="#414487"/></linearGradient><linearGradient id="h176"><stop offset="0.0000" stop-color="#fde725"/><stop offset="0.0479" stop-color="#e7e419"/><stop offset="0.0959" stop-color="#d0e11c"/><stop offset="0.1438" stop-color="#b8de29"/><stop offset="0.1917" stop-color="#a0da39"/><stop offset="0.2397" stop-color="#89d548"/><stop offset="0.2876" stop-color="#73d056"/><stop offset="0.3355" stop-color="#5cc863"/><stop offset="0.3835" stop-color="#46c06f"/><stop offset="0.4314" stop-color="#34b679"/><stop offset="0.4793" stop-color="#25ab82"/><stop offset="0.5273" stop-color="#1f9e89"/><stop offset="0.5752" stop-color="#228d8d"/><stop offset="0.6231" stop-color="#297a8e"/><stop offset="0.6590" stop-color="#30698e"/><stop offset="0.6711" stop-color="#33638d"/><stop offset="0.6840" stop-color="#375b8d"/><stop offset="0.6990" stop-color="#3b518b"/><stop offset="0.7090" stop-color="#3e4a89"/><stop offset="0.7150" stop-color="#404688"/><stop offset="0.7190" stop-color="#440154"/><stop offset="1.0000" stop-color="#414487"/></linearGradient><linearGradient id="h177"><stop offset="0.0000" stop-color="#fde725"/><stop offset="0.0461" stop-color="#e7e419"/><stop offset="0.0923" stop-color="#d0e11c"/><stop offset="0.1384" stop-color="#b8de29"/><stop offset="0.1845" stop-color="#a0da39"/><stop offset="0.2307" stop-color="#89d548"/><stop offset="0.2768" stop-color="#73d056"/><stop offset="0.3229" stop-color="#5cc863"/><stop offset="0.3691" stop-color="#46c06f"/><stop offset="0.4152" stop-color="#34b679"/><stop offset="0.4613" stop-color="#25ab82"/><stop offset="0.5075" stop-color="#1f9e89"/><stop offset="0.5536" stop-color="#228d8d"/><stop offset="0.5997" stop-color="#297a8e"/><stop offset="0.6320" stop-color="#2f6b8e"/><stop offset="0.6459" stop-color="#33638d"/><stop offset="0.6570" stop-color="#365c8d"/><stop offset="0.6720" stop-color="#3b528b"/><stop offset="0.6820" stop-color="#3e4a89"/><stop offset="0.6880" stop-color="#404688"/><stop offset="0.6920" stop-color="#440154"/><stop offset="1.0000" stop-color="#414487"/></linearGradient><linearGradient id="h178"><stop offset="0.0000" stop-color="#fde725"/><stop offset="0.0445" stop-color="#e7e419"/><stop offset="0.0889" stop-color="#d0e11c"/><stop offset="0.1334" stop-color="#b8de29"/><stop offset="0.1779" stop-color="#a0da39"/><stop offset="0.2223" stop-color="#89d548"/><stop offset="0.2668" stop-color="#73d056"/><stop offset="0.3113" stop-color="#5cc863"/><stop offset="0.3557" stop-color="#46c06f"/><stop offset="0.4002" stop-color="#34b679"/><stop offset="0.4447" stop-color="#25ab82"/><stop offset="0.4891" stop-color="#1f9e89"/><stop offset="0.5336" stop-color="#218e8d"/><stop offset="0.5781" stop-color="#297a8e"/><stop offset="0.6070" stop-color="#2f6c8e"/><stop offset="0.6225" stop-color="#33638d"/><stop offset="0.6320" stop-color="#365d8d"/><stop offset="0.6470" stop-color="#3a538b"/><stop offset="0.6570" stop-color="#3e4c8a"/><stop offset="0.6630" stop-color="#3f4788"/><stop offset="0.6670" stop-color="#414487"/><stop offset="1.0000" stop-color="#414487"/></linearGradient><linearGradient id="h179"><stop offset="0.0000" stop-color="#fde725"/><stop offset="0.0430" stop-color="#e7e419"/><stop offset="0.0861" stop-color="#d0e11c"/><stop offset="0.1291" stop-color="#b8de29"/><stop offset="0.1721" stop-color="#a0da39"/><stop offset="0.2152" stop-color="#89d548"/><stop offset="0.2582" stop-color="#73d056"/><stop offset="0.3012" stop-color="#5cc863"/><stop offset="0.3443" stop-color="#46c06f"/><stop offset="0.3873" stop-color="#34b679"/><stop offset="0.4303" stop-color="#25ab82"/><stop offset="0.4734" stop-color="#1f9e89"/><stop offset="0.5164" stop-color="#228d8d"/><stop offset="0.5594" stop-color="#297a8e"/><stop offset="0.5855" stop-color="#2e6d8e"/><stop offset="0.6025" stop-color="#33638d"/><stop offset="0.6105" stop-color="#355e8d"/><stop offset="0.6255" stop-color="#3a538b"/><stop offset="0.6355" stop-color="#3e4c8a"/><stop offset="0.6415" stop-color="#404688"/><stop offset="0.6455" stop-color="#440154"/><stop offset="1.0000" stop-color="#414487"/></linearGradient><linearGradient id="h180"><stop offset="0.0000" stop-color="#fde725"/><stop offset="0.0416" stop-color="#e7e419"/><stop offset="0.0831" stop-color="#d0e11c"/><stop offset="0.1247" stop-color="#b8de29"/><stop offset="0.1663" stop-color="#a0da39"/><stop offset="0.2078" stop-color="#89d548"/><stop offset="0.2494" stop-color="#73d056"/><stop offset="0.2910" stop-color="#5cc863"/><stop offset="0.3325" stop-color="#46c06f"/><stop offset="0.3741" stop-color="#34b679"/><stop offset="0.4157" stop-color="#25ab82"/><stop offset="0.4572" stop-color="#1f9e89"/><stop offset="0.4988" stop-color="#228d8d"/><stop offset="0.5404" stop-color="#297a8e"/><stop offset="0.5635" stop-color="#2e6e8e"/><stop offset="0.5819" stop-color="#33638d"/><stop offset="0.5885" stop-color="#355f8d"/><stop offset="0.6035" stop-color="#3a538b"/><stop offset="0.6135" stop-color="#3e4c8a"/><stop offset="0.6195" stop-color="#3f4788"/><stop offset="0.6235" stop-color="#440154"/><stop offset="1.0000" stop-color="#414487"/></linearGradient><linearGradient id="h181"><stop offset="0.0000" stop-color="#fde725"/><stop offset="0.0401" stop-color="#e7e419"/><stop offset="0.0803" stop-color="#d0e11c"/><stop offset="0.1204" stop-color="#b8de29"/><stop offset="0.1605" stop-color="#a0da39"/><stop offset="0.2007" stop-color="#89d548"/><stop offset="0.2408" stop-color="#73d056"/><stop offset="0.2809" stop-color="#5cc863"/><stop offset="0.3211" stop-color="#46c06f"/><stop offset="0.3612" stop-color="#34b679"/><stop offset="0.4013" stop-color="#25ab82"/><stop offset="0.4415" stop-color="#1e9d89"/><stop offset="0.4816" stop-color="#228d8d"/><stop offset="0.5217" stop-color="#297a8e"/><stop offset="0.5420" stop-color="#2e6f8e"/><stop offset="0.5619" stop-color="#33638d"/><stop offset="0.5670" stop-color="#355f8d"/><stop offset="0.5820" stop-color="#3a548c"/><stop offset="0.5920" stop-color="#3e4c8a"/><stop offset="0.5980" stop-color="#3f4788"/><stop offset="0.6020" stop-color="#440154"/><stop offset="1.0000" stop-color="#414487"/></linearGradient><linearGradient id="h182"><stop offset="0.0000" stop-color="#fde725"/><stop offset="0.0387" stop-color="#e7e419"/><stop offset="0.0773" stop-color="#d0e11c"/><stop offset="0.1160" stop-color="#b8de29"/><stop offset="0.1547" stop-color="#a0da39"/><stop offset="0.1933" stop-color="#89d548"/><stop offset="0.2320" stop-color="#73d056"/><stop offset="0.2707" stop-color="#5cc863"/><stop offset="0.3093" stop-color="#46c06f"/><stop offset="0.3480" stop-color="#34b679"/><stop offset="0.3867" stop-color="#25ab82"/><stop offset="0.4253" stop-color="#1f9e89"/><stop offset="0.4640" stop-color="#228d8d"/><stop offset="0.5027" stop-color="#297a8e"/><stop offset="0.5200" stop-color="#2d718e"/><stop offset="0.5413" stop-color="#33638d"/><stop offset="0.5450" stop-color="#34608d"/><stop offset="0.5600" stop-color="#3a548c"/><stop offset="0.5700" stop-color="#3d4d8a"/><stop offset="0.5760" stop-color="#3f4788"/><stop offset="0.5800" stop-color="#440154"/><stop offset="1.0000" stop-color="#414487"/></linearGradient><linearGradient id="h183"><stop offset="0.0000" stop-color="#fde725"/><stop offset="0.0376" stop-color="#e7e419"/><stop offset="0.0753" stop-color="#d0e11c"/><stop offset="0.1129" stop-color="#b8de29"/><stop offset="0.1505" stop-color="#a0da39"/><stop offset="0.1882" stop-color="#89d548"/><stop offset="0.2258" stop-color="#73d056"/><stop offset="0.2634" stop-color="#5cc863"/><stop offset="0.3011" stop-color="#46c06f"/><stop offset="0.3387" stop-color="#34b679"/><stop offset="0.3763" stop-color="#25ab82"/><stop offset="0.4140" stop-color="#1e9d89"/><stop offset="0.4516" stop-color="#228d8d"/><stop offset="0.4892" stop-color="#297a8e"/><stop offset="0.5045" stop-color="#2c718e"/><stop offset="0.5269" stop-color="#33638d"/><stop offset="0.5295" stop-color="#34618d"/><stop offset="0.5445" stop-color="#39558c"/><stop offset="0.5545" stop-color="#3d4d8a"/><stop offset="0.5605" stop-color="#3f4788"/><stop offset="0.5645" stop-color="#440154"/><stop offset="1.0000" stop-color="#414487"/></linearGradient><linearGradient id="h184"><stop offset="0.0000" stop-color="#fde725"/><stop offset="0.0366" stop-color="#e7e419"/><stop offset="0.0731" stop-color="#d0e11c"/><stop offset="0.1097" stop-color="#b8de29"/><stop offset="0.1463" stop-color="#a0da39"/><stop offset="0.1828" stop-color="#89d548"/><stop offset="0.2194" stop-color="#73d056"/><stop offset="0.2560" stop-color="#5cc863"/><stop offset="0.2925" stop-color="#46c06f"/><stop offset="0.3291" stop-color="#34b679"/><stop offset="0.3657" stop-color="#25ab82"/><stop offset="0.4022" stop-color="#1f9e89"/><stop offset="0.4388" stop-color="#228d8d"/><stop offset="0.4754" stop-color="#297a8e"/><stop offset="0.4885" stop-color="#2c728e"/><stop offset="0.5119" stop-color="#33638d"/><stop offset="0.5135" stop-color="#33628d"/><stop offset="0.5285" stop-color="#39558c"/><stop offset="0.5385" stop-color="#3d4d8a"/><stop offset="0.5445" stop-color="#3f4788"/><stop offset="0.5485" stop-color="#440154"/><stop offset="1.0000" stop-color="#414487"/></linearGradient><linearGradient id="h185"><stop offset="0.0000" stop-color="#fde725"/><stop offset="0.0355" stop-color="#e7e419"/><stop offset="0.0711" stop-color="#d0e11c"/><stop offset="0.1066" stop-color="#b8de29"/><stop offset="0.1421" stop-color="#a0da39"/><stop offset="0.1777" stop-color="#89d548"/><stop offset="0.2132" stop-color="#73d056"/><stop offset="0.2487" stop-color="#5cc863"/><stop offset="0.2843" stop-color="#46c06f"/><stop offset="0.3198" stop-color="#34b679"/><stop offset="0.3553" stop-color="#25ab82"/><stop offset="0.3909" stop-color="#1e9d89"/><stop offset="0.4264" stop-color="#228d8d"/><stop offset="0.4619" stop-color="#297a8e"/><stop offset="0.4730" stop-color="#2c738e"/><stop offset="0.4975" stop-color="#33638d"/><stop offset="0.4980" stop-color="#33628d"/><stop offset="0.5130" stop-color="#39568c"/><stop offset="0.5230" stop-color="#3d4d8a"/><stop offset="0.5290" stop-color="#3f4788"/><stop offset="0.5330" stop-color="#440154"/><stop offset="1.0000" stop-color="#414487"/></linearGradient><linearGradient id="h186"><stop offset="0.0000" stop-color="#fde725"/><stop offset="0.0345" stop-color="#e7e419"/><stop offset="0.0691" stop-color="#d0e11c"/><stop offset="0.1036" stop-color="#b8de29"/><stop offset="0.1381" stop-color="#a0da39"/><stop offset="0.1727" stop-color="#89d548"/><stop offset="0.2072" stop-color="#73d056"/><stop offset="0.2417" stop-color="#5cc863"/><stop offset="0.2763" stop-color="#46c06f"/><stop offset="0.3108" stop-color="#34b679"/><stop offset="0.3453" stop-color="#25ab82"/><stop offset="0.3799" stop-color="#1f9e89"/><stop offset="0.4144" stop-color="#228d8d"/><stop offset="0.4489" stop-color="#297a8e"/><stop offset="0.4580" stop-color="#2b748e"/><stop offset="0.4830" stop-color="#33638d"/><stop offset="0.4835" stop-color="#33638d"/><stop offset="0.4980" stop-color="#39568c"/><stop offset="0.5080" stop-color="#3d4e8a"/><stop offset="0.5140" stop-color="#3f4788"/><stop offset="0.5180" stop-color="#440154"/><stop offset="1.0000" stop-color="#414487"/></linearGradient><linearGradient id="h187"><stop offset="0.0000" stop-color="#fde725"/><stop offset="0.0338" stop-color="#e7e419"/><stop offset="0.0675" stop-color="#d0e11c"/><stop offset="0.1013" stop-color="#b8de29"/><stop offset="0.1351" stop-color="#a0da39"/><stop offset="0.1688" stop-color="#89d548"/><stop offset="0.2026" stop-color="#73d056"/><stop offset="0.2364" stop-color="#5cc863"/><stop offset="0.2701" stop-color="#46c06f"/><stop offset="0.3039" stop-color="#34b679"/><stop offset="0.3377" stop-color="#25ab82"/><stop offset="0.3714" stop-color="#1e9d89"/><stop offset="0.4052" stop-color="#228d8d"/><stop offset="0.4390" stop-color="#297a8e"/><stop offset="0.4465" stop-color="#2b758e"/><stop offset="0.4715" stop-color="#32648e"/><stop offset="0.4727" stop-color="#33638d"/><stop offset="0.4865" stop-color="#39568c"/><stop offset="0.4965" stop-color="#3d4e8a"/><stop offset="0.5025" stop-color="#3f4788"/><stop offset="0.5065" stop-color="#440154"/><stop offset="1.0000" stop-color="#414487"/></linearGradient><linearGradient id="h188"><stop offset="0.0000" stop-color="#fde725"/><stop offset="0.0330" stop-color="#e7e419"/><stop offset="0.0660" stop-color="#d0e11c"/><stop offset="0.0990" stop-color="#b8de29"/><stop offset="0.1320" stop-color="#a0da39"/><stop offset="0.1650" stop-color="#89d548"/><stop offset="0.1980" stop-color="#73d056"/><stop offset="0.2310" stop-color="#5cc863"/><stop offset="0.2640" stop-color="#46c06f"/><stop offset="0.2970" stop-color="#34b679"/><stop offset="0.3300" stop-color="#25ab82"/><stop offset="0.3630" stop-color="#1e9d89"/><stop offset="0.3960" stop-color="#228d8d"/><stop offset="0.4290" stop-color="#297a8e"/><stop offset="0.4350" stop-color="#2a768e"/><stop offset="0.4600" stop-color="#32648e"/><stop offset="0.4620" stop-color="#33638d"/><stop offset="0.4750" stop-color="#38588c"/><stop offset="0.4850" stop-color="#3d4e8a"/><stop offset="0.4910" stop-color="#3f4788"/><stop offset="0.4950" stop-color="#440154"/><stop offset="1.0000" stop-color="#414487"/></linearGradient><linearGradient id="h189"><stop offset="0.0000" stop-color="#fde725"/><stop offset="0.0322" stop-color="#e7e419"/><stop offset="0.0644" stop-color="#d0e11c"/><stop offset="0.0966" stop-color="#b8de29"/><stop offset="0.1288" stop-color="#a0da39"/><stop offset="0.1610" stop-color="#89d548"/><stop offset="0.1932" stop-color="#73d056"/><stop offset="0.2254" stop-color="#5cc863"/><stop offset="0.2576" stop-color="#46c06f"/><stop offset="0.2898" stop-color="#34b679"/><stop offset="0.3220" stop-color="#25ab82"/><stop offset="0.3542" stop-color="#1f9e89"/><stop offset="0.3864" stop-color="#218e8d"/><stop offset="0.4186" stop-color="#297a8e"/><stop offset="0.4230" stop-color="#2a778e"/><stop offset="0.4480" stop-color="#32658e"/><stop offset="0.4508" stop-color="#33638d"/><stop offset="0.4630" stop-color="#38598c"/><stop offset="0.4730" stop-color="#3d4e8a"/><stop offset="0.4790" stop-color="#3f4889"/><stop offset="0.4830" stop-color="#414487"/><stop offset="1.0000" stop-color="#414487"/></linearGradient><linearGradient id="h190"><stop offset="0.0000" stop-color="#fde725"/><stop offset="0.0314" stop-color="#e7e419"/><stop offset="0.0629" stop-color="#d0e11c"/><stop offset="0.0943" stop-color="#b8de29"/><stop offset="0.1257" stop-color="#a0da39"/><stop offset="0.1572" stop-color="#89d548"/><stop offset="0.1886" stop-color="#73d056"/><stop offset="0.2200" stop-color="#5cc863"/><stop offset="0.2515" stop-color="#46c06f"/><stop offset="0.2829" stop-color="#34b679"/><stop offset="0.3143" stop-color="#25ab82"/><stop offset="0.3458" stop-color="#1f9e89"/><stop offset="0.3772" stop-color="#218e8d"/><stop offset="0.4086" stop-color="#297a8e"/><stop offset="0.4115" stop-color="#2a788e"/><stop offset="0.4365" stop-color="#31668e"/><stop offset="0.4401" stop-color="#33638d"/><stop offset="0.4515" stop-color="#38598c"/><stop offset="0.4615" stop-color="#3c4f8a"/><stop offset="0.4675" stop-color="#3f4889"/><stop offset="0.4715" stop-color="#414487"/><stop offset="1.0000" stop-color="#414487"/></linearGradient><linearGradient id="h191"><stop offset="0.0000" stop-color="#fde725"/><stop offset="0.0307" stop-color="#e7e419"/><stop offset="0.0613" stop-color="#d0e11c"/><stop offset="0.0920" stop-color="#b8de29"/><stop offset="0.1227" stop-color="#a0da39"/><stop offset="0.1533" stop-color="#89d548"/><stop offset="0.1840" stop-color="#73d056"/><stop offset="0.2147" stop-color="#5cc863"/><stop offset="0.2453" stop-color="#46c06f"/><stop offset="0.2760" stop-color="#34b679"/><stop offset="0.3067" stop-color="#25ab82"/><stop offset="0.3373" stop-color="#1f9e89"/><stop offset="0.3680" stop-color="#228d8d"/><stop offset="0.3987" stop-color="#297a8e"/><stop offset="0.4000" stop-color="#29798e"/><stop offset="0.4250" stop-color="#31678e"/><stop offset="0.4293" stop-color="#33638d"/><stop offset="0.4400" stop-color="#38598c"/><stop offset="0.4500" stop-color="#3c4f8a"/><stop offset="0.4560" stop-color="#3f4889"/><stop offset="0.4600" stop-color="#440154"/><stop offset="1.0000" stop-color="#414487"/></linearGradient><linearGradient id="h192"><stop offset="0.0000" stop-color="#fde725"/><stop offset="0.0301" stop-color="#e7e419"/><stop offset="0.0601" stop-color="#d0e11c"/><stop offset="0.0902" stop-color="#b8de29"/><stop offset="0.1203" stop-color="#a0da39"/><stop offset="0.1503" stop-color="#89d548"/><stop offset="0.1804" stop-color="#73d056"/><stop offset="0.2105" stop-color="#5cc863"/><stop offset="0.2405" stop-color="#46c06f"/><stop offset="0.2706" stop-color="#34b679"/><stop offset="0.3007" stop-color="#25ab82"/><stop offset="0.3307" stop-color="#1f9e89"/><stop offset="0.3608" stop-color="#228d8d"/><stop offset="0.3909" stop-color="#297a8e"/><stop offset="0.3910" stop-color="#297a8e"/><stop offset="0.4160" stop-color="#31678e"/><stop offset="0.4209" stop-color="#33638d"/><stop offset="0.4310" stop-color="#375a8c"/><stop offset="0.4410" stop-color="#3c4f8a"/><stop offset="0.4470" stop-color="#3f4889"/><stop offset="0.4510" stop-color="#440154"/><stop offset="1.0000" stop-color="#414487"/></linearGradient><linearGradient id="h193"><stop offset="0.0000" stop-color="#fde725"/><stop offset="0.0295" stop-color="#e7e419"/><stop offset="0.0589" stop-color="#d0e11c"/><stop offset="0.0884" stop-color="#b8de29"/><stop offset="0.1179" stop-color="#a0da39"/><stop offset="0.1473" stop-color="#89d548"/><stop offset="0.1768" stop-color="#73d056"/><stop offset="0.2063" stop-color="#5cc863"/><stop offset="0.2357" stop-color="#46c06f"/><stop offset="0.2652" stop-color="#34b679"/><stop offset="0.2947" stop-color="#25ab82"/><stop offset="0.3241" stop-color="#1e9d89"/><stop offset="0.3536" stop-color="#228d8d"/><stop offset="0.3820" stop-color="#297b8e"/><stop offset="0.3831" stop-color="#297a8e"/><stop offset="0.4070" stop-color="#31688e"/><stop offset="0.4125" stop-color="#33638d"/><stop offset="0.4220" stop-color="#375a8c"/><stop offset="0.4320" stop-color="#3c4f8a"/><stop offset="0.4380" stop-color="#3f4889"/><stop offset="0.4420" stop-color="#440154"/><stop offset="1.0000" stop-color="#414487"/></linearGradient><linearGradient id="h194"><stop offset="0.0000" stop-color="#fde725"/><stop offset="0.0288" stop-color="#e7e419"/><stop offset="0.0577" stop-color="#d0e11c"/><stop offset="0.0865" stop-color="#b8de29"/><stop offset="0.1153" stop-color="#a0da39"/><stop offset="0.1442" stop-color="#89d548"/><stop offset="0.1730" stop-color="#73d056"/><stop offset="0.2018" stop-color="#5cc863"/><stop offset="0.2307" stop-color="#46c06f"/><stop offset="0.2595" stop-color="#34b679"/><stop offset="0.2883" stop-color="#25ab82"/><stop offset="0.3172" stop-color="#1f9e89"/><stop offset="0.3460" stop-color="#218e8d"/><stop offset="0.3725" stop-color="#287c8e"/><stop offset="0.3748" stop-color="#297a8e"/><stop offset="0.3975" stop-color="#30698e"/><stop offset="0.4037" stop-color="#33638d"/><stop offset="0.4125" stop-color="#375b8d"/><stop offset="0.4225" stop-color="#3c4f8a"/><stop offset="0.4285" stop-color="#3f4889"/><stop offset="0.4325" stop-color="#414487"/><stop offset="1.0000" stop-color="#414487"/></linearGradient><linearGradient id="h195"><stop offset="0.0000" stop-color="#fde725"/><stop offset="0.0282" stop-color="#e7e419"/><stop offset="0.0565" stop-color="#d0e11c"/><stop offset="0.0847" stop-color="#b8de29"/><stop offset="0.1129" stop-color="#a0da39"/><stop offset="0.1412" stop-color="#89d548"/><stop offset="0.1694" stop-color="#73d056"/><stop offset="0.1976" stop-color="#5cc863"/><stop offset="0.2259" stop-color="#46c06f"/><stop offset="0.2541" stop-color="#34b679"/><stop offset="0.2823" stop-color="#25ab82"/><stop offset="0.3106" stop-color="#1f9e89"/><stop offset="0.3388" stop-color="#228d8d"/><stop offset="0.3635" stop-color="#287d8e"/><stop offset="0.3670" stop-color="#297a8e"/><stop offset="0.3885" stop-color="#30698e"/><stop offset="0.3953" stop-color="#33638d"/><stop offset="0.4035" stop-color="#375b8d"/><stop offset="0.4135" stop-color="#3c508b"/><stop offset="0.4195" stop-color="#3f4889"/><stop offset="0.4235" stop-color="#440154"/><stop offset="1.0000" stop-color="#414487"/></linearGradient><linearGradient id="h196"><stop offset="0.0000" stop-color="#fde725"/><stop offset="0.0276" stop-color="#e7e419"/><stop offset="0.0553" stop-color="#d0e11c"/><stop offset="0.0829" stop-color="#b8de29"/><stop offset="0.1105" stop-color="#a0da39"/><stop offset="0.1382" stop-color="#89d548"/><stop offset="0.1658" stop-color="#73d056"/><stop offset="0.1934" stop-color="#5cc863"/><stop offset="0.2211" stop-color="#46c06f"/><stop offset="0.2487" stop-color="#34b679"/><stop offset="0.2763" stop-color="#25ab82"/><stop offset="0.3040" stop-color="#1e9d89"/><stop offset="0.3316" stop-color="#228d8d"/><stop offset="0.3545" stop-color="#277e8e"/><stop offset="0.3592" stop-color="#297a8e"/><stop offset="0.3795" stop-color="#306a8e"/><stop offset="0.3869" stop-color="#33638d"/><stop offset="0.3945" stop-color="#375b8d"/><stop offset="0.4045" stop-color="#3c508b"/><stop offset="0.4105" stop-color="#3f4889"/><stop offset="0.4145" stop-color="#440154"/><stop offset="1.0000" stop-color="#414487"/></linearGradient><linearGradient id="h197"><stop offset="0.0000" stop-color="#fde725"/><stop offset="0.0272" stop-color="#e7e419"/><stop offset="0.0543" stop-color="#d0e11c"/><stop offset="0.0815" stop-color="#b8de29"/><stop offset="0.1087" stop-color="#a0da39"/><stop offset="0.1358" stop-color="#89d548"/><stop offset="0.1630" stop-color="#73d056"/><stop offset="0.1902" stop-color="#5cc863"/><stop offset="0.2173" stop-color="#46c06f"/><stop offset="0.2445" stop-color="#34b679"/><stop offset="0.2717" stop-color="#25ab82"/><stop offset="0.2988" stop-color="#1f9e89"/><stop offset="0.3260" stop-color="#228d8d"/><stop offset="0.3475" stop-color="#277f8e"/><stop offset="0.3532" stop-color="#297a8e"/><stop offset="0.3725" stop-color="#306a8e"/><stop offset="0.3803" stop-color="#33638d"/><stop offset="0.3875" stop-color="#365c8d"/><stop offset="0.3975" stop-color="#3c508b"/><stop offset="0.4035" stop-color="#3f4889"/><stop offset="0.4075" stop-color="#440154"/><stop offset="1.0000" stop-color="#414487"/></linearGradient></defs>
<g shape-rendering="crispEdges"><rect x="32.8" y="19.5" width="123.8" height="0.5" fill="url(#h1)"/><rect x="32.8" y="20" width="123.8" height="1" fill="url(#h2)"/><rect x="32.8" y="21" width="123.8" height="1" fill="url(#h3)"/><rect x="32.8" y="22" width="123.8" height="1" fill="url(#h4)"/><rect x="32.8" y="23" width="123.8" height="1" fill="url(#h5)"/><rect x="32.8" y="24" width="123.8" height="1" fill="url(#h6)"/><rect x="32.8" y="25" width="123.8" height="1" fill="url(#h7)"/><rect x="32.8" y="26" width="123.8" height="1" fill="url(#h8)"/><rect x="32.8" y="27" width="123.8" height="1" fill="url(#h9)"/><rect x="32.8" y="28" width="123.8" height="1" fill="url(#h10)"/><rect x="32.8" y="29" width="123.8" height="1" fill="url(#h11)"/><rect x="32.8" y="30" width="123.8" height="1" fill="url(#h12)"/><rect x="32.8" y="31" width="123.8" height="1" fill="url(#h13)"/><rect x="32.8" y="32" width="123.8" height="1" fill="url(#h14)"/><rect x="32.8" y="33" width="123.8" height="1" fill="url(#h15)"/><rect x="32.8" y="34" width="123.8" height="1" fill="url(#h16)"/><rect x="32.8" y="35" width="123.8" height="1" fill="url(#h17)"/><rect x="32.8" y="36" width="123.8" height="1" fill="url(#h18)"/><rect x="32.8" y="37" width="123.8" height="1" fill="url(#h19)"/><rect x="32.8" y="38" width="123.8" height="1" fill="url(#h20)"/><rect x="32.8" y="39" width="123.8" height="1" fill="url(#h21)"/><rect x="32.8" y="40" width="123.8" height="1" fill="url(#h22)"/><rect x="32.8" y="41" width="123.8" height="1" fill="url(#h23)"/><rect x="32.8" y="42" width="123.8" height="1" fill="url(#h24)"/><rect x="32.8" y="43" width="123.8" height="1" fill="url(#h25)"/><rect x="32.8" y="44" width="123.8" height="1" fill="url(#h26)"/><rect x="32.8" y="45" width="123.8" height="1" fill="url(#h27)"/><rect x="32.8" y="46" width="123.8" height="1" fill="url(#h28)"/><rect x="32.8" y="47" width="123.8" height="1" fill="url(#h29)"/><rect x="32.8" y="48" width="123.8" height="1" fill="url(#h30)"/><rect x="32.8" y="49" width="123.8" height="1" fill="url(#h31)"/><rect x="32.8" y="50" width="123.8" height="1" fill="url(#h32)"/><rect x="32.8" y="51" width="123.8" height="1" fill="url(#h33)"/><rect x="32.8" y="52" width="123.8" height="1" fill="url(#h34)"/><rect x="32.8" y="53" width="123.8" height="1" fill="url(#h35)"/><rect x="32.8" y="54" width="123.8" height="1" fill="url(#h36)"/><rect x="32.8" y="55" width="123.8" height="1" fill="url(#h37)"/><rect x="32.8" y="56" width="123.8" height="1" fill="url(#h38)"/><rect x="32.8" y="57" width="123.8" height="1" fill="url(#h39)"/><rect x="32.8" y="58" width="123.8" height="1" fill="url(#h40)"/><rect x="32.8" y="59" width="123.8" height="1" fill="url(#h41)"/><rect x="32.8" y="60" width="123.8" height="1" fill="url(#h42)"/><rect x="32.8" y="61" width="123.8" height="1" fill="url(#h43)"/><rect x="32.8" y="62" width="123.8" height="1" fill="url(#h44)"/><rect x="32.8" y="63" width="123.8" height="1" fill="url(#h45)"/><rect x="32.8" y="64" width="123.8" height="1" fill="url(#h46)"/><rect x="32.8" y="65" width="123.8" height="1" fill="url(#h47)"/><rect x="32.8" y="66" width="123.8" height="1" fill="url(#h48)"/><rect x="32.8" y="67" width="123.8" height="0.5" fill="url(#h49)"/><rect x="32.8" y="71.8" width="123.8" height="0.2" fill="url(#h50)"/><rect x="32.8" y="72" width="123.8" height="1" fill="url(#h51)"/><rect x="32.8" y="73" width="123.8" height="1" fill="url(#h52)"/><rect x="32.8" y="74" width="123.8" height="1" fill="url(#h53)"/><rect x="32.8" y="75" width="123.8" height="1" fill="url(#h54)"/><rect x="32.8" y="76" width="123.8" height="1" fill="url(#h55)"/><rect x="32.8" y="77" width="123.8" height="1" fill="url(#h56)"/><rect x="32.8" y="78" width="123.8" height="1" fill="url(#h57)"/><rect x="32.8" y="79" width="123.8" height="1" fill="url(#h58)"/><rect x="32.8" y="80" width="123.8" height="1" fill="url(#h59)"/><rect x="32.8" y="81" width="123.8" height="1" fill="url(#h60)"/><rect x="32.8" y="82" width="123.8" height="1" fill="url(#h61)"/><rect x="32.8" y="83" width="123.8" height="1" fill="url(#h62)"/><rect x="32.8" y="84" width="123.8" height="1" fill="url(#h63)"/><rect x="32.8" y="85" width="123.8" height="1" fill="url(#h64)"/><rect x="32.8" y="86" width="123.8" height="1" fill="url(#h65)"/><rect x="32.8" y="87" width="123.8" height="1" fill="url(#h66)"/><rect x="32.8" y="88" width="123.8" height="1" fill="url(#h67)"/><rect x="32.8" y="89" width="123.8" height="1" fill="url(#h68)"/><rect x="32.8" y="90" width="123.8" height="1" fill="url(#h69)"/><rect x="32.8" y="91" width="123.8" height="1" fill="url(#h70)"/><rect x="32.8" y="92" width="123.8" height="1" fill="url(#h71)"/><rect x="32.8" y="93" width="123.8" height="1" fill="url(#h72)"/><rect x="32.8" y="94" width="123.8" height="1" fill="url(#h73)"/><rect x="32.8" y="95" width="123.8" height="1" fill="url(#h74)"/><rect x="32.8" y="96" width="123.8" height="1" fill="url(#h75)"/><rect x="32.8" y="97" width="123.8" height="1" fill="url(#h76)"/><rect x="32.8" y="98" width="123.8" height="1" fill="url(#h77)"/><rect x="32.8" y="99" width="123.8" height="1" fill="url(#h78)"/><rect x="32.8" y="100" width="123.8" height="1" fill="url(#h79)"/><rect x="32.8" y="101" width="123.8" height="1" fill="url(#h80)"/><rect x="32.8" y="102" width="123.8" height="1" fill="url(#h81)"/><rect x="32.8" y="103" width="123.8" height="1" fill="url(#h82)"/><rect x="32.8" y="104" width="123.8" height="1" fill="url(#h83)"/><rect x="32.8" y="105" width="123.8" height="1" fill="url(#h84)"/><rect x="32.8" y="106" width="123.8" height="1" fill="url(#h85)"/><rect x="32.8" y="107" width="123.8" height="1" fill="url(#h86)"/><rect x="32.8" y="108" width="123.8" height="1" fill="url(#h87)"/><rect x="32.8" y="109" width="123.8" height="1" fill="url(#h88)"/><rect x="32.8" y="110" width="123.8" height="1" fill="url(#h89)"/><rect x="32.8" y="111" width="123.8" height="1" fill="url(#h90)"/><rect x="32.8" y="112" width="123.8" height="1" fill="url(#h91)"/><rect x="32.8" y="113" width="123.8" height="1" fill="url(#h92)"/><rect x="32.8" y="114" width="123.8" height="1" fill="url(#h93)"/><rect x="32.8" y="115" width="123.8" height="1" fill="url(#h94)"/><rect x="32.8" y="116" width="123.8" height="1" fill="url(#h95)"/><rect x="32.8" y="117" width="123.8" height="1" fill="url(#h96)"/><rect x="32.8" y="118" width="123.8" height="1" fill="url(#h97)"/><rect x="32.8" y="119" width="123.8" height="1" fill="url(#h98)"/><rect x="32.8" y="140.4" width="123.8" height="0.6" fill="url(#h99)"/><rect x="32.8" y="141" width="123.8" height="1" fill="url(#h100)"/><rect x="32.8" y="142" width="123.8" height="1" fill="url(#h101)"/><rect x="32.8" y="143" width="123.8" height="1" fill="url(#h102)"/><rect x="32.8" y="144" width="123.8" height="1" fill="url(#h103)"/><rect x="32.8" y="145" width="123.8" height="1" fill="url(#h104)"/><rect x="32.8" y="146" width="123.8" height="1" fill="url(#h105)"/><rect x="32.8" y="147" width="123.8" height="1" fill="url(#h106)"/><rect x="32.8" y="148" width="123.8" height="1" fill="url(#h107)"/><rect x="32.8" y="149" width="123.8" height="1" fill="url(#h108)"/><rect x="32.8" y="150" width="123.8" height="1" fill="url(#h109)"/><rect x="32.8" y="151" width="123.8" height="1" fill="url(#h110)"/><rect x="32.8" y="152" width="123.8" height="1" fill="url(#h111)"/><rect x="32.8" y="153" width="123.8" height="1" fill="url(#h112)"/><rect x="32.8" y="154" width="123.8" height="1" fill="url(#h113)"/><rect x="32.8" y="155" width="123.8" height="1" fill="url(#h114)"/><rect x="32.8" y="156" width="123.8" height="1" fill="url(#h115)"/><rect x="32.8" y="157" width="123.8" height="1" fill="url(#h116)"/><rect x="32.8" y="158" width="123.8" height="1" fill="url(#h117)"/><rect x="32.8" y="159" width="123.8" height="1" fill="url(#h118)"/><rect x="32.8" y="160" width="123.8" height="1" fill="url(#h119)"/><rect x="32.8" y="161" width="123.8" height="1" fill="url(#h120)"/><rect x="32.8" y="162" width="123.8" height="1" fill="url(#h121)"/><rect x="32.8" y="163" width="123.8" height="1" fill="url(#h122)"/><rect x="32.8" y="164" width="123.8" height="1" fill="url(#h123)"/><rect x="32.8" y="165" width="123.8" height="1" fill="url(#h124)"/><rect x="32.8" y="166" width="123.8" height="1" fill="url(#h125)"/><rect x="32.8" y="167" width="123.8" height="1" fill="url(#h126)"/><rect x="32.8" y="168" width="123.8" height="1" fill="url(#h127)"/><rect x="32.8" y="169" width="123.8" height="1" fill="url(#h128)"/><rect x="32.8" y="170" width="123.8" height="1" fill="url(#h129)"/><rect x="32.8" y="171" width="123.8" height="1" fill="url(#h130)"/><rect x="32.8" y="172" width="123.8" height="1" fill="url(#h131)"/><rect x="32.8" y="173" width="123.8" height="1" fill="url(#h132)"/><rect x="32.8" y="174" width="123.8" height="1" fill="url(#h133)"/><rect x="32.8" y="175" width="123.8" height="1" fill="url(#h134)"/><rect x="32.8" y="176" width="123.8" height="1" fill="url(#h135)"/><rect x="32.8" y="177" width="123.8" height="1" fill="url(#h136)"/><rect x="32.8" y="178" width="123.8" height="1" fill="url(#h137)"/><rect x="32.8" y="179" width="123.8" height="1" fill="url(#h138)"/><rect x="32.8" y="180" width="123.8" height="1" fill="url(#h139)"/><rect x="32.8" y="181" width="123.8" height="1" fill="url(#h140)"/><rect x="32.8" y="182" width="123.8" height="1" fill="url(#h141)"/><rect x="32.8" y="183" width="123.8" height="1" fill="url(#h142)"/><rect x="32.8" y="184" width="123.8" height="1" fill="url(#h143)"/><rect x="32.8" y="185" width="123.8" height="1" fill="url(#h144)"/><rect x="32.8" y="186" width="123.8" height="1" fill="url(#h145)"/><rect x="32.8" y="187" width="123.8" height="1" fill="url(#h146)"/><rect x="32.8" y="188" width="123.8" height="0.2" fill="url(#h147)"/><rect x="32.8" y="192.6" width="123.8" height="0.4" fill="url(#h148)"/><rect x="32.8" y="193" width="123.8" height="1" fill="url(#h149)"/><rect x="32.8" y="194" width="123.8" height="1" fill="url(#h150)"/><rect x="32.8" y="195" width="123.8" height="1" fill="url(#h151)"/><rect x="32.8" y="196" width="123.8" height="1" fill="url(#h152)"/><rect x="32.8" y="197" width="123.8" height="1" fill="url(#h153)"/><rect x="32.8" y="198" width="123.8" height="1" fill="url(#h154)"/><rect x="32.8" y="199" width="123.8" height="1" fill="url(#h155)"/><rect x="32.8" y="200" width="123.8" height="1" fill="url(#h156)"/><rect x="32.8" y="201" width="123.8" height="1" fill="url(#h157)"/><rect x="32.8" y="202" width="123.8" height="1" fill="url(#h158)"/><rect x="32.8" y="203" width="123.8" height="1" fill="url(#h159)"/><rect x="32.8" y="204" width="123.8" height="1" fill="url(#h160)"/><rect x="32.8" y="205" width="123.8" height="1" fill="url(#h161)"/><rect x="32.8" y="206" width="123.8" height="1" fill="url(#h162)"/><rect x="32.8" y="207" width="123.8" height="1" fill="url(#h163)"/><rect x="32.8" y="208" width="123.8" height="1" fill="url(#h164)"/><rect x="32.8" y="209" width="123.8" height="1" fill="url(#h165)"/><rect x="32.8" y="210" width="123.8" height="1" fill="url(#h166)"/><rect x="32.8" y="211" width="123.8" height="1" fill="url(#h167)"/><rect x="32.8" y="212" width="123.8" height="1" fill="url(#h168)"/><rect x="32.8" y="213" width="123.8" height="1" fill="url(#h169)"/><rect x="32.8" y="214" width="123.8" height="1" fill="url(#h170)"/><rect x="32.8" y="215" width="123.8" height="1" fill="url(#h171)"/><rect x="32.8" y="216" width="123.8" height="1" fill="url(#h172)"/><rect x="32.8" y="217" width="123.8" height="1" fill="url(#h173)"/><rect x="32.8" y="218" width="123.8" height="1" fill="url(#h174)"/><rect x="32.8" y="219" width="123.8" height="1" fill="url(#h175)"/><rect x="32.8" y="220" width="123.8" height="1" fill="url(#h176)"/><rect x="32.8" y="221" width="123.8" height="1" fill="url(#h177)"/><rect x="32.8" y="222" width="123.8" height="1" fill="url(#h178)"/><rect x="32.8" y="223" width="123.8" height="1" fill="url(#h179)"/><rect x="32.8" y="224" width="123.8" height="1" fill="url(#h180)"/><rect x="32.8" y="225" width="123.8" height="1" fill="url(#h181)"/><rect x="32.8" y="226" width="123.8" height="1" fill="url(#h182)"/><rect x="32.8" y="227" width="123.8" height="1" fill="url(#h183)"/><rect x="32.8" y="228" width="123.8" height="1" fill="url(#h184)"/><rect x="32.8" y="229" width="123.8" height="1" fill="url(#h185)"/><rect x="32.8" y="230" width="123.8" height="1" fill="url(#h186)"/><rect x="32.8" y="231" width="123.8" height="1" fill="url(#h187)"/><rect x="32.8" y="232" width="123.8" height="1" fill="url(#h188)"/><rect x="32.8" y="233" width="123.8" height="1" fill="url(#h189)"/><rect x="32.8" y="234" width="123.8" height="1" fill="url(#h190)"/><rect x="32.8" y="235" width="123.8" height="1" fill="url(#h191)"/><rect x="32.8" y="236" width="123.8" height="1" fill="url(#h192)"/><rect x="32.8" y="237" width="123.8" height="1" fill="url(#h193)"/><rect x="32.8" y="238" width="123.8" height="1" fill="url(#h194)"/><rect x="32.8" y="239" width="123.8" height="1" fill="url(#h195)"/><rect x="32.8" y="240" width="123.8" height="1" fill="url(#h196)"/><rect x="32.8" y="241" width="123.8" height="0.5" fill="url(#h197)"/></g>
<rect x="32.8" y="104.2" width="123.8" height="1" fill="#000" fill-opacity="0.05"/>
<path d="M116.2 71.8 L116.11 71.81 L115.94 71.8 L115.8 71.83 L115.85 71.94 L116.2 72.2 L116.95 72.63 L118 73.21 L119.23 73.87 L120.51 74.59 L121.7 75.3 L122.8 76.05 L123.88 76.86 L124.98 77.68 L126.11 78.48 L127.3 79.2 L128.55 79.84 L129.85 80.41 L131.19 80.95 L132.57 81.48 L134 82 L135.49 82.53 L137.04 83.05 L138.63 83.56 L140.22 84.04 L141.8 84.5 L143.37 84.93 L144.94 85.34 L146.51 85.72 L148.07 86.07 L149.6 86.4 L151.22 86.7 L152.94 86.99 L154.59 87.24 L156 87.45 L157 87.6 L157 71.8 Z" fill="#440154"/>
<path d="M93.2 188.2 L95.1 187.6 L97.79 186.76 L100.93 185.78 L104.2 184.76 L107.3 183.8 L110.23 182.89 L113.2 181.97 L116.2 181.05 L119.21 180.15 L122.2 179.3 L125.1 178.52 L127.92 177.8 L130.78 177.1 L133.8 176.38 L137.1 175.6 L141.08 174.68 L145.66 173.64 L150.23 172.61 L154.21 171.72 L157 171.1 L157 188.2 Z" fill="#440154"/>
<path d="M111.4 192.6 L111.74 192.83 L112.21 193.15 L112.77 193.53 L113.38 193.89 L114 194.2 L114.56 194.44 L115.08 194.64 L115.68 194.82 L116.45 195 L117.5 195.2 L118.85 195.42 L120.43 195.66 L122.22 195.89 L124.18 196.11 L126.3 196.3 L128.57 196.45 L131.01 196.57 L133.63 196.68 L136.42 196.78 L139.4 196.9 L142.91 197.04 L146.96 197.21 L151.01 197.37 L154.53 197.5 L157 197.6 L157 192.6 Z" fill="#440154"/>
<path d="M83.2 241.5 L84.1 240.67 L85.36 239.49 L86.85 238.13 L88.41 236.74 L89.9 235.5 L91.34 234.39 L92.81 233.3 L94.31 232.24 L95.81 231.24 L97.3 230.3 L98.71 229.46 L100.04 228.71 L101.42 228 L102.93 227.28 L104.7 226.5 L106.74 225.66 L108.99 224.79 L111.41 223.9 L113.96 223 L116.6 222.1 L119.41 221.19 L122.42 220.27 L125.51 219.35 L128.57 218.45 L131.5 217.6 L134.28 216.79 L136.99 216 L139.64 215.24 L142.24 214.54 L144.8 213.9 L147.51 213.31 L150.34 212.77 L153.05 212.29 L155.36 211.89 L157 211.6 L157 241.5 Z" fill="#440154"/>
<line x1="32.8" y1="19.5" x2="156.6" y2="19.5" stroke="#333" stroke-width="1"/>
<line x1="32.8" y1="120" x2="156.6" y2="120" stroke="#333" stroke-width="1"/>
<line x1="32.8" y1="19.5" x2="32.8" y2="120" stroke="#333" stroke-width="1"/>
<line x1="156.6" y1="19.5" x2="156.6" y2="120" stroke="#333" stroke-width="1"/>
<line x1="32.8" y1="140.4" x2="156.6" y2="140.4" stroke="#333" stroke-width="1"/>
<line x1="32.8" y1="241.5" x2="156.6" y2="241.5" stroke="#333" stroke-width="1"/>
<line x1="32.8" y1="140.4" x2="32.8" y2="241.5" stroke="#333" stroke-width="1"/>
<line x1="156.6" y1="140.4" x2="156.6" y2="241.5" stroke="#333" stroke-width="1"/>
<rect x="33.4" y="67.6" width="122.6" height="4.1" fill="#fff"/>
<line x1="29.2" y1="64.9" x2="35.4" y2="70.6" stroke="#2a2a2a" stroke-width="0.95"/>
<line x1="29.8" y1="69.4" x2="36.2" y2="74.7" stroke="#2a2a2a" stroke-width="0.95"/>
<line x1="153" y1="64.9" x2="159.2" y2="70.6" stroke="#2a2a2a" stroke-width="0.95"/>
<line x1="153.6" y1="69.4" x2="160" y2="74.7" stroke="#2a2a2a" stroke-width="0.95"/>
<rect x="33.4" y="188.5" width="122.6" height="4.2" fill="#fff"/>
<line x1="29.2" y1="185.8" x2="35.4" y2="191.5" stroke="#2a2a2a" stroke-width="0.95"/>
<line x1="29.8" y1="190.4" x2="36.2" y2="195.7" stroke="#2a2a2a" stroke-width="0.95"/>
<line x1="153" y1="185.8" x2="159.2" y2="191.5" stroke="#2a2a2a" stroke-width="0.95"/>
<line x1="153.6" y1="190.4" x2="160" y2="195.7" stroke="#2a2a2a" stroke-width="0.95"/>
<line x1="32.8" y1="120" x2="32.8" y2="117.5" stroke="#555" stroke-width="0.8"/>
<line x1="32.8" y1="19.5" x2="32.8" y2="22" stroke="#555" stroke-width="0.8"/>
<line x1="53.43" y1="120" x2="53.43" y2="117.5" stroke="#555" stroke-width="0.8"/>
<line x1="53.43" y1="19.5" x2="53.43" y2="22" stroke="#555" stroke-width="0.8"/>
<line x1="74.07" y1="120" x2="74.07" y2="117.5" stroke="#555" stroke-width="0.8"/>
<line x1="74.07" y1="19.5" x2="74.07" y2="22" stroke="#555" stroke-width="0.8"/>
<line x1="94.7" y1="120" x2="94.7" y2="117.5" stroke="#555" stroke-width="0.8"/>
<line x1="94.7" y1="19.5" x2="94.7" y2="22" stroke="#555" stroke-width="0.8"/>
<line x1="115.33" y1="120" x2="115.33" y2="117.5" stroke="#555" stroke-width="0.8"/>
<line x1="115.33" y1="19.5" x2="115.33" y2="22" stroke="#555" stroke-width="0.8"/>
<line x1="135.97" y1="120" x2="135.97" y2="117.5" stroke="#555" stroke-width="0.8"/>
<line x1="135.97" y1="19.5" x2="135.97" y2="22" stroke="#555" stroke-width="0.8"/>
<line x1="156.6" y1="120" x2="156.6" y2="117.5" stroke="#555" stroke-width="0.8"/>
<line x1="156.6" y1="19.5" x2="156.6" y2="22" stroke="#555" stroke-width="0.8"/>
<line x1="32.8" y1="241.5" x2="32.8" y2="239" stroke="#555" stroke-width="0.8"/>
<line x1="32.8" y1="140.4" x2="32.8" y2="142.9" stroke="#555" stroke-width="0.8"/>
<line x1="53.43" y1="241.5" x2="53.43" y2="239" stroke="#555" stroke-width="0.8"/>
<line x1="53.43" y1="140.4" x2="53.43" y2="142.9" stroke="#555" stroke-width="0.8"/>
<line x1="74.07" y1="241.5" x2="74.07" y2="239" stroke="#555" stroke-width="0.8"/>
<line x1="74.07" y1="140.4" x2="74.07" y2="142.9" stroke="#555" stroke-width="0.8"/>
<line x1="94.7" y1="241.5" x2="94.7" y2="239" stroke="#555" stroke-width="0.8"/>
<line x1="94.7" y1="140.4" x2="94.7" y2="142.9" stroke="#555" stroke-width="0.8"/>
<line x1="115.33" y1="241.5" x2="115.33" y2="239" stroke="#555" stroke-width="0.8"/>
<line x1="115.33" y1="140.4" x2="115.33" y2="142.9" stroke="#555" stroke-width="0.8"/>
<line x1="135.97" y1="241.5" x2="135.97" y2="239" stroke="#555" stroke-width="0.8"/>
<line x1="135.97" y1="140.4" x2="135.97" y2="142.9" stroke="#555" stroke-width="0.8"/>
<line x1="156.6" y1="241.5" x2="156.6" y2="239" stroke="#555" stroke-width="0.8"/>
<line x1="156.6" y1="140.4" x2="156.6" y2="142.9" stroke="#555" stroke-width="0.8"/>
<line x1="32.8" y1="19.8" x2="34.8" y2="19.8" stroke="#666" stroke-width="0.8"/>
<line x1="156.6" y1="19.8" x2="154.6" y2="19.8" stroke="#666" stroke-width="0.8"/>
<line x1="32.8" y1="35.1" x2="34.8" y2="35.1" stroke="#666" stroke-width="0.8"/>
<line x1="156.6" y1="35.1" x2="154.6" y2="35.1" stroke="#666" stroke-width="0.8"/>
<line x1="32.8" y1="50.3" x2="34.8" y2="50.3" stroke="#666" stroke-width="0.8"/>
<line x1="156.6" y1="50.3" x2="154.6" y2="50.3" stroke="#666" stroke-width="0.8"/>
<line x1="32.8" y1="65.4" x2="34.8" y2="65.4" stroke="#666" stroke-width="0.8"/>
<line x1="156.6" y1="65.4" x2="154.6" y2="65.4" stroke="#666" stroke-width="0.8"/>
<line x1="32.8" y1="83.2" x2="34.8" y2="83.2" stroke="#666" stroke-width="0.8"/>
<line x1="156.6" y1="83.2" x2="154.6" y2="83.2" stroke="#666" stroke-width="0.8"/>
<line x1="32.8" y1="101.5" x2="34.8" y2="101.5" stroke="#666" stroke-width="0.8"/>
<line x1="156.6" y1="101.5" x2="154.6" y2="101.5" stroke="#666" stroke-width="0.8"/>
<line x1="32.8" y1="119.8" x2="34.8" y2="119.8" stroke="#666" stroke-width="0.8"/>
<line x1="156.6" y1="119.8" x2="154.6" y2="119.8" stroke="#666" stroke-width="0.8"/>
<line x1="32.8" y1="140.5" x2="34.8" y2="140.5" stroke="#666" stroke-width="0.8"/>
<line x1="156.6" y1="140.5" x2="154.6" y2="140.5" stroke="#666" stroke-width="0.8"/>
<line x1="32.8" y1="161.9" x2="34.8" y2="161.9" stroke="#666" stroke-width="0.8"/>
<line x1="156.6" y1="161.9" x2="154.6" y2="161.9" stroke="#666" stroke-width="0.8"/>
<line x1="32.8" y1="183.2" x2="34.8" y2="183.2" stroke="#666" stroke-width="0.8"/>
<line x1="156.6" y1="183.2" x2="154.6" y2="183.2" stroke="#666" stroke-width="0.8"/>
<line x1="32.8" y1="202.3" x2="34.8" y2="202.3" stroke="#666" stroke-width="0.8"/>
<line x1="156.6" y1="202.3" x2="154.6" y2="202.3" stroke="#666" stroke-width="0.8"/>
<line x1="32.8" y1="222.1" x2="34.8" y2="222.1" stroke="#666" stroke-width="0.8"/>
<line x1="156.6" y1="222.1" x2="154.6" y2="222.1" stroke="#666" stroke-width="0.8"/>
<line x1="32.8" y1="241.5" x2="34.8" y2="241.5" stroke="#666" stroke-width="0.8"/>
<line x1="156.6" y1="241.5" x2="154.6" y2="241.5" stroke="#666" stroke-width="0.8"/>
<rect x="67.2" y="2.3" width="85.4" height="5.5" fill="url(#cb)" stroke="#3a3a3a" stroke-width="0.5"/>
<line x1="84.28" y1="2.3" x2="84.28" y2="7.8" stroke="#222" stroke-width="0.8"/>
<line x1="101.36" y1="2.3" x2="101.36" y2="7.8" stroke="#222" stroke-width="0.8"/>
<line x1="118.44" y1="2.3" x2="118.44" y2="7.8" stroke="#222" stroke-width="0.8"/>
<line x1="135.52" y1="2.3" x2="135.52" y2="7.8" stroke="#222" stroke-width="0.8"/>
<rect x="195" y="3.3" width="460.2" height="238.2" fill="none" stroke="#333" stroke-width="1"/>
<line x1="195" y1="241.5" x2="195" y2="238.5" stroke="#333" stroke-width="1"/>
<line x1="195" y1="3.3" x2="195" y2="6.3" stroke="#333" stroke-width="1"/>
<line x1="246.13" y1="241.5" x2="246.13" y2="238.5" stroke="#333" stroke-width="1"/>
<line x1="246.13" y1="3.3" x2="246.13" y2="6.3" stroke="#333" stroke-width="1"/>
<line x1="297.27" y1="241.5" x2="297.27" y2="238.5" stroke="#333" stroke-width="1"/>
<line x1="297.27" y1="3.3" x2="297.27" y2="6.3" stroke="#333" stroke-width="1"/>
<line x1="348.4" y1="241.5" x2="348.4" y2="238.5" stroke="#333" stroke-width="1"/>
<line x1="348.4" y1="3.3" x2="348.4" y2="6.3" stroke="#333" stroke-width="1"/>
<line x1="399.53" y1="241.5" x2="399.53" y2="238.5" stroke="#333" stroke-width="1"/>
<line x1="399.53" y1="3.3" x2="399.53" y2="6.3" stroke="#333" stroke-width="1"/>
<line x1="450.67" y1="241.5" x2="450.67" y2="238.5" stroke="#333" stroke-width="1"/>
<line x1="450.67" y1="3.3" x2="450.67" y2="6.3" stroke="#333" stroke-width="1"/>
<line x1="501.8" y1="241.5" x2="501.8" y2="238.5" stroke="#333" stroke-width="1"/>
<line x1="501.8" y1="3.3" x2="501.8" y2="6.3" stroke="#333" stroke-width="1"/>
<line x1="552.93" y1="241.5" x2="552.93" y2="238.5" stroke="#333" stroke-width="1"/>
<line x1="552.93" y1="3.3" x2="552.93" y2="6.3" stroke="#333" stroke-width="1"/>
<line x1="604.07" y1="241.5" x2="604.07" y2="238.5" stroke="#333" stroke-width="1"/>
<line x1="604.07" y1="3.3" x2="604.07" y2="6.3" stroke="#333" stroke-width="1"/>
<line x1="655.2" y1="241.5" x2="655.2" y2="238.5" stroke="#333" stroke-width="1"/>
<line x1="655.2" y1="3.3" x2="655.2" y2="6.3" stroke="#333" stroke-width="1"/>
<line x1="195" y1="241.5" x2="198" y2="241.5" stroke="#333" stroke-width="1"/>
<line x1="655.2" y1="241.5" x2="652.2" y2="241.5" stroke="#333" stroke-width="1"/>
<line x1="195" y1="193.86" x2="198" y2="193.86" stroke="#333" stroke-width="1"/>
<line x1="655.2" y1="193.86" x2="652.2" y2="193.86" stroke="#333" stroke-width="1"/>
<line x1="195" y1="146.22" x2="198" y2="146.22" stroke="#333" stroke-width="1"/>
<line x1="655.2" y1="146.22" x2="652.2" y2="146.22" stroke="#333" stroke-width="1"/>
<line x1="195" y1="98.58" x2="198" y2="98.58" stroke="#333" stroke-width="1"/>
<line x1="655.2" y1="98.58" x2="652.2" y2="98.58" stroke="#333" stroke-width="1"/>
<line x1="195" y1="50.94" x2="198" y2="50.94" stroke="#333" stroke-width="1"/>
<line x1="655.2" y1="50.94" x2="652.2" y2="50.94" stroke="#333" stroke-width="1"/>
<line x1="195" y1="3.3" x2="198" y2="3.3" stroke="#333" stroke-width="1"/>
<line x1="655.2" y1="3.3" x2="652.2" y2="3.3" stroke="#333" stroke-width="1"/>
<g clip-path="url(#cm)">
<path d="M195 241.5 L195 240.2 L196.01 240.09 L197.41 239.94 L199.07 239.77 L200.86 239.57 L202.64 239.34 L204.3 239.1 L205.85 238.84 L207.4 238.56 L208.95 238.26 L210.5 237.93 L212.05 237.58 L213.6 237.2 L215.16 236.79 L216.74 236.34 L218.32 235.87 L219.89 235.39 L221.42 234.89 L222.9 234.4 L224.36 233.9 L225.82 233.37 L227.24 232.84 L228.6 232.31 L229.87 231.8 L231 231.3 L231.96 230.84 L232.76 230.4 L233.46 229.98 L234.12 229.54 L234.82 229.09 L235.6 228.6 L236.48 228.07 L237.4 227.51 L238.34 226.92 L239.3 226.33 L240.26 225.72 L241.2 225.1 L242.12 224.47 L243.04 223.83 L243.95 223.18 L244.86 222.51 L245.78 221.85 L246.7 221.2 L247.65 220.54 L248.63 219.86 L249.61 219.18 L250.57 218.51 L251.48 217.88 L252.3 217.3 L253.03 216.78 L253.68 216.32 L254.28 215.89 L254.84 215.47 L255.41 215.05 L256 214.6 L256.6 214.15 L257.19 213.73 L257.77 213.29 L258.36 212.83 L258.97 212.31 L259.6 211.7 L260.27 211 L260.96 210.21 L261.66 209.37 L262.38 208.49 L263.09 207.59 L263.8 206.7 L264.51 205.8 L265.22 204.87 L265.93 203.93 L266.64 202.98 L267.33 202.03 L268 201.1 L268.65 200.18 L269.29 199.25 L269.91 198.33 L270.51 197.41 L271.11 196.5 L271.7 195.6 L272.26 194.74 L272.77 193.92 L273.28 193.11 L273.8 192.26 L274.37 191.34 L275 190.3 L275.73 189.12 L276.54 187.83 L277.39 186.46 L278.25 185.05 L279.06 183.65 L279.8 182.3 L280.45 180.99 L281.04 179.68 L281.59 178.38 L282.13 177.09 L282.66 175.79 L283.2 174.5 L283.76 173.2 L284.31 171.89 L284.86 170.59 L285.4 169.3 L285.95 168.03 L286.5 166.8 L287.04 165.65 L287.57 164.59 L288.11 163.54 L288.65 162.47 L289.21 161.31 L289.8 160 L290.43 158.5 L291.09 156.86 L291.77 155.12 L292.46 153.36 L293.14 151.63 L293.8 150 L294.44 148.46 L295.08 146.97 L295.71 145.51 L296.33 144.08 L296.93 142.68 L297.5 141.3 L298.04 139.97 L298.54 138.69 L299.03 137.44 L299.5 136.19 L299.99 134.92 L300.5 133.6 L301.03 132.22 L301.56 130.79 L302.11 129.34 L302.66 127.89 L303.22 126.47 L303.8 125.1 L304.4 123.76 L305.03 122.41 L305.66 121.09 L306.3 119.83 L306.91 118.65 L307.5 117.6 L308.05 116.67 L308.59 115.84 L309.11 115.1 L309.61 114.44 L310.11 113.84 L310.6 113.3 L311.09 112.81 L311.56 112.39 L312.03 112.02 L312.49 111.74 L312.94 111.53 L313.4 111.4 L313.86 111.36 L314.31 111.4 L314.77 111.53 L315.22 111.72 L315.66 111.98 L316.1 112.3 L316.53 112.69 L316.95 113.16 L317.37 113.7 L317.78 114.29 L318.19 114.93 L318.6 115.6 L319.01 116.31 L319.41 117.09 L319.82 117.9 L320.22 118.75 L320.61 119.62 L321 120.5 L321.38 121.38 L321.75 122.26 L322.11 123.17 L322.47 124.11 L322.84 125.12 L323.2 126.2 L323.57 127.35 L323.93 128.55 L324.3 129.81 L324.67 131.14 L325.03 132.53 L325.4 134 L325.77 135.57 L326.13 137.24 L326.49 138.99 L326.86 140.77 L327.23 142.55 L327.6 144.3 L327.98 146.04 L328.38 147.79 L328.78 149.54 L329.17 151.29 L329.54 153.01 L329.9 154.7 L330.23 156.33 L330.53 157.91 L330.82 159.46 L331.11 161.03 L331.4 162.63 L331.7 164.3 L332.01 166.06 L332.33 167.89 L332.64 169.76 L332.96 171.63 L333.28 173.49 L333.6 175.3 L333.92 177.07 L334.24 178.81 L334.56 180.54 L334.87 182.24 L335.19 183.93 L335.5 185.6 L335.8 187.24 L336.1 188.84 L336.4 190.43 L336.7 192.01 L337 193.6 L337.3 195.2 L337.61 196.82 L337.93 198.46 L338.24 200.1 L338.56 201.74 L338.88 203.38 L339.2 205 L339.51 206.61 L339.83 208.2 L340.14 209.79 L340.45 211.38 L340.77 212.98 L341.1 214.6 L341.44 216.26 L341.79 217.95 L342.14 219.66 L342.49 221.35 L342.85 223 L343.2 224.6 L343.55 226.16 L343.91 227.7 L344.27 229.2 L344.63 230.65 L344.97 232.02 L345.3 233.3 L345.61 234.5 L345.91 235.64 L346.21 236.71 L346.49 237.68 L346.75 238.55 L347 239.3 L347.23 239.94 L347.43 240.48 L347.62 240.91 L347.8 241.23 L347.99 241.43 L348.2 241.5 L348.42 241.43 L348.65 241.22 L348.88 240.89 L349.12 240.46 L349.36 239.92 L349.6 239.3 L349.84 238.58 L350.08 237.74 L350.33 236.81 L350.57 235.8 L350.83 234.72 L351.1 233.6 L351.38 232.42 L351.67 231.18 L351.96 229.87 L352.27 228.51 L352.58 227.08 L352.9 225.6 L353.23 224.05 L353.57 222.41 L353.93 220.72 L354.28 218.99 L354.64 217.24 L355 215.5 L355.37 213.75 L355.74 211.99 L356.12 210.21 L356.49 208.41 L356.86 206.61 L357.2 204.8 L357.52 203 L357.83 201.2 L358.13 199.4 L358.42 197.57 L358.71 195.71 L359 193.8 L359.29 191.82 L359.58 189.79 L359.87 187.71 L360.15 185.63 L360.43 183.55 L360.7 181.5 L360.96 179.49 L361.21 177.51 L361.46 175.54 L361.71 173.56 L361.95 171.55 L362.2 169.5 L362.45 167.4 L362.7 165.26 L362.94 163.09 L363.19 160.91 L363.44 158.71 L363.7 156.5 L363.96 154.27 L364.22 152 L364.49 149.72 L364.76 147.44 L365.03 145.2 L365.3 143 L365.57 140.89 L365.85 138.85 L366.12 136.84 L366.41 134.81 L366.7 132.72 L367 130.5 L367.31 128.15 L367.64 125.7 L367.97 123.19 L368.31 120.63 L368.65 118.06 L369 115.5 L369.35 112.93 L369.71 110.31 L370.08 107.69 L370.45 105.07 L370.83 102.5 L371.2 100 L371.58 97.56 L371.96 95.16 L372.35 92.79 L372.74 90.48 L373.12 88.21 L373.5 86 L373.87 83.83 L374.24 81.7 L374.61 79.62 L374.97 77.61 L375.33 75.66 L375.7 73.8 L376.06 72.04 L376.42 70.39 L376.77 68.81 L377.14 67.27 L377.51 65.75 L377.9 64.2 L378.31 62.61 L378.74 61 L379.18 59.4 L379.63 57.84 L380.07 56.37 L380.5 55 L380.92 53.74 L381.35 52.54 L381.77 51.43 L382.19 50.4 L382.6 49.45 L383 48.6 L383.4 47.85 L383.79 47.19 L384.17 46.62 L384.55 46.12 L384.92 45.69 L385.3 45.3 L385.67 44.97 L386.04 44.7 L386.41 44.49 L386.77 44.34 L387.13 44.25 L387.5 44.2 L387.86 44.2 L388.21 44.24 L388.56 44.33 L388.92 44.49 L389.3 44.71 L389.7 45 L390.13 45.37 L390.58 45.8 L391.05 46.3 L391.53 46.87 L392.01 47.5 L392.5 48.2 L392.99 48.99 L393.5 49.86 L394.01 50.8 L394.51 51.79 L395.02 52.79 L395.5 53.8 L395.97 54.82 L396.43 55.88 L396.89 56.96 L397.33 58.04 L397.77 59.13 L398.2 60.2 L398.61 61.23 L399 62.23 L399.39 63.22 L399.77 64.24 L400.17 65.32 L400.6 66.5 L401.05 67.77 L401.52 69.11 L402.01 70.52 L402.5 71.97 L403 73.47 L403.5 75 L404.01 76.59 L404.52 78.24 L405.04 79.94 L405.56 81.65 L406.08 83.34 L406.6 85 L407.11 86.63 L407.63 88.26 L408.14 89.88 L408.65 91.46 L409.17 93.01 L409.7 94.5 L410.24 95.93 L410.78 97.3 L411.32 98.62 L411.88 99.93 L412.44 101.21 L413 102.5 L413.58 103.81 L414.19 105.12 L414.8 106.42 L415.4 107.69 L415.97 108.89 L416.5 110 L416.98 111 L417.42 111.9 L417.83 112.74 L418.23 113.55 L418.61 114.36 L419 115.2 L419.36 116.01 L419.68 116.74 L419.99 117.48 L420.32 118.28 L420.72 119.23 L421.2 120.4 L421.79 121.83 L422.47 123.48 L423.21 125.28 L423.98 127.14 L424.75 129.01 L425.5 130.8 L426.23 132.55 L426.97 134.31 L427.71 136.08 L428.45 137.83 L429.18 139.54 L429.9 141.2 L430.59 142.78 L431.24 144.29 L431.89 145.76 L432.55 147.23 L433.24 148.73 L434 150.3 L434.82 151.95 L435.7 153.66 L436.61 155.41 L437.54 157.16 L438.47 158.9 L439.4 160.6 L440.31 162.26 L441.23 163.9 L442.15 165.53 L443.08 167.15 L444.03 168.77 L445 170.4 L445.99 172.03 L447 173.65 L448.02 175.27 L449.07 176.9 L450.13 178.54 L451.2 180.2 L452.31 181.91 L453.47 183.68 L454.64 185.46 L455.81 187.22 L456.93 188.91 L458 190.5 L459.01 192 L459.99 193.43 L460.93 194.8 L461.83 196.1 L462.69 197.34 L463.5 198.5 L464.2 199.53 L464.79 200.41 L465.32 201.23 L465.89 202.05 L466.56 202.95 L467.4 204 L468.44 205.24 L469.64 206.62 L470.93 208.07 L472.27 209.55 L473.61 210.98 L474.9 212.3 L476.14 213.53 L477.37 214.71 L478.61 215.84 L479.84 216.94 L481.07 217.99 L482.3 219 L483.5 219.95 L484.66 220.84 L485.82 221.68 L487.02 222.51 L488.3 223.34 L489.7 224.2 L491.29 225.11 L493.04 226.04 L494.88 226.99 L496.7 227.91 L498.44 228.79 L500 229.6 L501.31 230.32 L502.43 230.97 L503.46 231.58 L504.49 232.16 L505.64 232.76 L507 233.4 L508.59 234.1 L510.33 234.84 L512.19 235.59 L514.11 236.32 L516.06 237 L518 237.6 L519.93 238.12 L521.89 238.58 L523.88 238.99 L525.89 239.36 L527.93 239.7 L530 240 L532.06 240.27 L534.11 240.49 L536.19 240.67 L538.33 240.83 L540.59 240.97 L543 241.1 L544.7 241.21 L545.47 241.3 L546.36 241.37 L548.39 241.42 L552.59 241.46 L560 241.5 L572.44 241.52 L589.47 241.53 L608.66 241.53 L627.62 241.51 L643.94 241.5 L655.2 241.5 L655.2 241.5 Z" fill="#21918c"/>
<path d="M195 241.6 L196.06 241.6 L197.52 241.6 L199.25 241.6 L201.15 241.6 L203.1 241.6 L205 241.6 L206.9 241.61 L208.9 241.63 L210.96 241.64 L213.03 241.65 L215.06 241.64 L217 241.6 L218.88 241.54 L220.76 241.46 L222.59 241.36 L224.36 241.24 L226.03 241.09 L227.6 240.9 L229.02 240.66 L230.32 240.38 L231.52 240.06 L232.68 239.73 L233.83 239.41 L235 239.1 L236.18 238.82 L237.32 238.55 L238.46 238.29 L239.6 238.01 L240.77 237.72 L242 237.4 L243.33 237.04 L244.76 236.64 L246.21 236.22 L247.63 235.8 L248.95 235.39 L250.1 235 L251.03 234.65 L251.8 234.34 L252.46 234.04 L253.09 233.72 L253.75 233.35 L254.5 232.9 L255.36 232.36 L256.27 231.76 L257.21 231.1 L258.16 230.41 L259.1 229.71 L260 229 L260.86 228.29 L261.7 227.57 L262.53 226.83 L263.35 226.07 L264.17 225.3 L265 224.5 L265.83 223.67 L266.67 222.82 L267.5 221.94 L268.33 221.06 L269.17 220.17 L270 219.3 L270.85 218.44 L271.71 217.58 L272.58 216.72 L273.43 215.86 L274.24 214.98 L275 214.1 L275.7 213.2 L276.35 212.29 L276.96 211.37 L277.55 210.45 L278.13 209.53 L278.7 208.6 L279.26 207.68 L279.81 206.76 L280.34 205.83 L280.86 204.9 L281.38 203.96 L281.9 203 L282.42 202.03 L282.94 201.04 L283.45 200.04 L283.96 199.03 L284.48 198.02 L285 197 L285.53 195.97 L286.08 194.91 L286.63 193.85 L287.17 192.8 L287.7 191.78 L288.2 190.8 L288.66 189.91 L289.1 189.09 L289.52 188.3 L289.93 187.49 L290.36 186.61 L290.8 185.6 L291.27 184.46 L291.75 183.23 L292.24 181.93 L292.73 180.58 L293.22 179.19 L293.7 177.8 L294.17 176.38 L294.64 174.91 L295.11 173.42 L295.57 171.91 L296.03 170.4 L296.5 168.9 L296.97 167.42 L297.44 165.94 L297.91 164.47 L298.37 162.99 L298.84 161.5 L299.3 160 L299.76 158.47 L300.21 156.91 L300.66 155.35 L301.1 153.8 L301.55 152.27 L302 150.8 L302.45 149.39 L302.9 148.03 L303.35 146.69 L303.8 145.37 L304.25 144.05 L304.7 142.7 L305.15 141.34 L305.6 140 L306.04 138.64 L306.49 137.27 L306.94 135.86 L307.4 134.4 L307.86 132.87 L308.33 131.27 L308.81 129.64 L309.28 128 L309.74 126.38 L310.2 124.8 L310.65 123.25 L311.09 121.7 L311.53 120.17 L311.96 118.67 L312.38 117.21 L312.8 115.8 L313.21 114.44 L313.62 113.12 L314.02 111.84 L314.41 110.61 L314.81 109.43 L315.2 108.3 L315.59 107.22 L315.99 106.18 L316.38 105.19 L316.76 104.26 L317.14 103.39 L317.5 102.6 L317.85 101.89 L318.19 101.26 L318.52 100.69 L318.85 100.18 L319.18 99.72 L319.5 99.3 L319.82 98.92 L320.14 98.59 L320.46 98.31 L320.78 98.08 L321.09 97.91 L321.4 97.8 L321.71 97.76 L322.01 97.78 L322.31 97.86 L322.61 97.99 L322.91 98.17 L323.2 98.4 L323.49 98.68 L323.77 99 L324.06 99.38 L324.34 99.8 L324.62 100.28 L324.9 100.8 L325.18 101.36 L325.46 101.96 L325.74 102.61 L326.03 103.33 L326.31 104.12 L326.6 105 L326.9 105.99 L327.2 107.07 L327.51 108.22 L327.81 109.44 L328.11 110.71 L328.4 112 L328.68 113.33 L328.96 114.7 L329.23 116.12 L329.49 117.58 L329.75 119.07 L330 120.6 L330.24 122.14 L330.47 123.68 L330.7 125.26 L330.93 126.9 L331.16 128.64 L331.4 130.5 L331.66 132.55 L331.92 134.77 L332.19 137.09 L332.47 139.42 L332.74 141.68 L333 143.8 L333.26 145.76 L333.51 147.64 L333.77 149.45 L334.02 151.21 L334.26 152.96 L334.5 154.7 L334.73 156.42 L334.95 158.1 L335.16 159.76 L335.37 161.42 L335.59 163.09 L335.8 164.8 L336.02 166.55 L336.23 168.32 L336.45 170.11 L336.67 171.9 L336.88 173.7 L337.1 175.5 L337.32 177.29 L337.53 179.09 L337.74 180.89 L337.96 182.69 L338.18 184.49 L338.4 186.3 L338.62 188.11 L338.84 189.91 L339.07 191.72 L339.3 193.53 L339.54 195.36 L339.8 197.2 L340.07 199.06 L340.36 200.94 L340.66 202.84 L340.97 204.73 L341.28 206.62 L341.6 208.5 L341.92 210.37 L342.25 212.24 L342.59 214.11 L342.93 215.97 L343.26 217.8 L343.6 219.6 L343.94 221.39 L344.28 223.19 L344.62 224.96 L344.96 226.69 L345.28 228.34 L345.6 229.9 L345.91 231.38 L346.21 232.8 L346.51 234.16 L346.79 235.42 L347.05 236.57 L347.3 237.6 L347.52 238.55 L347.71 239.44 L347.89 240.22 L348.06 240.84 L348.23 241.25 L348.4 241.4 L348.56 241.29 L348.71 240.96 L348.85 240.41 L349 239.67 L349.18 238.73 L349.4 237.6 L349.66 236.23 L349.96 234.61 L350.27 232.79 L350.61 230.84 L350.96 228.82 L351.3 226.8 L351.65 224.74 L352 222.57 L352.37 220.34 L352.74 218.08 L353.12 215.82 L353.5 213.6 L353.9 211.38 L354.31 209.13 L354.74 206.88 L355.15 204.67 L355.54 202.53 L355.9 200.5 L356.22 198.61 L356.5 196.83 L356.76 195.12 L357.01 193.44 L357.25 191.75 L357.5 190 L357.75 188.21 L357.99 186.43 L358.22 184.62 L358.45 182.8 L358.67 180.93 L358.9 179 L359.12 177.03 L359.34 175.04 L359.55 173 L359.76 170.91 L359.98 168.75 L360.2 166.5 L360.43 164.14 L360.66 161.67 L360.9 159.12 L361.14 156.56 L361.37 154 L361.6 151.5 L361.82 149.06 L362.04 146.65 L362.26 144.25 L362.47 141.85 L362.68 139.44 L362.9 137 L363.11 134.54 L363.33 132.07 L363.54 129.59 L363.75 127.09 L363.97 124.56 L364.2 122 L364.43 119.4 L364.67 116.78 L364.91 114.12 L365.16 111.44 L365.42 108.74 L365.7 106 L365.99 103.22 L366.29 100.4 L366.61 97.54 L366.93 94.68 L367.26 91.83 L367.6 89 L367.95 86.14 L368.31 83.24 L368.69 80.34 L369.06 77.51 L369.44 74.81 L369.8 72.3 L370.15 70.01 L370.5 67.88 L370.85 65.89 L371.2 63.99 L371.55 62.14 L371.9 60.3 L372.26 58.45 L372.62 56.61 L372.99 54.83 L373.36 53.14 L373.73 51.58 L374.1 50.2 L374.48 48.99 L374.86 47.93 L375.25 46.99 L375.64 46.19 L376.02 45.49 L376.4 44.9 L376.77 44.43 L377.14 44.09 L377.51 43.86 L377.87 43.73 L378.23 43.68 L378.6 43.7 L378.97 43.78 L379.33 43.95 L379.7 44.19 L380.07 44.52 L380.43 44.92 L380.8 45.4 L381.17 45.95 L381.53 46.59 L381.89 47.29 L382.26 48.08 L382.63 48.95 L383 49.9 L383.38 50.95 L383.76 52.1 L384.15 53.33 L384.54 54.61 L384.92 55.95 L385.3 57.3 L385.67 58.69 L386.04 60.14 L386.4 61.63 L386.76 63.15 L387.13 64.68 L387.5 66.2 L387.87 67.71 L388.24 69.23 L388.62 70.75 L389 72.3 L389.39 73.88 L389.8 75.5 L390.22 77.16 L390.65 78.83 L391.09 80.54 L391.54 82.3 L392.01 84.11 L392.5 86 L393.02 88.01 L393.56 90.14 L394.12 92.33 L394.69 94.51 L395.25 96.63 L395.8 98.6 L396.33 100.46 L396.86 102.25 L397.38 103.97 L397.9 105.61 L398.4 107.15 L398.9 108.6 L399.37 109.83 L399.82 110.84 L400.26 111.76 L400.71 112.71 L401.18 113.85 L401.7 115.3 L402.26 117.11 L402.87 119.18 L403.49 121.43 L404.13 123.77 L404.77 126.13 L405.4 128.4 L406.02 130.63 L406.64 132.88 L407.26 135.14 L407.88 137.4 L408.49 139.62 L409.1 141.8 L409.68 143.96 L410.24 146.11 L410.8 148.24 L411.37 150.31 L411.96 152.31 L412.6 154.2 L413.29 155.93 L414.02 157.51 L414.78 159.01 L415.56 160.51 L416.33 162.08 L417.1 163.8 L417.85 165.67 L418.59 167.64 L419.33 169.68 L420.09 171.77 L420.87 173.88 L421.7 176 L422.58 178.16 L423.51 180.4 L424.46 182.66 L425.43 184.89 L426.38 187.06 L427.3 189.1 L428.18 191.01 L429.02 192.81 L429.86 194.54 L430.7 196.23 L431.57 197.91 L432.5 199.6 L433.45 201.3 L434.41 203 L435.4 204.68 L436.44 206.34 L437.57 207.99 L438.8 209.6 L440.15 211.2 L441.6 212.78 L443.13 214.34 L444.72 215.87 L446.35 217.36 L448 218.8 L449.71 220.2 L451.51 221.57 L453.35 222.9 L455.18 224.19 L456.94 225.42 L458.6 226.6 L460.13 227.71 L461.57 228.74 L462.94 229.72 L464.29 230.68 L465.63 231.63 L467 232.6 L468.4 233.62 L469.8 234.67 L471.19 235.71 L472.58 236.71 L473.95 237.62 L475.3 238.4 L476.63 239.04 L477.94 239.58 L479.23 240.03 L480.51 240.41 L481.76 240.73 L483 241 L483.48 241.21 L483.05 241.34 L482.61 241.41 L483.03 241.44 L485.2 241.46 L490 241.5 L497.73 241.54 L507.73 241.57 L519.49 241.58 L532.47 241.59 L546.15 241.59 L560 241.6 L575.51 241.61 L593.39 241.61 L611.98 241.61 L629.59 241.6 L644.55 241.6 L655.2 241.6 Z" fill="#fde725" fill-opacity="0.77" stroke="#c9b41c" stroke-width="0.8"/>
</g>
<g clip-path="url(#cm2)">
<path d="M195 241.5 L196.73 241.49 L199.2 241.49 L202.08 241.48 L205.06 241.46 L207.81 241.44 L210 241.4 L211.64 241.39 L212.97 241.41 L214.08 241.42 L215.03 241.38 L215.88 241.26 L216.7 241 L217.44 240.66 L218.03 240.27 L218.53 239.8 L218.99 239.19 L219.46 238.41 L220 237.4 L220.61 236.14 L221.26 234.67 L221.93 233.01 L222.58 231.22 L223.21 229.34 L223.8 227.4 L224.33 225.39 L224.81 223.27 L225.28 221.05 L225.73 218.76 L226.2 216.4 L226.7 214 L227.24 211.43 L227.8 208.65 L228.37 205.81 L228.96 203.06 L229.53 200.54 L230.1 198.4 L230.66 196.66 L231.22 195.19 L231.78 193.96 L232.33 192.92 L232.87 192.01 L233.4 191.2 L233.9 190.49 L234.36 189.91 L234.82 189.48 L235.28 189.19 L235.77 189.03 L236.3 189 L236.89 189.12 L237.51 189.39 L238.17 189.79 L238.83 190.32 L239.48 190.96 L240.1 191.7 L240.69 192.57 L241.27 193.6 L241.83 194.73 L242.39 195.94 L242.94 197.17 L243.5 198.4 L244.05 199.67 L244.6 201.04 L245.15 202.44 L245.7 203.8 L246.25 205.08 L246.8 206.2 L247.36 207.13 L247.93 207.91 L248.5 208.59 L249.07 209.25 L249.64 209.93 L250.2 210.7 L250.77 211.53 L251.35 212.37 L251.93 213.24 L252.49 214.16 L253.01 215.14 L253.5 216.2 L253.93 217.35 L254.31 218.59 L254.66 219.88 L255 221.23 L255.34 222.6 L255.7 224 L256.07 225.46 L256.44 227 L256.81 228.57 L257.19 230.13 L257.58 231.62 L258 233 L258.45 234.31 L258.93 235.6 L259.43 236.82 L259.93 237.94 L260.43 238.91 L260.9 239.7 L261.31 240.26 L261.64 240.63 L261.97 240.85 L262.36 240.98 L262.84 241.08 L263.5 241.2 L264.09 241.32 L264.51 241.4 L265.04 241.45 L265.95 241.47 L267.51 241.49 L270 241.5 L273.78 241.51 L278.7 241.51 L284.28 241.5 L290.02 241.48 L295.42 241.44 L300 241.4 L303.82 241.35 L307.29 241.3 L310.43 241.23 L313.25 241.15 L315.77 241.04 L318 240.9 L319.82 240.74 L321.19 240.58 L322.26 240.39 L323.17 240.16 L324.07 239.87 L325.1 239.5 L326.27 239.09 L327.46 238.67 L328.63 238.19 L329.77 237.61 L330.83 236.89 L331.8 236 L332.66 234.93 L333.44 233.72 L334.14 232.37 L334.8 230.89 L335.41 229.3 L336 227.6 L336.56 225.77 L337.08 223.8 L337.56 221.72 L338.01 219.54 L338.42 217.29 L338.8 215 L339.13 212.66 L339.41 210.26 L339.66 207.79 L339.9 205.25 L340.14 202.62 L340.4 199.9 L340.68 197.09 L340.97 194.19 L341.27 191.21 L341.57 188.14 L341.88 185.01 L342.2 181.8 L342.53 178.44 L342.86 174.89 L343.2 171.28 L343.55 167.69 L343.92 164.23 L344.3 161 L344.71 157.67 L345.16 154.09 L345.62 150.64 L346.07 147.71 L346.51 145.67 L346.9 144.9 L347.24 145.76 L347.55 148 L347.83 151.13 L348.11 154.67 L348.39 158.12 L348.7 161 L349.04 163.48 L349.41 166 L349.78 168.43 L350.15 170.65 L350.49 172.55 L350.8 174 L351.06 174.89 L351.27 175.3 L351.47 175.38 L351.66 175.3 L351.86 175.22 L352.1 175.3 L352.38 175.41 L352.68 175.4 L353 175.38 L353.32 175.49 L353.62 175.86 L353.9 176.6 L354.14 177.78 L354.36 179.3 L354.57 181.07 L354.77 183 L354.98 185.01 L355.2 187 L355.43 188.94 L355.66 190.88 L355.89 192.9 L356.13 195.05 L356.4 197.4 L356.7 200 L357.02 203 L357.36 206.39 L357.72 209.97 L358.11 213.56 L358.54 216.97 L359 220 L359.49 222.7 L359.99 225.23 L360.52 227.58 L361.11 229.73 L361.76 231.68 L362.5 233.4 L363.32 234.87 L364.23 236.09 L365.19 237.09 L366.22 237.94 L367.29 238.66 L368.4 239.3 L369.38 239.82 L370.2 240.16 L371.07 240.39 L372.19 240.54 L373.76 240.66 L376 240.8 L379.04 240.95 L382.75 241.06 L386.91 241.15 L391.32 241.21 L395.75 241.26 L400 241.3 L404.34 241.32 L409 241.31 L413.69 241.29 L418.11 241.26 L421.98 241.23 L425 241.2 L426.99 241.19 L428.16 241.2 L428.76 241.2 L429.09 241.18 L429.41 241.12 L430 241 L430.82 240.87 L431.66 240.75 L432.48 240.59 L433.29 240.34 L434.07 239.92 L434.8 239.3 L435.5 238.44 L436.16 237.37 L436.8 236.15 L437.4 234.82 L437.97 233.42 L438.5 232 L438.98 230.49 L439.4 228.85 L439.78 227.14 L440.15 225.44 L440.52 223.8 L440.9 222.3 L441.29 220.93 L441.66 219.63 L442.02 218.4 L442.41 217.24 L442.83 216.14 L443.3 215.1 L443.83 214.16 L444.41 213.34 L445.02 212.57 L445.65 211.83 L446.28 211.05 L446.9 210.2 L447.51 209.29 L448.13 208.37 L448.75 207.42 L449.37 206.43 L449.99 205.36 L450.6 204.2 L451.21 202.89 L451.81 201.44 L452.41 199.92 L453 198.4 L453.6 196.97 L454.2 195.7 L454.81 194.57 L455.43 193.5 L456.04 192.52 L456.65 191.64 L457.24 190.86 L457.8 190.2 L458.32 189.64 L458.81 189.16 L459.28 188.78 L459.74 188.53 L460.21 188.43 L460.7 188.5 L461.23 188.75 L461.77 189.17 L462.33 189.74 L462.88 190.43 L463.41 191.22 L463.9 192.1 L464.35 193.06 L464.76 194.13 L465.15 195.3 L465.53 196.57 L465.91 197.94 L466.3 199.4 L466.7 200.97 L467.1 202.65 L467.5 204.43 L467.9 206.29 L468.3 208.21 L468.7 210.2 L469.1 212.3 L469.5 214.54 L469.89 216.84 L470.29 219.15 L470.69 221.39 L471.1 223.5 L471.5 225.52 L471.89 227.51 L472.28 229.43 L472.68 231.25 L473.12 232.92 L473.6 234.4 L474.14 235.69 L474.72 236.82 L475.33 237.81 L475.96 238.66 L476.59 239.38 L477.2 240 L477.74 240.46 L478.19 240.76 L478.65 240.92 L479.19 241.02 L479.88 241.1 L480.8 241.2 L481.27 241.32 L481.09 241.41 L481.06 241.47 L482 241.53 L484.71 241.57 L490 241.6 L499.32 241.62 L512.31 241.63 L527.08 241.62 L541.71 241.61 L554.32 241.6 L563 241.6" fill="none" stroke="#e31a1c" stroke-width="1.6" stroke-linejoin="round"/>
<path d="M195 241.5 L197.36 241.48 L200.78 241.46 L204.76 241.43 L208.79 241.4 L212.37 241.35 L215 241.3 L216.59 241.31 L217.51 241.39 L217.99 241.46 L218.23 241.44 L218.47 241.25 L218.9 240.8 L219.5 240.08 L220.07 239.15 L220.64 238.05 L221.19 236.81 L221.74 235.49 L222.3 234.1 L222.87 232.56 L223.45 230.81 L224.03 228.97 L224.59 227.15 L225.11 225.46 L225.6 224 L226.02 222.78 L226.4 221.71 L226.74 220.76 L227.07 219.93 L227.42 219.18 L227.8 218.5 L228.22 217.85 L228.66 217.24 L229.11 216.72 L229.57 216.34 L230.03 216.15 L230.5 216.2 L230.98 216.53 L231.47 217.11 L231.97 217.89 L232.47 218.79 L232.95 219.74 L233.4 220.7 L233.82 221.68 L234.21 222.73 L234.59 223.84 L234.96 225 L235.33 226.19 L235.7 227.4 L236.07 228.67 L236.44 230.02 L236.81 231.4 L237.17 232.76 L237.53 234.04 L237.9 235.2 L238.24 236.25 L238.53 237.25 L238.83 238.17 L239.17 239 L239.58 239.72 L240.1 240.3 L240.41 240.72 L240.42 240.98 L240.5 241.13 L241.04 241.2 L242.41 241.24 L245 241.3 L249.27 241.35 L254.99 241.36 L261.56 241.34 L268.33 241.3 L274.69 241.25 L280 241.2 L284.32 241.16 L288.15 241.12 L291.56 241.07 L294.63 241 L297.42 240.92 L300 240.8 L302.25 240.63 L304.07 240.41 L305.62 240.16 L307.04 239.93 L308.45 239.73 L310 239.6 L311.67 239.55 L313.33 239.54 L315 239.57 L316.67 239.64 L318.33 239.72 L320 239.8 L321.78 239.91 L323.7 240.05 L325.62 240.21 L327.41 240.37 L328.91 240.51 L330 240.6 L333.06 241.39 L333.16 241.38 L333.27 241.37 L333.37 241.35 L333.47 241.33 L333.57 241.31 L333.68 241.28 L333.78 241.26 L333.88 241.23 L333.98 241.19 L334.09 241.16 L334.19 241.11 L334.29 241.07 L334.39 241.02 L334.5 240.96 L334.6 240.89 L334.7 240.82 L334.8 240.75 L334.91 240.66 L335.01 240.56 L335.11 240.46 L335.21 240.34 L335.32 240.21 L335.42 240.07 L335.52 239.92 L335.63 239.74 L335.73 239.56 L335.83 239.35 L335.93 239.12 L336.04 238.87 L336.14 238.6 L336.24 238.3 L336.34 237.98 L336.45 237.62 L336.55 237.24 L336.65 236.81 L336.75 236.35 L336.86 235.85 L336.96 235.31 L337.06 234.72 L337.16 234.07 L337.27 233.38 L337.37 232.62 L337.47 231.81 L337.57 230.93 L337.68 229.97 L337.78 228.95 L337.88 227.84 L337.99 226.64 L338.09 225.36 L338.19 223.97 L338.29 222.49 L338.4 220.89 L338.5 219.18 L338.6 217.35 L338.7 215.39 L338.81 213.29 L338.91 211.05 L339.01 208.66 L339.11 206.11 L339.22 203.4 L339.32 200.5 L339.42 197.43 L339.52 194.16 L339.63 190.7 L339.73 187.02 L339.83 183.13 L339.93 179.01 L340.04 174.65 L340.14 170.05 L340.24 165.19 L340.35 160.08 L340.45 154.69 L340.55 149.01 L340.65 143.05 L340.76 136.8 L340.86 130.23 L340.96 123.35 L341.06 116.15 L341.17 108.62 L341.27 100.75 L341.37 92.54 L341.47 83.98 L341.58 75.06 L341.68 65.78 L341.78 56.14 L341.88 46.13 L341.99 35.75 L342.09 25 L342.19 13.87 L342.29 2.36 L342.4 -9.52 L342.5 -20 L342.6 -20 L342.71 -20 L342.81 -20 L342.91 -20 L343.01 -20 L343.12 -20 L343.22 -20 L343.32 -20 L343.42 -20 L343.53 -20 L343.63 -20 L343.73 -20 L343.83 -20 L343.94 -20 L344.04 -20 L344.14 -20 L344.24 -20 L344.35 -20 L344.45 -20 L344.55 -20 L344.65 -20 L344.76 -20 L344.86 -20 L344.96 -20 L345.07 -20 L345.17 -20 L345.27 -20 L345.37 -20 L345.48 -20 L345.58 -20 L345.68 -20 L345.78 -20 L345.89 -20 L345.99 -20 L346.09 -20 L346.19 -20 L346.3 -20 L346.4 -20 L346.5 -20 L346.6 -20 L346.71 -20 L346.81 -20 L346.91 -20 L347.01 -20 L347.12 -20 L347.22 -20 L347.32 -20 L347.43 -20 L347.53 -20 L347.63 -20 L347.73 -20 L347.84 -20 L347.94 -20 L348.04 -20 L348.14 -20 L348.25 -20 L348.35 -20 L348.45 -20 L348.55 -20 L348.66 -20 L348.76 -20 L348.86 -20 L348.96 -20 L349.07 -20 L349.17 -20 L349.27 -20 L349.37 -20 L349.48 -20 L349.58 -20 L349.68 -20 L349.79 -20 L349.89 -20 L349.99 -20 L350.09 -20 L350.2 -20 L350.3 -20 L350.4 -20 L350.5 -20 L350.61 -20 L350.71 -20 L350.81 -20 L350.91 -20 L351.02 -20 L351.12 -20 L351.22 -20 L351.32 -20 L351.43 -20 L351.53 -20 L351.63 -20 L351.73 -20 L351.84 -20 L351.94 -20 L352.04 -20 L352.15 -20 L352.25 -20 L352.35 -20 L352.45 -20 L352.56 -20 L352.66 -20 L352.76 -20 L352.86 -20 L352.97 -20 L353.07 -20 L353.17 -20 L353.27 -20 L353.38 -20 L353.48 -20 L353.58 -20 L353.68 -20 L353.79 -20 L353.89 -20 L353.99 -20 L354.09 -20 L354.2 -20 L354.3 -20 L354.4 -9.52 L354.51 2.36 L354.61 13.87 L354.71 25 L354.81 35.75 L354.92 46.13 L355.02 56.14 L355.12 65.78 L355.22 75.06 L355.33 83.98 L355.43 92.54 L355.53 100.75 L355.63 108.62 L355.74 116.15 L355.84 123.35 L355.94 130.23 L356.04 136.8 L356.15 143.05 L356.25 149.01 L356.35 154.69 L356.45 160.08 L356.56 165.19 L356.66 170.05 L356.76 174.65 L356.87 179.01 L356.97 183.13 L357.07 187.02 L357.17 190.7 L357.28 194.16 L357.38 197.43 L357.48 200.5 L357.58 203.4 L357.69 206.11 L357.79 208.66 L357.89 211.05 L357.99 213.29 L358.1 215.39 L358.2 217.35 L358.3 219.18 L358.4 220.89 L358.51 222.49 L358.61 223.97 L358.71 225.36 L358.81 226.64 L358.92 227.84 L359.02 228.95 L359.12 229.97 L359.23 230.93 L359.33 231.81 L359.43 232.62 L359.53 233.38 L359.64 234.07 L359.74 234.72 L359.84 235.31 L359.94 235.85 L360.05 236.35 L360.15 236.81 L360.25 237.24 L360.35 237.62 L360.46 237.98 L360.56 238.3 L360.66 238.6 L360.76 238.87 L360.87 239.12 L360.97 239.35 L361.07 239.56 L361.17 239.74 L361.28 239.92 L361.38 240.07 L361.48 240.21 L361.59 240.34 L361.69 240.46 L361.79 240.56 L361.89 240.66 L362 240.75 L362.1 240.82 L362.2 240.89 L362.3 240.96 L362.41 241.02 L362.51 241.07 L362.61 241.11 L362.71 241.16 L362.82 241.19 L362.92 241.23 L363.02 241.26 L363.12 241.28 L363.23 241.31 L363.33 241.33 L363.43 241.35 L363.53 241.37 L363.64 241.38 L363.74 241.39 L378.4 240.6 L378.94 239.93 L379.69 239.09 L380.58 238.04 L381.54 236.77 L382.5 235.23 L383.4 233.4 L384.27 231.1 L385.19 228.31 L386.11 225.27 L386.99 222.17 L387.8 219.25 L388.5 216.7 L389.07 214.5 L389.54 212.48 L389.94 210.62 L390.3 208.92 L390.64 207.38 L391 206 L391.36 204.76 L391.7 203.65 L392.03 202.71 L392.35 201.94 L392.67 201.36 L393 201 L393.33 201.04 L393.65 201.51 L393.97 202.18 L394.3 202.81 L394.64 203.16 L395 203 L395.38 202.04 L395.76 200.4 L396.16 198.49 L396.58 196.71 L397.03 195.44 L397.5 195.1 L398.01 196.17 L398.55 198.43 L399.12 201.21 L399.7 203.84 L400.3 205.66 L400.9 206 L401.5 204.19 L402.11 200.64 L402.73 196.28 L403.37 192.03 L404.02 188.83 L404.7 187.6 L405.4 189.21 L406.11 193.1 L406.84 198.04 L407.59 202.79 L408.38 206.12 L409.2 206.8 L410.07 203.69 L411 197.53 L411.95 189.96 L412.91 182.59 L413.87 177.07 L414.8 175 L415.72 177.74 L416.65 184.26 L417.58 192.62 L418.47 200.87 L419.32 207.08 L420.1 209.3 L420.81 206.96 L421.46 201.49 L422.07 193.98 L422.64 185.51 L423.18 177.15 L423.7 170 L424.19 163.77 L424.64 157.55 L425.06 151.45 L425.47 145.58 L425.88 140.06 L426.3 135 L426.73 130.01 L427.15 124.91 L427.57 120.16 L428 116.2 L428.44 113.5 L428.9 112.5 L429.39 113.5 L429.91 116.2 L430.45 120.16 L430.99 124.91 L431.51 130.01 L432 135 L432.46 140.12 L432.9 145.77 L433.32 151.77 L433.74 157.93 L434.17 164.07 L434.6 170 L435.05 175.97 L435.5 182.19 L435.96 188.38 L436.42 194.29 L436.87 199.65 L437.3 204.2 L437.7 207.77 L438.08 210.54 L438.44 212.76 L438.82 214.69 L439.23 216.58 L439.7 218.7 L440.23 221.06 L440.81 223.44 L441.43 225.8 L442.06 228.06 L442.69 230.14 L443.3 232 L443.88 233.63 L444.45 235.09 L445.02 236.38 L445.6 237.5 L446.22 238.48 L446.9 239.3 L447.64 239.98 L448.44 240.5 L449.27 240.87 L450.13 241.08 L450.97 241.12 L451.8 241 L452.6 240.72 L453.4 240.29 L454.2 239.69 L455 238.91 L455.8 237.96 L456.6 236.8 L457.41 235.35 L458.23 233.6 L459.05 231.66 L459.87 229.65 L460.69 227.69 L461.5 225.9 L462.32 224.14 L463.15 222.28 L463.98 220.48 L464.79 218.86 L465.57 217.59 L466.3 216.8 L466.98 216.55 L467.63 216.73 L468.25 217.25 L468.83 218.01 L469.38 218.93 L469.9 219.9 L470.37 221.01 L470.79 222.34 L471.17 223.82 L471.54 225.37 L471.91 226.93 L472.3 228.4 L472.7 229.85 L473.09 231.36 L473.48 232.87 L473.88 234.31 L474.32 235.64 L474.8 236.8 L475.24 237.79 L475.62 238.66 L476.03 239.41 L476.57 240.04 L477.32 240.57 L478.4 241 L479.83 241.28 L481.55 241.4 L483.49 241.42 L485.59 241.37 L487.78 241.32 L490 241.3 L492.34 241.33 L494.87 241.37 L497.49 241.41 L500.12 241.4 L502.65 241.34 L505 241.2 L507.18 240.95 L509.27 240.6 L511.26 240.2 L513.17 239.77 L514.98 239.36 L516.7 239 L518.3 238.7 L519.79 238.43 L521.18 238.17 L522.51 237.91 L523.81 237.62 L525.1 237.3 L526.39 236.86 L527.67 236.3 L528.91 235.72 L530.11 235.21 L531.24 234.87 L532.3 234.8 L533.23 235.2 L534.02 236.04 L534.76 237.06 L535.5 237.97 L536.32 238.5 L537.3 238.4 L538.46 237.34 L539.74 235.48 L541.11 233.25 L542.51 231.07 L543.89 229.38 L545.2 228.6 L546.45 228.89 L547.67 229.94 L548.88 231.47 L550.06 233.21 L551.24 234.88 L552.4 236.2 L553.5 237.24 L554.51 238.24 L555.52 239.16 L556.57 239.99 L557.75 240.67 L559.1 241.2 L559.81 241.51 L559.67 241.63 L559.64 241.61 L560.71 241.53 L563.83 241.43 L570 241.4 L580.89 241.41 L596.05 241.41 L613.28 241.41 L630.36 241.41 L645.07 241.4 L655.2 241.4" fill="none" stroke="#000" stroke-width="2.1" stroke-dasharray="2.3 2.5"/>
</g>
<rect x="271.5" y="65" width="16.4" height="7.6" fill="#21918c"/>
<rect x="271.6" y="78.9" width="16" height="7.6" fill="#fde725" fill-opacity="0.77" stroke="#c9b41c" stroke-width="0.8"/>
<line x1="244.8" y1="37.4" x2="210" y2="37.4" stroke="#a8a8a8" stroke-width="1.3"/>
<path d="M203.1 37.4 L214.8 32.9 L212.4 37.4 L214.8 41.9 Z" fill="#a8a8a8"/>
<line x1="608.3" y1="164.3" x2="642" y2="164.3" stroke="#a8a8a8" stroke-width="1.3"/>
<path d="M650.2 164.3 L638.6 159.9 L641 164.3 L638.6 168.7 Z" fill="#a8a8a8"/>
<line x1="307.2" y1="51" x2="316.6" y2="88.5" stroke="#222" stroke-width="0.8"/>
<path d="M317.7 92.8 L314.6 86.6 L316.6 87.6 L318.4 85.8 Z" fill="#222"/>
<line x1="589.3" y1="189.4" x2="599.7" y2="189.4" stroke="#e31a1c" stroke-width="1.6"/>
<line x1="588.8" y1="202.5" x2="600.7" y2="202.5" stroke="#000" stroke-width="2" stroke-dasharray="2.3 2.5"/>
<rect x="462.5" y="21.6" width="154" height="84.2" fill="#fff"/>
<clipPath id="ci"><rect x="462.5" y="21.6" width="154" height="84.2"/></clipPath>
<clipPath id="ci2"><rect x="462.5" y="21.6" width="154" height="87.2"/></clipPath>
<g clip-path="url(#ci)">
<path d="M461 106.8 L461 72.2 L461.07 72.22 L461.09 72.22 L461.22 72.26 L461.64 72.43 L462.5 72.8 L463.9 73.37 L465.73 74.08 L467.84 74.94 L470.11 75.95 L472.4 77.1 L474.79 78.48 L477.37 80.09 L480.02 81.8 L482.6 83.48 L485 85 L487.17 86.34 L489.19 87.58 L491.12 88.76 L493.04 89.89 L495 91 L497 92.07 L499 93.09 L500.99 94.08 L502.99 95.04 L505 96 L507.05 96.97 L509.13 97.95 L511.21 98.89 L513.21 99.79 L515.1 100.6 L516.85 101.32 L518.5 101.97 L520.08 102.56 L521.6 103.1 L523.1 103.6 L524.58 104.06 L526.03 104.47 L527.43 104.84 L528.76 105.15 L530 105.4 L531.03 105.58 L531.85 105.68 L532.66 105.74 L533.65 105.77 L535 105.8 L536.89 105.83 L539.18 105.85 L541.63 105.85 L543.99 105.83 L546 105.8 L547.61 105.76 L548.99 105.71 L550.21 105.64 L551.39 105.54 L552.6 105.4 L553.84 105.23 L555.05 105.04 L556.24 104.8 L557.42 104.53 L558.6 104.2 L559.78 103.8 L560.96 103.35 L562.14 102.85 L563.32 102.32 L564.5 101.8 L565.65 101.31 L566.75 100.84 L567.89 100.33 L569.11 99.74 L570.5 99 L572.04 98.14 L573.68 97.21 L575.44 96.15 L577.34 94.93 L579.4 93.5 L581.67 91.79 L584.15 89.82 L586.73 87.71 L589.35 85.57 L591.9 83.5 L594.39 81.5 L596.88 79.5 L599.36 77.51 L601.83 75.54 L604.3 73.6 L606.92 71.57 L609.71 69.44 L612.4 67.4 L614.75 65.63 L616.5 64.3 L617.51 63.54 L617.94 63.22 L618.02 63.17 L617.97 63.22 L618 63.2 L618 106.8 Z" fill="#21918c"/>
<path d="M461 106.8 L461 59.1 L461.07 59.13 L461.09 59.13 L461.22 59.19 L461.64 59.39 L462.5 59.8 L463.93 60.48 L465.83 61.36 L468 62.38 L470.25 63.48 L472.4 64.6 L474.42 65.7 L476.44 66.84 L478.49 68.04 L480.6 69.35 L482.8 70.8 L485.16 72.48 L487.66 74.35 L490.19 76.3 L492.67 78.22 L495 80 L497.14 81.61 L499.15 83.12 L501.1 84.58 L503.03 86.03 L505 87.5 L507.06 89.04 L509.18 90.62 L511.28 92.18 L513.28 93.66 L515.1 95 L516.7 96.17 L518.14 97.21 L519.47 98.16 L520.77 99.08 L522.1 100 L523.48 100.97 L524.87 101.96 L526.24 102.9 L527.56 103.73 L528.8 104.4 L529.94 104.86 L531 105.16 L532.01 105.35 L533 105.48 L534 105.6 L535.01 105.71 L536 105.77 L536.99 105.8 L537.98 105.8 L539 105.8 L540.03 105.8 L541.07 105.81 L542.12 105.79 L543.2 105.72 L544.3 105.6 L545.44 105.43 L546.61 105.23 L547.8 104.98 L549 104.64 L550.2 104.2 L551.4 103.63 L552.6 102.95 L553.8 102.19 L555 101.39 L556.2 100.6 L557.38 99.8 L558.56 98.95 L559.74 98.09 L560.92 97.24 L562.1 96.4 L563.21 95.68 L564.24 95.08 L565.31 94.43 L566.56 93.59 L568.1 92.4 L570 90.81 L572.18 88.91 L574.54 86.8 L576.98 84.56 L579.4 82.3 L581.82 79.95 L584.32 77.45 L586.85 74.88 L589.39 72.34 L591.9 69.9 L594.39 67.58 L596.88 65.31 L599.36 63.09 L601.83 60.89 L604.3 58.7 L606.92 56.38 L609.71 53.93 L612.4 51.58 L614.75 49.53 L616.5 48 L617.51 47.12 L617.94 46.74 L618.02 46.68 L617.97 46.73 L618 46.7 L618 106.8 Z" fill="#fde725" fill-opacity="0.77" stroke="#c9b41c" stroke-width="0.8"/>
</g>
<g clip-path="url(#ci2)">
<path d="M460 105.7 L462.12 105.68 L465.16 105.65 L468.64 105.61 L472.08 105.56 L475 105.5 L477.32 105.42 L479.36 105.32 L481.24 105.21 L483.08 105.1 L485 105 L487 104.91 L489 104.82 L491 104.73 L493 104.63 L495 104.5 L496.97 104.36 L498.91 104.21 L500.86 104.04 L502.88 103.84 L505 103.6 L507.35 103.29 L509.91 102.92 L512.47 102.52 L514.87 102.14 L516.9 101.8 L518.48 101.53 L519.73 101.29 L520.79 101.07 L521.8 100.85 L522.9 100.6 L524.1 100.31 L525.32 99.98 L526.52 99.66 L527.69 99.35 L528.8 99.1 L529.83 98.89 L530.8 98.7 L531.74 98.56 L532.66 98.45 L533.6 98.4 L534.53 98.41 L535.42 98.48 L536.33 98.58 L537.28 98.73 L538.3 98.9 L539.45 99.12 L540.69 99.39 L541.97 99.68 L543.19 99.97 L544.3 100.2 L545.26 100.39 L546.11 100.55 L546.91 100.69 L547.7 100.81 L548.5 100.9 L549.3 100.96 L550.06 101 L550.83 101.02 L551.66 101.02 L552.6 101 L553.68 100.95 L554.87 100.86 L556.12 100.77 L557.38 100.7 L558.6 100.7 L559.78 100.76 L560.96 100.86 L562.14 101.01 L563.32 101.19 L564.5 101.4 L565.72 101.67 L566.96 101.99 L568.2 102.35 L569.39 102.69 L570.5 103 L571.41 103.27 L572.14 103.51 L572.88 103.75 L573.77 103.97 L575 104.2 L576.57 104.44 L578.36 104.68 L580.38 104.92 L582.59 105.13 L585 105.3 L587.6 105.43 L590.4 105.52 L593.4 105.6 L596.6 105.65 L600 105.7 L604 105.74 L608.6 105.77 L613.2 105.78 L617.2 105.79 L620 105.8" fill="none" stroke="#e31a1c" stroke-width="1.6"/>
<path d="M460.5 105.8 L460.9 105.8 L461.29 105.8 L461.69 105.8 L462.08 105.8 L462.48 105.8 L462.88 105.8 L463.27 105.8 L463.67 105.8 L464.06 105.8 L464.46 105.8 L464.86 105.8 L465.25 105.8 L465.65 105.8 L466.04 105.8 L466.44 105.8 L466.84 105.8 L467.23 105.8 L467.63 105.8 L468.02 105.8 L468.42 105.8 L468.82 105.8 L469.21 105.8 L469.61 105.8 L470 105.8 L470.4 105.8 L470.8 105.8 L471.19 105.8 L471.59 105.8 L471.98 105.8 L472.38 105.8 L472.78 105.8 L473.17 105.8 L473.57 105.8 L473.96 105.8 L474.36 105.8 L474.76 105.8 L475.15 105.8 L475.55 105.8 L475.94 105.8 L476.34 105.8 L476.74 105.8 L477.13 105.8 L477.53 105.8 L477.92 105.8 L478.32 105.8 L478.72 105.8 L479.11 105.8 L479.51 105.8 L479.9 105.8 L480.3 105.8 L480.7 105.8 L481.09 105.8 L481.49 105.8 L481.88 105.8 L482.28 105.8 L482.68 105.8 L483.07 105.8 L483.47 105.8 L483.86 105.8 L484.26 105.8 L484.66 105.79 L485.05 105.79 L485.45 105.79 L485.84 105.79 L486.24 105.79 L486.64 105.79 L487.03 105.79 L487.43 105.79 L487.82 105.78 L488.22 105.78 L488.62 105.78 L489.01 105.78 L489.41 105.77 L489.8 105.77 L490.2 105.77 L490.6 105.76 L490.99 105.76 L491.39 105.75 L491.78 105.74 L492.18 105.74 L492.58 105.73 L492.97 105.72 L493.37 105.71 L493.76 105.7 L494.16 105.69 L494.56 105.67 L494.95 105.66 L495.35 105.64 L495.74 105.62 L496.14 105.6 L496.54 105.58 L496.93 105.56 L497.33 105.53 L497.72 105.5 L498.12 105.47 L498.52 105.43 L498.91 105.39 L499.31 105.35 L499.7 105.3 L500.1 105.24 L500.49 105.19 L500.89 105.12 L501.29 105.06 L501.68 104.98 L502.08 104.9 L502.47 104.81 L502.87 104.72 L503.27 104.61 L503.66 104.5 L504.06 104.38 L504.45 104.25 L504.85 104.1 L505.25 103.95 L505.64 103.79 L506.04 103.61 L506.43 103.42 L506.83 103.21 L507.23 102.99 L507.62 102.76 L508.02 102.5 L508.41 102.23 L508.81 101.95 L509.21 101.64 L509.6 101.31 L510 100.97 L510.39 100.6 L510.79 100.21 L511.19 99.79 L511.58 99.35 L511.98 98.89 L512.37 98.4 L512.77 97.88 L513.17 97.34 L513.56 96.77 L513.96 96.17 L514.35 95.54 L514.75 94.87 L515.15 94.18 L515.54 93.46 L515.94 92.7 L516.33 91.91 L516.73 91.09 L517.13 90.24 L517.52 89.35 L517.92 88.43 L518.31 87.48 L518.71 86.49 L519.11 85.47 L519.5 84.42 L519.9 83.34 L520.29 82.22 L520.69 81.08 L521.09 79.9 L521.48 78.7 L521.88 77.47 L522.27 76.21 L522.67 74.93 L523.07 73.63 L523.46 72.3 L523.86 70.96 L524.25 69.59 L524.65 68.21 L525.05 66.82 L525.44 65.42 L525.84 64.01 L526.23 62.59 L526.63 61.17 L527.03 59.75 L527.42 58.33 L527.82 56.91 L528.21 55.51 L528.61 54.11 L529.01 52.73 L529.4 51.37 L529.8 50.03 L530.19 48.72 L530.59 47.43 L530.99 46.17 L531.38 44.95 L531.78 43.76 L532.17 42.61 L532.57 41.51 L532.97 40.45 L533.36 39.45 L533.76 38.49 L534.15 37.59 L534.55 36.75 L534.95 35.96 L535.34 35.24 L535.74 34.58 L536.13 33.99 L536.53 33.47 L536.93 33.01 L537.32 32.63 L537.72 32.32 L538.11 32.08 L538.51 31.91 L538.91 31.82 L539.3 31.8 L539.7 31.86 L540.09 31.99 L540.49 32.19 L540.89 32.47 L541.28 32.82 L541.68 33.24 L542.07 33.73 L542.47 34.29 L542.87 34.91 L543.26 35.61 L543.66 36.36 L544.05 37.17 L544.45 38.05 L544.85 38.98 L545.24 39.96 L545.64 40.99 L546.03 42.07 L546.43 43.2 L546.83 44.37 L547.22 45.57 L547.62 46.81 L548.01 48.09 L548.41 49.39 L548.81 50.72 L549.2 52.07 L549.6 53.44 L549.99 54.83 L550.39 56.23 L550.79 57.64 L551.18 59.06 L551.58 60.48 L551.97 61.9 L552.37 63.32 L552.77 64.73 L553.16 66.14 L553.56 67.54 L553.95 68.93 L554.35 70.3 L554.75 71.65 L555.14 72.99 L555.54 74.3 L555.93 75.59 L556.33 76.86 L556.73 78.11 L557.12 79.32 L557.52 80.51 L557.91 81.67 L558.31 82.8 L558.71 83.9 L559.1 84.96 L559.5 86 L559.89 87 L560.29 87.97 L560.69 88.91 L561.08 89.81 L561.48 90.68 L561.87 91.52 L562.27 92.32 L562.67 93.09 L563.06 93.83 L563.46 94.54 L563.85 95.22 L564.25 95.86 L564.65 96.48 L565.04 97.07 L565.44 97.62 L565.83 98.15 L566.23 98.66 L566.63 99.13 L567.02 99.58 L567.42 100.01 L567.81 100.41 L568.21 100.79 L568.61 101.15 L569 101.48 L569.4 101.8 L569.79 102.1 L570.19 102.38 L570.59 102.64 L570.98 102.88 L571.38 103.11 L571.77 103.32 L572.17 103.52 L572.57 103.7 L572.96 103.87 L573.36 104.03 L573.75 104.18 L574.15 104.31 L574.55 104.44 L574.94 104.56 L575.34 104.67 L575.73 104.77 L576.13 104.86 L576.53 104.94 L576.92 105.02 L577.32 105.09 L577.71 105.16 L578.11 105.22 L578.51 105.27 L578.9 105.32 L579.3 105.37 L579.69 105.41 L580.09 105.45 L580.48 105.48 L580.88 105.52 L581.28 105.54 L581.67 105.57 L582.07 105.59 L582.46 105.61 L582.86 105.63 L583.26 105.65 L583.65 105.67 L584.05 105.68 L584.44 105.69 L584.84 105.71 L585.24 105.72 L585.63 105.73 L586.03 105.73 L586.42 105.74 L586.82 105.75 L587.22 105.75 L587.61 105.76 L588.01 105.76 L588.4 105.77 L588.8 105.77 L589.2 105.78 L589.59 105.78 L589.99 105.78 L590.38 105.78 L590.78 105.79 L591.18 105.79 L591.57 105.79 L591.97 105.79 L592.36 105.79 L592.76 105.79 L593.16 105.79 L593.55 105.79 L593.95 105.79 L594.34 105.8 L594.74 105.8 L595.14 105.8 L595.53 105.8 L595.93 105.8 L596.32 105.8 L596.72 105.8 L597.12 105.8 L597.51 105.8 L597.91 105.8 L598.3 105.8 L598.7 105.8 L599.1 105.8 L599.49 105.8 L599.89 105.8 L600.28 105.8 L600.68 105.8 L601.08 105.8 L601.47 105.8 L601.87 105.8 L602.26 105.8 L602.66 105.8 L603.06 105.8 L603.45 105.8 L603.85 105.8 L604.24 105.8 L604.64 105.8 L605.04 105.8 L605.43 105.8 L605.83 105.8 L606.22 105.8 L606.62 105.8 L607.02 105.8 L607.41 105.8 L607.81 105.8 L608.2 105.8 L608.6 105.8 L609 105.8 L609.39 105.8 L609.79 105.8 L610.18 105.8 L610.58 105.8 L610.98 105.8 L611.37 105.8 L611.77 105.8 L612.16 105.8 L612.56 105.8 L612.96 105.8 L613.35 105.8 L613.75 105.8 L614.14 105.8 L614.54 105.8 L614.94 105.8 L615.33 105.8 L615.73 105.8 L616.12 105.8 L616.52 105.8 L616.92 105.8 L617.31 105.8 L617.71 105.8 L618.1 105.8 L618.5 105.8" fill="none" stroke="#000" stroke-width="2.1" stroke-dasharray="2.3 2.5"/>
</g>
<rect x="462.5" y="21.6" width="154" height="84.2" fill="none" stroke="#333" stroke-width="1"/>
<line x1="462.5" y1="105.8" x2="462.5" y2="103.8" stroke="#333" stroke-width="1"/>
<line x1="462.5" y1="21.6" x2="462.5" y2="23.6" stroke="#333" stroke-width="1"/>
<line x1="539.5" y1="105.8" x2="539.5" y2="103.8" stroke="#333" stroke-width="1"/>
<line x1="539.5" y1="21.6" x2="539.5" y2="23.6" stroke="#333" stroke-width="1"/>
<line x1="616.5" y1="105.8" x2="616.5" y2="103.8" stroke="#333" stroke-width="1"/>
<line x1="616.5" y1="21.6" x2="616.5" y2="23.6" stroke="#333" stroke-width="1"/>
<line x1="462.5" y1="105.8" x2="464.5" y2="105.8" stroke="#333" stroke-width="1"/>
<line x1="462.5" y1="63.7" x2="464.5" y2="63.7" stroke="#333" stroke-width="1"/>
<line x1="462.5" y1="21.6" x2="464.5" y2="21.6" stroke="#333" stroke-width="1"/>
<line x1="616.5" y1="105.8" x2="614.5" y2="105.8" stroke="#333" stroke-width="1"/>
<line x1="616.5" y1="63.7" x2="614.5" y2="63.7" stroke="#333" stroke-width="1"/>
<line x1="616.5" y1="21.6" x2="614.5" y2="21.6" stroke="#333" stroke-width="1"/>
<g font-family="Liberation Serif, serif" fill="#000" stroke="#000" stroke-width="0.12"><text x="29.6" y="23.1" text-anchor="end" font-size="10">2.6</text><text x="29.6" y="38.4" text-anchor="end" font-size="10">2.1</text><text x="29.6" y="53.6" text-anchor="end" font-size="10">1.6</text><text x="29.6" y="68.7" text-anchor="end" font-size="10">1.1</text><text x="29.6" y="86.5" text-anchor="end" font-size="10">−0.7</text><text x="29.6" y="104.8" text-anchor="end" font-size="10">−1.1</text><text x="29.6" y="123.1" text-anchor="end" font-size="10">−1.5</text><text x="29.6" y="143.8" text-anchor="end" font-size="10">8.0</text><text x="29.6" y="165.2" text-anchor="end" font-size="10">6.7</text><text x="29.6" y="186.5" text-anchor="end" font-size="10">5.4</text><text x="29.6" y="205.6" text-anchor="end" font-size="10">−2.1</text><text x="29.6" y="225.4" text-anchor="end" font-size="10">−2.8</text><text x="29.6" y="244.8" text-anchor="end" font-size="10">−3.5</text><text x="33.3" y="133.6" text-anchor="middle" font-size="10">0</text><text x="53.93" y="133.6" text-anchor="middle" font-size="10">50</text><text x="74.57" y="133.6" text-anchor="middle" font-size="10">100</text><text x="95.2" y="133.6" text-anchor="middle" font-size="10">150</text><text x="115.83" y="133.6" text-anchor="middle" font-size="10">200</text><text x="136.47" y="133.6" text-anchor="middle" font-size="10">250</text><text x="157.1" y="133.6" text-anchor="middle" font-size="10">300</text><text x="33.3" y="255.1" text-anchor="middle" font-size="10">0</text><text x="53.93" y="255.1" text-anchor="middle" font-size="10">50</text><text x="74.57" y="255.1" text-anchor="middle" font-size="10">100</text><text x="95.2" y="255.1" text-anchor="middle" font-size="10">150</text><text x="115.83" y="255.1" text-anchor="middle" font-size="10">200</text><text x="136.47" y="255.1" text-anchor="middle" font-size="10">250</text><text x="157.1" y="255.1" text-anchor="middle" font-size="10">300</text><text x="153.4" y="31.3" text-anchor="end" font-size="11.4">(a)</text><text x="154.0" y="151.8" text-anchor="end" font-size="11.4">(b)</text><text x="98" y="265.5" text-anchor="middle" font-size="10.5"><tspan font-style="italic">T</tspan>(K)</text><text transform="translate(8.2,68.2) rotate(-90)" text-anchor="middle" font-size="11.5"><tspan font-style="italic">ħ</tspan>Δ (meV)</text><text transform="translate(7.5,189.5) rotate(-90)" text-anchor="middle" font-size="11.5"><tspan font-style="italic">ħ</tspan>Δ<tspan font-size="8" dy="2">xx</tspan><tspan dy="-2"> (meV)</tspan></text><text x="24.6" y="8.3" font-size="11.6">Fidelity</text><text x="67.5" y="17.4" text-anchor="middle" font-size="10">0.0</text><text x="84.58" y="17.4" text-anchor="middle" font-size="10">0.2</text><text x="101.66" y="17.4" text-anchor="middle" font-size="10">0.4</text><text x="118.74" y="17.4" text-anchor="middle" font-size="10">0.6</text><text x="135.82" y="17.4" text-anchor="middle" font-size="10">0.8</text><text x="152.9" y="17.4" text-anchor="middle" font-size="10">1.0</text><text x="195" y="254.5" text-anchor="middle" font-size="10">−3</text><text x="246.13" y="254.5" text-anchor="middle" font-size="10">−2</text><text x="297.27" y="254.5" text-anchor="middle" font-size="10">−1</text><text x="348.4" y="254.5" text-anchor="middle" font-size="10">0</text><text x="399.53" y="254.5" text-anchor="middle" font-size="10">1</text><text x="450.67" y="254.5" text-anchor="middle" font-size="10">2</text><text x="501.8" y="254.5" text-anchor="middle" font-size="10">3</text><text x="552.93" y="254.5" text-anchor="middle" font-size="10">4</text><text x="604.07" y="254.5" text-anchor="middle" font-size="10">5</text><text x="655.2" y="254.5" text-anchor="middle" font-size="10">6</text><text x="191.2" y="244.9" text-anchor="end" font-size="10">0</text><text x="661.1" y="244.9" text-anchor="start" font-size="10">0</text><text x="191.8" y="197.26" text-anchor="end" font-size="10">10</text><text x="659.8" y="197.26" text-anchor="start" font-size="10">10</text><text x="191.8" y="149.62" text-anchor="end" font-size="10">20</text><text x="659.8" y="149.62" text-anchor="start" font-size="10">20</text><text x="191.8" y="101.98" text-anchor="end" font-size="10">30</text><text x="659.8" y="101.98" text-anchor="start" font-size="10">30</text><text x="191.8" y="54.34" text-anchor="end" font-size="10">40</text><text x="659.8" y="54.34" text-anchor="start" font-size="10">40</text><text x="191.8" y="6.7" text-anchor="end" font-size="10">50</text><text x="659.8" y="6.7" text-anchor="start" font-size="10">50</text><text x="199.5" y="16.0" font-size="11.8">(c)</text><text x="404.6" y="265.5" font-size="11.5"><tspan font-style="italic" font-weight="bold">ħ</tspan><tspan font-style="italic">ω</tspan> (meV)</text><text transform="translate(177.4,121.3) rotate(-90)" text-anchor="middle" font-size="11.5"><tspan font-style="italic">R</tspan>(<tspan font-style="italic">ω</tspan>) (1/ns)</text><text transform="translate(683.2,123.8) rotate(-90)" text-anchor="middle" font-size="11.5"><tspan font-style="italic">S</tspan>(<tspan font-style="italic">ω</tspan>) (ps<tspan font-size="8.5" dy="-4.5">2</tspan><tspan dy="4.5">)</tspan></text><text x="287.5" y="39.5" text-anchor="end" font-size="10.5">Phonon</text><text x="287.5" y="54" text-anchor="end" font-size="10.5">spectral density:</text><text x="266" y="70.5" text-anchor="end" font-size="10.5">InAs/GaAs</text><text x="266" y="84.8" text-anchor="end" font-size="10.5">GaAs/AlGaAs</text><text x="299.2" y="48.0" font-size="11.2">×<tspan dx="1.2">5</tspan></text><text x="600.7" y="162" text-anchor="end" font-size="10.5">Nonlinear spectral</text><text x="600.7" y="172.6" text-anchor="end" font-size="10.5">characteristics:</text><text x="585" y="192.5" text-anchor="end" font-size="10.5"><tspan font-style="italic">S</tspan><tspan font-size="7.5" dy="-5">(x)</tspan><tspan dy="5">(</tspan><tspan font-style="italic">ω</tspan>)</text><text x="585" y="206.9" text-anchor="end" font-size="10.5"><tspan font-style="italic">S</tspan><tspan font-size="7.5" dy="-5">(xx)</tspan><tspan dy="5">(</tspan><tspan font-style="italic">ω</tspan>)</text><text x="462.5" y="120.5" text-anchor="middle" font-size="10">−0.4</text><text x="539.5" y="120.5" text-anchor="middle" font-size="10">0</text><text x="616.5" y="120.5" text-anchor="middle" font-size="10">0.4</text><text x="459.5" y="109.1" text-anchor="end" font-size="10">0</text><text x="459.5" y="67" text-anchor="end" font-size="10">25</text><text x="459.5" y="24.9" text-anchor="end" font-size="10">50</text><text x="619.5" y="109.1" text-anchor="start" font-size="10">0</text><text x="619.5" y="67" text-anchor="start" font-size="10">125</text><text x="619.5" y="24.9" text-anchor="start" font-size="10">250</text><text x="517" y="131.3" font-size="11.5"><tspan font-style="italic" font-weight="bold">ħ</tspan><tspan font-style="italic">ω</tspan> (meV)</text><text transform="translate(446.2,63.0) rotate(-90)" text-anchor="middle" font-size="11.5"><tspan font-style="italic">R</tspan>(<tspan font-style="italic">ω</tspan>) (1/ns)</text><text transform="translate(645.3,65.4) rotate(-90)" text-anchor="middle" font-size="11.5"><tspan font-style="italic">S</tspan>(<tspan font-style="italic">ω</tspan>) (ps<tspan font-size="8.5" dy="-4.5">2</tspan><tspan dy="4.5">)</tspan></text></g>
</svg>
</body></html>
